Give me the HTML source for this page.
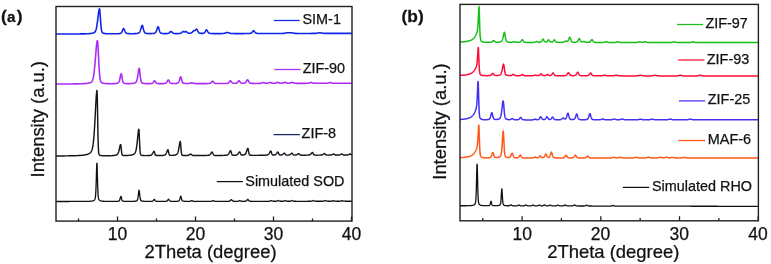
<!DOCTYPE html>
<html><head><meta charset="utf-8"><title>XRD patterns</title>
<style>html,body{margin:0;padding:0;background:#fff;overflow:hidden}svg{display:block}
text{font-family:"Liberation Sans",sans-serif}
.t{will-change:transform}</style></head>
<body>
<svg width="771" height="264" viewBox="0 0 771 264">
<rect width="771" height="264" fill="#ffffff"/>
<g><path d="M56.00 34.07 L56.25 34.07 L56.50 34.07 L56.75 34.07 L57.00 34.07 L57.25 34.07 L57.50 34.07 L57.75 34.07 L58.00 34.07 L58.25 34.07 L58.50 34.06 L58.75 34.06 L59.00 34.06 L59.25 34.06 L59.50 34.06 L59.75 34.06 L60.00 34.06 L60.25 34.06 L60.50 34.06 L60.75 34.06 L61.00 34.06 L61.25 34.05 L61.50 34.05 L61.75 34.05 L62.00 34.05 L62.25 34.05 L62.50 34.05 L62.75 34.05 L63.00 34.05 L63.25 34.05 L63.50 34.04 L63.75 34.04 L64.00 34.04 L64.25 34.04 L64.50 34.04 L64.75 34.04 L65.00 34.04 L65.25 34.04 L65.50 34.04 L65.75 34.03 L66.00 34.03 L66.25 34.03 L66.50 34.03 L66.75 34.03 L67.00 34.03 L67.25 34.03 L67.50 34.03 L67.75 34.02 L68.00 34.02 L68.25 34.02 L68.50 34.02 L68.75 34.02 L69.00 34.02 L69.25 34.02 L69.50 34.01 L69.75 34.01 L70.00 34.01 L70.25 34.01 L70.50 34.01 L70.75 34.01 L71.00 34.01 L71.25 34.00 L71.50 34.00 L71.75 34.00 L72.00 34.00 L72.25 34.00 L72.50 34.00 L72.75 33.99 L73.00 33.99 L73.25 33.99 L73.50 33.99 L73.75 33.99 L74.00 33.99 L74.25 33.98 L74.50 33.98 L74.75 33.98 L75.00 33.98 L75.25 33.98 L75.50 33.97 L75.75 33.97 L76.00 33.97 L76.25 33.97 L76.50 33.96 L76.75 33.96 L77.00 33.96 L77.25 33.96 L77.50 33.95 L77.75 33.95 L78.00 33.95 L78.25 33.95 L78.50 33.94 L78.75 33.94 L79.00 33.94 L79.25 33.94 L79.50 33.93 L79.75 33.93 L80.00 33.93 L80.25 33.92 L80.50 33.92 L80.75 33.92 L81.00 33.91 L81.25 33.91 L81.50 33.90 L81.75 33.90 L82.00 33.90 L82.25 33.89 L82.50 33.89 L82.75 33.88 L83.00 33.88 L83.25 33.87 L83.50 33.87 L83.75 33.86 L84.00 33.85 L84.25 33.85 L84.50 33.84 L84.75 33.84 L85.00 33.83 L85.25 33.82 L85.50 33.81 L85.75 33.81 L86.00 33.80 L86.25 33.79 L86.50 33.78 L86.75 33.77 L87.00 33.76 L87.25 33.75 L87.50 33.74 L87.75 33.72 L88.00 33.71 L88.25 33.70 L88.50 33.68 L88.75 33.67 L89.00 33.65 L89.25 33.63 L89.50 33.62 L89.75 33.60 L90.00 33.57 L90.25 33.55 L90.50 33.53 L90.75 33.50 L91.00 33.47 L91.25 33.44 L91.50 33.40 L91.75 33.37 L92.00 33.33 L92.25 33.28 L92.50 33.23 L92.75 33.17 L93.00 33.11 L93.25 33.04 L93.50 32.95 L93.75 32.85 L94.00 32.73 L94.25 32.58 L94.50 32.40 L94.75 32.17 L95.00 31.87 L95.25 31.50 L95.50 31.02 L95.75 30.43 L96.00 29.69 L96.25 28.79 L96.50 27.70 L96.75 26.41 L97.00 24.93 L97.25 23.24 L97.50 21.38 L97.75 19.37 L98.00 17.29 L98.25 15.19 L98.50 13.20 L98.75 11.42 L99.00 10.01 L99.25 9.09 L99.50 8.77 L99.75 9.80 L100.00 12.51 L100.25 16.13 L100.50 19.92 L100.75 23.39 L101.00 26.27 L101.25 28.49 L101.50 30.09 L101.75 31.19 L102.00 31.90 L102.25 32.37 L102.50 32.68 L102.75 32.89 L103.00 33.04 L103.25 33.15 L103.50 33.24 L103.75 33.32 L104.00 33.38 L104.25 33.44 L104.50 33.48 L104.75 33.52 L105.00 33.56 L105.25 33.59 L105.50 33.62 L105.75 33.64 L106.00 33.66 L106.25 33.68 L106.50 33.70 L106.75 33.71 L107.00 33.72 L107.25 33.74 L107.50 33.75 L107.75 33.76 L108.00 33.77 L108.25 33.77 L108.50 33.78 L108.75 33.79 L109.00 33.79 L109.25 33.80 L109.50 33.80 L109.75 33.81 L110.00 33.81 L110.25 33.81 L110.50 33.81 L110.75 33.82 L111.00 33.82 L111.25 33.82 L111.50 33.82 L111.75 33.82 L112.00 33.82 L112.25 33.82 L112.50 33.82 L112.75 33.82 L113.00 33.82 L113.25 33.82 L113.50 33.82 L113.75 33.82 L114.00 33.82 L114.25 33.82 L114.50 33.81 L114.75 33.81 L115.00 33.81 L115.25 33.80 L115.50 33.80 L115.75 33.80 L116.00 33.79 L116.25 33.79 L116.50 33.78 L116.75 33.77 L117.00 33.76 L117.25 33.76 L117.50 33.75 L117.75 33.73 L118.00 33.72 L118.25 33.71 L118.50 33.69 L118.75 33.67 L119.00 33.65 L119.25 33.62 L119.50 33.59 L119.75 33.55 L120.00 33.49 L120.25 33.42 L120.50 33.32 L120.75 33.18 L121.00 33.00 L121.25 32.75 L121.50 32.43 L121.75 32.03 L122.00 31.55 L122.25 30.99 L122.50 30.38 L122.75 29.76 L123.00 29.19 L123.25 28.77 L123.50 28.57 L123.75 28.65 L124.00 28.99 L124.25 29.51 L124.50 30.12 L124.75 30.74 L125.00 31.32 L125.25 31.83 L125.50 32.26 L125.75 32.61 L126.00 32.88 L126.25 33.09 L126.50 33.24 L126.75 33.35 L127.00 33.43 L127.25 33.49 L127.50 33.53 L127.75 33.57 L128.00 33.59 L128.25 33.62 L128.50 33.63 L128.75 33.65 L129.00 33.66 L129.25 33.67 L129.50 33.68 L129.75 33.69 L130.00 33.69 L130.25 33.70 L130.50 33.70 L130.75 33.70 L131.00 33.71 L131.25 33.71 L131.50 33.71 L131.75 33.71 L132.00 33.71 L132.25 33.70 L132.50 33.70 L132.75 33.70 L133.00 33.69 L133.25 33.69 L133.50 33.68 L133.75 33.68 L134.00 33.67 L134.25 33.66 L134.50 33.65 L134.75 33.64 L135.00 33.63 L135.25 33.62 L135.50 33.60 L135.75 33.59 L136.00 33.57 L136.25 33.55 L136.50 33.53 L136.75 33.50 L137.00 33.47 L137.25 33.43 L137.50 33.39 L137.75 33.34 L138.00 33.27 L138.25 33.19 L138.50 33.08 L138.75 32.94 L139.00 32.76 L139.25 32.52 L139.50 32.21 L139.75 31.81 L140.00 31.32 L140.25 30.73 L140.50 30.04 L140.75 29.25 L141.00 28.40 L141.25 27.53 L141.50 26.69 L141.75 25.98 L142.00 25.49 L142.25 25.32 L142.50 25.58 L142.75 26.28 L143.00 27.25 L143.25 28.32 L143.50 29.37 L143.75 30.30 L144.00 31.09 L144.25 31.72 L144.50 32.21 L144.75 32.57 L145.00 32.83 L145.25 33.02 L145.50 33.16 L145.75 33.25 L146.00 33.32 L146.25 33.38 L146.50 33.42 L146.75 33.46 L147.00 33.48 L147.25 33.51 L147.50 33.53 L147.75 33.54 L148.00 33.56 L148.25 33.57 L148.50 33.58 L148.75 33.59 L149.00 33.59 L149.25 33.60 L149.50 33.60 L149.75 33.60 L150.00 33.60 L150.25 33.60 L150.50 33.60 L150.75 33.60 L151.00 33.59 L151.25 33.59 L151.50 33.58 L151.75 33.57 L152.00 33.56 L152.25 33.55 L152.50 33.53 L152.75 33.51 L153.00 33.49 L153.25 33.46 L153.50 33.43 L153.75 33.40 L154.00 33.35 L154.25 33.29 L154.50 33.21 L154.75 33.10 L155.00 32.96 L155.25 32.77 L155.50 32.52 L155.75 32.20 L156.00 31.79 L156.25 31.28 L156.50 30.68 L156.75 29.99 L157.00 29.24 L157.25 28.48 L157.50 27.76 L157.75 27.18 L158.00 26.84 L158.25 26.82 L158.50 27.25 L158.75 28.03 L159.00 28.97 L159.25 29.92 L159.50 30.77 L159.75 31.49 L160.00 32.06 L160.25 32.49 L160.50 32.80 L160.75 33.02 L161.00 33.17 L161.25 33.27 L161.50 33.35 L161.75 33.40 L162.00 33.45 L162.25 33.48 L162.50 33.51 L162.75 33.53 L163.00 33.55 L163.25 33.56 L163.50 33.58 L163.75 33.59 L164.00 33.59 L164.25 33.60 L164.50 33.61 L164.75 33.61 L165.00 33.61 L165.25 33.61 L165.50 33.61 L165.75 33.61 L166.00 33.61 L166.25 33.60 L166.50 33.59 L166.75 33.58 L167.00 33.57 L167.25 33.54 L167.50 33.51 L167.75 33.47 L168.00 33.42 L168.25 33.35 L168.50 33.25 L168.75 33.13 L169.00 32.98 L169.25 32.79 L169.50 32.58 L169.75 32.35 L170.00 32.11 L170.25 31.88 L170.50 31.68 L170.75 31.56 L171.00 31.53 L171.25 31.60 L171.50 31.75 L171.75 31.97 L172.00 32.20 L172.25 32.44 L172.50 32.67 L172.75 32.86 L173.00 33.03 L173.25 33.17 L173.50 33.29 L173.75 33.37 L174.00 33.44 L174.25 33.48 L174.50 33.52 L174.75 33.54 L175.00 33.56 L175.25 33.58 L175.50 33.59 L175.75 33.59 L176.00 33.60 L176.25 33.60 L176.50 33.60 L176.75 33.61 L177.00 33.60 L177.25 33.60 L177.50 33.60 L177.75 33.60 L178.00 33.59 L178.25 33.58 L178.50 33.57 L178.75 33.56 L179.00 33.55 L179.25 33.53 L179.50 33.51 L179.75 33.47 L180.00 33.43 L180.25 33.37 L180.50 33.29 L180.75 33.19 L181.00 33.06 L181.25 32.89 L181.50 32.70 L181.75 32.48 L182.00 32.24 L182.25 32.01 L182.50 31.80 L182.75 31.64 L183.00 31.57 L183.25 31.58 L183.50 31.66 L183.75 31.76 L184.00 31.86 L184.25 31.92 L184.50 31.93 L184.75 31.89 L185.00 31.81 L185.25 31.70 L185.50 31.60 L185.75 31.53 L186.00 31.55 L186.25 31.65 L186.50 31.82 L186.75 32.04 L187.00 32.27 L187.25 32.49 L187.50 32.69 L187.75 32.86 L188.00 33.00 L188.25 33.11 L188.50 33.19 L188.75 33.24 L189.00 33.28 L189.25 33.30 L189.50 33.30 L189.75 33.29 L190.00 33.27 L190.25 33.23 L190.50 33.18 L190.75 33.11 L191.00 33.01 L191.25 32.89 L191.50 32.74 L191.75 32.55 L192.00 32.34 L192.25 32.10 L192.50 31.84 L192.75 31.57 L193.00 31.31 L193.25 31.08 L193.50 30.89 L193.75 30.77 L194.00 30.71 L194.25 30.67 L194.50 30.63 L194.75 30.56 L195.00 30.44 L195.25 30.25 L195.50 30.00 L195.75 29.72 L196.00 29.43 L196.25 29.21 L196.50 29.10 L196.75 29.16 L197.00 29.44 L197.25 29.89 L197.50 30.44 L197.75 30.99 L198.00 31.51 L198.25 31.95 L198.50 32.32 L198.75 32.62 L199.00 32.84 L199.25 33.00 L199.50 33.12 L199.75 33.20 L200.00 33.26 L200.25 33.30 L200.50 33.33 L200.75 33.35 L201.00 33.37 L201.25 33.38 L201.50 33.38 L201.75 33.38 L202.00 33.38 L202.25 33.37 L202.50 33.36 L202.75 33.34 L203.00 33.31 L203.25 33.26 L203.50 33.20 L203.75 33.11 L204.00 32.98 L204.25 32.81 L204.50 32.59 L204.75 32.30 L205.00 31.96 L205.25 31.56 L205.50 31.13 L205.75 30.69 L206.00 30.28 L206.25 29.98 L206.50 29.85 L206.75 29.92 L207.00 30.20 L207.25 30.62 L207.50 31.10 L207.75 31.57 L208.00 32.00 L208.25 32.37 L208.50 32.67 L208.75 32.90 L209.00 33.08 L209.25 33.20 L209.50 33.29 L209.75 33.36 L210.00 33.41 L210.25 33.44 L210.50 33.47 L210.75 33.49 L211.00 33.51 L211.25 33.52 L211.50 33.53 L211.75 33.55 L212.00 33.56 L212.25 33.56 L212.50 33.57 L212.75 33.58 L213.00 33.58 L213.25 33.59 L213.50 33.59 L213.75 33.60 L214.00 33.60 L214.25 33.60 L214.50 33.60 L214.75 33.61 L215.00 33.61 L215.25 33.61 L215.50 33.61 L215.75 33.61 L216.00 33.61 L216.25 33.61 L216.50 33.61 L216.75 33.62 L217.00 33.62 L217.25 33.62 L217.50 33.62 L217.75 33.61 L218.00 33.61 L218.25 33.61 L218.50 33.61 L218.75 33.61 L219.00 33.61 L219.25 33.61 L219.50 33.61 L219.75 33.60 L220.00 33.60 L220.25 33.60 L220.50 33.60 L220.75 33.59 L221.00 33.59 L221.25 33.58 L221.50 33.58 L221.75 33.57 L222.00 33.56 L222.25 33.56 L222.50 33.54 L222.75 33.53 L223.00 33.51 L223.25 33.49 L223.50 33.46 L223.75 33.43 L224.00 33.38 L224.25 33.33 L224.50 33.28 L224.75 33.21 L225.00 33.13 L225.25 33.04 L225.50 32.95 L225.75 32.85 L226.00 32.75 L226.25 32.66 L226.50 32.57 L226.75 32.50 L227.00 32.46 L227.25 32.44 L227.50 32.46 L227.75 32.50 L228.00 32.57 L228.25 32.65 L228.50 32.75 L228.75 32.85 L229.00 32.95 L229.25 33.04 L229.50 33.12 L229.75 33.20 L230.00 33.27 L230.25 33.33 L230.50 33.37 L230.75 33.42 L231.00 33.45 L231.25 33.48 L231.50 33.50 L231.75 33.52 L232.00 33.53 L232.25 33.54 L232.50 33.55 L232.75 33.56 L233.00 33.56 L233.25 33.57 L233.50 33.57 L233.75 33.58 L234.00 33.58 L234.25 33.58 L234.50 33.58 L234.75 33.59 L235.00 33.59 L235.25 33.59 L235.50 33.59 L235.75 33.59 L236.00 33.59 L236.25 33.59 L236.50 33.59 L236.75 33.59 L237.00 33.59 L237.25 33.59 L237.50 33.59 L237.75 33.59 L238.00 33.59 L238.25 33.59 L238.50 33.59 L238.75 33.59 L239.00 33.59 L239.25 33.59 L239.50 33.59 L239.75 33.59 L240.00 33.59 L240.25 33.59 L240.50 33.59 L240.75 33.59 L241.00 33.59 L241.25 33.59 L241.50 33.59 L241.75 33.59 L242.00 33.59 L242.25 33.59 L242.50 33.58 L242.75 33.58 L243.00 33.58 L243.25 33.58 L243.50 33.58 L243.75 33.58 L244.00 33.57 L244.25 33.57 L244.50 33.57 L244.75 33.57 L245.00 33.57 L245.25 33.56 L245.50 33.56 L245.75 33.56 L246.00 33.55 L246.25 33.55 L246.50 33.55 L246.75 33.54 L247.00 33.54 L247.25 33.53 L247.50 33.53 L247.75 33.52 L248.00 33.51 L248.25 33.51 L248.50 33.50 L248.75 33.49 L249.00 33.48 L249.25 33.46 L249.50 33.44 L249.75 33.42 L250.00 33.40 L250.25 33.36 L250.50 33.31 L250.75 33.24 L251.00 33.16 L251.25 33.03 L251.50 32.88 L251.75 32.68 L252.00 32.43 L252.25 32.14 L252.50 31.82 L252.75 31.47 L253.00 31.15 L253.25 30.88 L253.50 30.72 L253.75 30.70 L254.00 30.86 L254.25 31.14 L254.50 31.49 L254.75 31.86 L255.00 32.20 L255.25 32.50 L255.50 32.75 L255.75 32.94 L256.00 33.09 L256.25 33.20 L256.50 33.28 L256.75 33.33 L257.00 33.37 L257.25 33.40 L257.50 33.43 L257.75 33.44 L258.00 33.46 L258.25 33.47 L258.50 33.48 L258.75 33.49 L259.00 33.49 L259.25 33.50 L259.50 33.50 L259.75 33.51 L260.00 33.51 L260.25 33.52 L260.50 33.52 L260.75 33.52 L261.00 33.53 L261.25 33.53 L261.50 33.53 L261.75 33.53 L262.00 33.53 L262.25 33.53 L262.50 33.53 L262.75 33.54 L263.00 33.54 L263.25 33.54 L263.50 33.54 L263.75 33.54 L264.00 33.54 L264.25 33.54 L264.50 33.54 L264.75 33.54 L265.00 33.54 L265.25 33.54 L265.50 33.54 L265.75 33.54 L266.00 33.54 L266.25 33.54 L266.50 33.54 L266.75 33.54 L267.00 33.54 L267.25 33.54 L267.50 33.54 L267.75 33.54 L268.00 33.54 L268.25 33.54 L268.50 33.54 L268.75 33.54 L269.00 33.54 L269.25 33.54 L269.50 33.54 L269.75 33.54 L270.00 33.53 L270.25 33.53 L270.50 33.53 L270.75 33.53 L271.00 33.53 L271.25 33.53 L271.50 33.53 L271.75 33.53 L272.00 33.53 L272.25 33.53 L272.50 33.53 L272.75 33.53 L273.00 33.53 L273.25 33.53 L273.50 33.53 L273.75 33.52 L274.00 33.52 L274.25 33.52 L274.50 33.52 L274.75 33.52 L275.00 33.52 L275.25 33.52 L275.50 33.52 L275.75 33.52 L276.00 33.52 L276.25 33.51 L276.50 33.51 L276.75 33.51 L277.00 33.51 L277.25 33.51 L277.50 33.51 L277.75 33.51 L278.00 33.50 L278.25 33.50 L278.50 33.50 L278.75 33.50 L279.00 33.50 L279.25 33.49 L279.50 33.49 L279.75 33.49 L280.00 33.49 L280.25 33.48 L280.50 33.48 L280.75 33.48 L281.00 33.47 L281.25 33.47 L281.50 33.46 L281.75 33.46 L282.00 33.45 L282.25 33.44 L282.50 33.43 L282.75 33.42 L283.00 33.41 L283.25 33.39 L283.50 33.37 L283.75 33.34 L284.00 33.31 L284.25 33.28 L284.50 33.24 L284.75 33.19 L285.00 33.14 L285.25 33.08 L285.50 33.02 L285.75 32.96 L286.00 32.90 L286.25 32.84 L286.50 32.79 L286.75 32.75 L287.00 32.72 L287.25 32.71 L287.50 32.72 L287.75 32.74 L288.00 32.76 L288.25 32.78 L288.50 32.80 L288.75 32.82 L289.00 32.82 L289.25 32.82 L289.50 32.81 L289.75 32.79 L290.00 32.77 L290.25 32.75 L290.50 32.72 L290.75 32.71 L291.00 32.71 L291.25 32.72 L291.50 32.74 L291.75 32.78 L292.00 32.84 L292.25 32.89 L292.50 32.95 L292.75 33.02 L293.00 33.07 L293.25 33.13 L293.50 33.18 L293.75 33.22 L294.00 33.26 L294.25 33.30 L294.50 33.32 L294.75 33.35 L295.00 33.37 L295.25 33.38 L295.50 33.39 L295.75 33.40 L296.00 33.41 L296.25 33.42 L296.50 33.42 L296.75 33.43 L297.00 33.43 L297.25 33.43 L297.50 33.44 L297.75 33.44 L298.00 33.44 L298.25 33.44 L298.50 33.44 L298.75 33.45 L299.00 33.45 L299.25 33.45 L299.50 33.45 L299.75 33.45 L300.00 33.45 L300.25 33.45 L300.50 33.45 L300.75 33.45 L301.00 33.45 L301.25 33.45 L301.50 33.45 L301.75 33.45 L302.00 33.45 L302.25 33.45 L302.50 33.45 L302.75 33.45 L303.00 33.45 L303.25 33.45 L303.50 33.45 L303.75 33.45 L304.00 33.45 L304.25 33.45 L304.50 33.45 L304.75 33.45 L305.00 33.45 L305.25 33.45 L305.50 33.45 L305.75 33.45 L306.00 33.45 L306.25 33.45 L306.50 33.44 L306.75 33.44 L307.00 33.44 L307.25 33.44 L307.50 33.44 L307.75 33.44 L308.00 33.44 L308.25 33.44 L308.50 33.44 L308.75 33.44 L309.00 33.44 L309.25 33.44 L309.50 33.43 L309.75 33.43 L310.00 33.43 L310.25 33.43 L310.50 33.43 L310.75 33.43 L311.00 33.43 L311.25 33.43 L311.50 33.42 L311.75 33.42 L312.00 33.42 L312.25 33.42 L312.50 33.42 L312.75 33.41 L313.00 33.41 L313.25 33.41 L313.50 33.41 L313.75 33.40 L314.00 33.40 L314.25 33.40 L314.50 33.39 L314.75 33.38 L315.00 33.38 L315.25 33.37 L315.50 33.36 L315.75 33.34 L316.00 33.33 L316.25 33.31 L316.50 33.28 L316.75 33.25 L317.00 33.22 L317.25 33.18 L317.50 33.13 L317.75 33.08 L318.00 33.03 L318.25 32.97 L318.50 32.91 L318.75 32.85 L319.00 32.80 L319.25 32.76 L319.50 32.74 L319.75 32.73 L320.00 32.73 L320.25 32.76 L320.50 32.80 L320.75 32.85 L321.00 32.90 L321.25 32.96 L321.50 33.02 L321.75 33.07 L322.00 33.12 L322.25 33.17 L322.50 33.20 L322.75 33.24 L323.00 33.27 L323.25 33.29 L323.50 33.31 L323.75 33.32 L324.00 33.34 L324.25 33.35 L324.50 33.36 L324.75 33.36 L325.00 33.37 L325.25 33.37 L325.50 33.37 L325.75 33.38 L326.00 33.38 L326.25 33.38 L326.50 33.38 L326.75 33.38 L327.00 33.38 L327.25 33.39 L327.50 33.39 L327.75 33.39 L328.00 33.39 L328.25 33.39 L328.50 33.39 L328.75 33.39 L329.00 33.39 L329.25 33.39 L329.50 33.39 L329.75 33.39 L330.00 33.39 L330.25 33.39 L330.50 33.39 L330.75 33.39 L331.00 33.39 L331.25 33.39 L331.50 33.39 L331.75 33.39 L332.00 33.39 L332.25 33.39 L332.50 33.39 L332.75 33.39 L333.00 33.39 L333.25 33.39 L333.50 33.39 L333.75 33.39 L334.00 33.39 L334.25 33.38 L334.50 33.38 L334.75 33.38 L335.00 33.38 L335.25 33.38 L335.50 33.38 L335.75 33.38 L336.00 33.38 L336.25 33.38 L336.50 33.38 L336.75 33.38 L337.00 33.38 L337.25 33.38 L337.50 33.38 L337.75 33.38 L338.00 33.38 L338.25 33.38 L338.50 33.38 L338.75 33.38 L339.00 33.38 L339.25 33.38 L339.50 33.38 L339.75 33.37 L340.00 33.37 L340.25 33.37 L340.50 33.37 L340.75 33.37 L341.00 33.37 L341.25 33.37 L341.50 33.37 L341.75 33.37 L342.00 33.37 L342.25 33.37 L342.50 33.37 L342.75 33.37 L343.00 33.37 L343.25 33.37 L343.50 33.37 L343.75 33.37 L344.00 33.37 L344.25 33.36 L344.50 33.36 L344.75 33.36 L345.00 33.36 L345.25 33.36 L345.50 33.36 L345.75 33.36 L346.00 33.36 L346.25 33.36 L346.50 33.36 L346.75 33.36 L347.00 33.36 L347.25 33.36 L347.50 33.36 L347.75 33.36 L348.00 33.36 L348.25 33.36 L348.50 33.35 L348.75 33.35 L349.00 33.35 L349.25 33.35 L349.50 33.35 L349.75 33.35 L350.00 33.35 L350.25 33.35 L350.50 33.35 L350.75 33.35 L351.00 33.35 L351.25 33.35 L351.50 33.35 L351.75 33.35 L352.00 33.35" stroke="#1026ea" stroke-width="1.60" fill="none" stroke-linejoin="round"/>
<path d="M56.00 84.05 L56.25 84.05 L56.50 84.05 L56.75 84.05 L57.00 84.05 L57.25 84.05 L57.50 84.05 L57.75 84.04 L58.00 84.04 L58.25 84.04 L58.50 84.04 L58.75 84.04 L59.00 84.04 L59.25 84.04 L59.50 84.04 L59.75 84.03 L60.00 84.03 L60.25 84.03 L60.50 84.03 L60.75 84.03 L61.00 84.03 L61.25 84.03 L61.50 84.02 L61.75 84.02 L62.00 84.02 L62.25 84.02 L62.50 84.02 L62.75 84.02 L63.00 84.01 L63.25 84.01 L63.50 84.01 L63.75 84.01 L64.00 84.01 L64.25 84.01 L64.50 84.00 L64.75 84.00 L65.00 84.00 L65.25 84.00 L65.50 84.00 L65.75 84.00 L66.00 83.99 L66.25 83.99 L66.50 83.99 L66.75 83.99 L67.00 83.99 L67.25 83.98 L67.50 83.98 L67.75 83.98 L68.00 83.98 L68.25 83.98 L68.50 83.97 L68.75 83.97 L69.00 83.97 L69.25 83.97 L69.50 83.96 L69.75 83.96 L70.00 83.96 L70.25 83.96 L70.50 83.95 L70.75 83.95 L71.00 83.95 L71.25 83.95 L71.50 83.94 L71.75 83.94 L72.00 83.94 L72.25 83.94 L72.50 83.93 L72.75 83.93 L73.00 83.93 L73.25 83.92 L73.50 83.92 L73.75 83.92 L74.00 83.91 L74.25 83.91 L74.50 83.91 L74.75 83.90 L75.00 83.90 L75.25 83.90 L75.50 83.89 L75.75 83.89 L76.00 83.88 L76.25 83.88 L76.50 83.87 L76.75 83.87 L77.00 83.86 L77.25 83.86 L77.50 83.85 L77.75 83.85 L78.00 83.84 L78.25 83.84 L78.50 83.83 L78.75 83.83 L79.00 83.82 L79.25 83.81 L79.50 83.81 L79.75 83.80 L80.00 83.79 L80.25 83.79 L80.50 83.78 L80.75 83.77 L81.00 83.76 L81.25 83.76 L81.50 83.75 L81.75 83.74 L82.00 83.73 L82.25 83.72 L82.50 83.71 L82.75 83.70 L83.00 83.68 L83.25 83.67 L83.50 83.66 L83.75 83.65 L84.00 83.63 L84.25 83.62 L84.50 83.60 L84.75 83.59 L85.00 83.57 L85.25 83.55 L85.50 83.53 L85.75 83.51 L86.00 83.49 L86.25 83.47 L86.50 83.44 L86.75 83.41 L87.00 83.39 L87.25 83.36 L87.50 83.33 L87.75 83.29 L88.00 83.25 L88.25 83.21 L88.50 83.17 L88.75 83.13 L89.00 83.08 L89.25 83.02 L89.50 82.96 L89.75 82.89 L90.00 82.81 L90.25 82.72 L90.50 82.62 L90.75 82.50 L91.00 82.35 L91.25 82.17 L91.50 81.94 L91.75 81.66 L92.00 81.31 L92.25 80.87 L92.50 80.31 L92.75 79.63 L93.00 78.77 L93.25 77.73 L93.50 76.47 L93.75 74.96 L94.00 73.20 L94.25 71.16 L94.50 68.84 L94.75 66.26 L95.00 63.45 L95.25 60.43 L95.50 57.29 L95.75 54.10 L96.00 50.96 L96.25 47.99 L96.50 45.34 L96.75 43.15 L97.00 41.57 L97.25 40.70 L97.50 40.72 L97.75 42.60 L98.00 46.20 L98.25 50.90 L98.50 56.09 L98.75 61.25 L99.00 66.01 L99.25 70.14 L99.50 73.55 L99.75 76.22 L100.00 78.23 L100.25 79.69 L100.50 80.71 L100.75 81.42 L101.00 81.91 L101.25 82.25 L101.50 82.49 L101.75 82.67 L102.00 82.80 L102.25 82.92 L102.50 83.01 L102.75 83.09 L103.00 83.15 L103.25 83.21 L103.50 83.26 L103.75 83.31 L104.00 83.35 L104.25 83.39 L104.50 83.42 L104.75 83.45 L105.00 83.48 L105.25 83.50 L105.50 83.52 L105.75 83.54 L106.00 83.56 L106.25 83.57 L106.50 83.59 L106.75 83.60 L107.00 83.61 L107.25 83.62 L107.50 83.63 L107.75 83.64 L108.00 83.65 L108.25 83.66 L108.50 83.66 L108.75 83.67 L109.00 83.67 L109.25 83.68 L109.50 83.68 L109.75 83.68 L110.00 83.69 L110.25 83.69 L110.50 83.69 L110.75 83.69 L111.00 83.69 L111.25 83.69 L111.50 83.69 L111.75 83.68 L112.00 83.68 L112.25 83.68 L112.50 83.67 L112.75 83.67 L113.00 83.66 L113.25 83.66 L113.50 83.65 L113.75 83.64 L114.00 83.63 L114.25 83.62 L114.50 83.61 L114.75 83.59 L115.00 83.58 L115.25 83.56 L115.50 83.54 L115.75 83.51 L116.00 83.48 L116.25 83.45 L116.50 83.42 L116.75 83.37 L117.00 83.32 L117.25 83.26 L117.50 83.17 L117.75 83.06 L118.00 82.92 L118.25 82.72 L118.50 82.44 L118.75 82.07 L119.00 81.59 L119.25 80.96 L119.50 80.17 L119.75 79.23 L120.00 78.15 L120.25 76.99 L120.50 75.83 L120.75 74.80 L121.00 74.07 L121.25 73.81 L121.50 74.31 L121.75 75.60 L122.00 77.22 L122.25 78.80 L122.50 80.16 L122.75 81.21 L123.00 81.97 L123.25 82.48 L123.50 82.82 L123.75 83.03 L124.00 83.18 L124.25 83.27 L124.50 83.35 L124.75 83.40 L125.00 83.44 L125.25 83.48 L125.50 83.51 L125.75 83.53 L126.00 83.55 L126.25 83.57 L126.50 83.58 L126.75 83.59 L127.00 83.60 L127.25 83.60 L127.50 83.61 L127.75 83.61 L128.00 83.61 L128.25 83.62 L128.50 83.61 L128.75 83.61 L129.00 83.61 L129.25 83.61 L129.50 83.60 L129.75 83.60 L130.00 83.59 L130.25 83.58 L130.50 83.57 L130.75 83.56 L131.00 83.55 L131.25 83.54 L131.50 83.52 L131.75 83.51 L132.00 83.49 L132.25 83.47 L132.50 83.44 L132.75 83.42 L133.00 83.39 L133.25 83.36 L133.50 83.32 L133.75 83.28 L134.00 83.23 L134.25 83.17 L134.50 83.10 L134.75 83.02 L135.00 82.93 L135.25 82.80 L135.50 82.64 L135.75 82.43 L136.00 82.16 L136.25 81.78 L136.50 81.28 L136.75 80.63 L137.00 79.80 L137.25 78.76 L137.50 77.52 L137.75 76.06 L138.00 74.45 L138.25 72.75 L138.50 71.10 L138.75 69.66 L139.00 68.67 L139.25 68.31 L139.50 69.10 L139.75 71.09 L140.00 73.60 L140.25 76.06 L140.50 78.16 L140.75 79.79 L141.00 80.97 L141.25 81.77 L141.50 82.29 L141.75 82.63 L142.00 82.86 L142.25 83.01 L142.50 83.13 L142.75 83.21 L143.00 83.28 L143.25 83.34 L143.50 83.39 L143.75 83.43 L144.00 83.46 L144.25 83.49 L144.50 83.52 L144.75 83.54 L145.00 83.56 L145.25 83.57 L145.50 83.59 L145.75 83.60 L146.00 83.61 L146.25 83.62 L146.50 83.63 L146.75 83.63 L147.00 83.64 L147.25 83.64 L147.50 83.64 L147.75 83.65 L148.00 83.65 L148.25 83.65 L148.50 83.65 L148.75 83.65 L149.00 83.64 L149.25 83.64 L149.50 83.64 L149.75 83.63 L150.00 83.62 L150.25 83.61 L150.50 83.60 L150.75 83.58 L151.00 83.56 L151.25 83.53 L151.50 83.48 L151.75 83.43 L152.00 83.34 L152.25 83.23 L152.50 83.07 L152.75 82.86 L153.00 82.60 L153.25 82.29 L153.50 81.94 L153.75 81.58 L154.00 81.23 L154.25 80.97 L154.50 80.85 L154.75 80.91 L155.00 81.16 L155.25 81.52 L155.50 81.91 L155.75 82.29 L156.00 82.62 L156.25 82.90 L156.50 83.11 L156.75 83.26 L157.00 83.38 L157.25 83.45 L157.50 83.51 L157.75 83.54 L158.00 83.57 L158.25 83.59 L158.50 83.60 L158.75 83.61 L159.00 83.62 L159.25 83.63 L159.50 83.64 L159.75 83.64 L160.00 83.64 L160.25 83.65 L160.50 83.65 L160.75 83.65 L161.00 83.65 L161.25 83.65 L161.50 83.64 L161.75 83.64 L162.00 83.64 L162.25 83.63 L162.50 83.63 L162.75 83.62 L163.00 83.61 L163.25 83.60 L163.50 83.59 L163.75 83.58 L164.00 83.56 L164.25 83.55 L164.50 83.52 L164.75 83.49 L165.00 83.45 L165.25 83.40 L165.50 83.32 L165.75 83.22 L166.00 83.08 L166.25 82.88 L166.50 82.62 L166.75 82.30 L167.00 81.90 L167.25 81.45 L167.50 80.97 L167.75 80.51 L168.00 80.13 L168.25 79.93 L168.50 79.96 L168.75 80.23 L169.00 80.68 L169.25 81.20 L169.50 81.70 L169.75 82.15 L170.00 82.52 L170.25 82.81 L170.50 83.03 L170.75 83.19 L171.00 83.29 L171.25 83.37 L171.50 83.42 L171.75 83.45 L172.00 83.48 L172.25 83.49 L172.50 83.51 L172.75 83.52 L173.00 83.52 L173.25 83.53 L173.50 83.53 L173.75 83.53 L174.00 83.53 L174.25 83.52 L174.50 83.52 L174.75 83.51 L175.00 83.50 L175.25 83.49 L175.50 83.47 L175.75 83.46 L176.00 83.44 L176.25 83.41 L176.50 83.38 L176.75 83.34 L177.00 83.29 L177.25 83.22 L177.50 83.13 L177.75 83.01 L178.00 82.83 L178.25 82.59 L178.50 82.26 L178.75 81.81 L179.00 81.25 L179.25 80.56 L179.50 79.76 L179.75 78.89 L180.00 78.04 L180.25 77.32 L180.50 76.88 L180.75 76.85 L181.00 77.35 L181.25 78.23 L181.50 79.26 L181.75 80.25 L182.00 81.11 L182.25 81.79 L182.50 82.31 L182.75 82.68 L183.00 82.93 L183.25 83.10 L183.50 83.21 L183.75 83.29 L184.00 83.35 L184.25 83.39 L184.50 83.42 L184.75 83.45 L185.00 83.48 L185.25 83.49 L185.50 83.51 L185.75 83.52 L186.00 83.53 L186.25 83.54 L186.50 83.55 L186.75 83.56 L187.00 83.56 L187.25 83.56 L187.50 83.56 L187.75 83.56 L188.00 83.56 L188.25 83.55 L188.50 83.54 L188.75 83.52 L189.00 83.50 L189.25 83.47 L189.50 83.43 L189.75 83.38 L190.00 83.31 L190.25 83.23 L190.50 83.14 L190.75 83.05 L191.00 82.95 L191.25 82.86 L191.50 82.79 L191.75 82.76 L192.00 82.76 L192.25 82.81 L192.50 82.88 L192.75 82.98 L193.00 83.07 L193.25 83.17 L193.50 83.26 L193.75 83.34 L194.00 83.40 L194.25 83.46 L194.50 83.50 L194.75 83.53 L195.00 83.55 L195.25 83.57 L195.50 83.59 L195.75 83.60 L196.00 83.60 L196.25 83.61 L196.50 83.61 L196.75 83.62 L197.00 83.62 L197.25 83.62 L197.50 83.62 L197.75 83.63 L198.00 83.63 L198.25 83.63 L198.50 83.63 L198.75 83.63 L199.00 83.63 L199.25 83.63 L199.50 83.63 L199.75 83.63 L200.00 83.63 L200.25 83.63 L200.50 83.63 L200.75 83.63 L201.00 83.63 L201.25 83.63 L201.50 83.63 L201.75 83.63 L202.00 83.63 L202.25 83.63 L202.50 83.63 L202.75 83.63 L203.00 83.62 L203.25 83.62 L203.50 83.62 L203.75 83.62 L204.00 83.62 L204.25 83.62 L204.50 83.61 L204.75 83.61 L205.00 83.61 L205.25 83.61 L205.50 83.60 L205.75 83.60 L206.00 83.60 L206.25 83.59 L206.50 83.59 L206.75 83.58 L207.00 83.58 L207.25 83.57 L207.50 83.56 L207.75 83.56 L208.00 83.55 L208.25 83.54 L208.50 83.52 L208.75 83.51 L209.00 83.49 L209.25 83.46 L209.50 83.42 L209.75 83.37 L210.00 83.30 L210.25 83.20 L210.50 83.07 L210.75 82.90 L211.00 82.69 L211.25 82.43 L211.50 82.14 L211.75 81.83 L212.00 81.55 L212.25 81.33 L212.50 81.23 L212.75 81.27 L213.00 81.45 L213.25 81.71 L213.50 82.01 L213.75 82.31 L214.00 82.58 L214.25 82.81 L214.50 82.99 L214.75 83.14 L215.00 83.25 L215.25 83.33 L215.50 83.38 L215.75 83.42 L216.00 83.45 L216.25 83.47 L216.50 83.49 L216.75 83.50 L217.00 83.51 L217.25 83.52 L217.50 83.53 L217.75 83.53 L218.00 83.54 L218.25 83.54 L218.50 83.54 L218.75 83.55 L219.00 83.55 L219.25 83.55 L219.50 83.55 L219.75 83.55 L220.00 83.55 L220.25 83.55 L220.50 83.55 L220.75 83.55 L221.00 83.55 L221.25 83.55 L221.50 83.55 L221.75 83.55 L222.00 83.55 L222.25 83.54 L222.50 83.54 L222.75 83.54 L223.00 83.54 L223.25 83.54 L223.50 83.53 L223.75 83.53 L224.00 83.52 L224.25 83.52 L224.50 83.51 L224.75 83.51 L225.00 83.50 L225.25 83.49 L225.50 83.49 L225.75 83.48 L226.00 83.46 L226.25 83.45 L226.50 83.43 L226.75 83.41 L227.00 83.39 L227.25 83.35 L227.50 83.31 L227.75 83.24 L228.00 83.15 L228.25 83.02 L228.50 82.86 L228.75 82.65 L229.00 82.38 L229.25 82.08 L229.50 81.74 L229.75 81.40 L230.00 81.10 L230.25 80.90 L230.50 80.84 L230.75 80.96 L231.00 81.20 L231.25 81.52 L231.50 81.85 L231.75 82.18 L232.00 82.46 L232.25 82.70 L232.50 82.88 L232.75 83.03 L233.00 83.13 L233.25 83.20 L233.50 83.25 L233.75 83.28 L234.00 83.30 L234.25 83.32 L234.50 83.32 L234.75 83.32 L235.00 83.32 L235.25 83.31 L235.50 83.29 L235.75 83.26 L236.00 83.22 L236.25 83.16 L236.50 83.07 L236.75 82.95 L237.00 82.79 L237.25 82.58 L237.50 82.32 L237.75 82.01 L238.00 81.68 L238.25 81.34 L238.50 81.04 L238.75 80.84 L239.00 80.79 L239.25 80.91 L239.50 81.15 L239.75 81.47 L240.00 81.81 L240.25 82.13 L240.50 82.41 L240.75 82.65 L241.00 82.84 L241.25 82.98 L241.50 83.08 L241.75 83.15 L242.00 83.20 L242.25 83.23 L242.50 83.25 L242.75 83.26 L243.00 83.27 L243.25 83.27 L243.50 83.26 L243.75 83.24 L244.00 83.22 L244.25 83.19 L244.50 83.14 L244.75 83.07 L245.00 82.96 L245.25 82.82 L245.50 82.62 L245.75 82.36 L246.00 82.03 L246.25 81.64 L246.50 81.19 L246.75 80.73 L247.00 80.29 L247.25 79.96 L247.50 79.80 L247.75 79.88 L248.00 80.20 L248.25 80.66 L248.50 81.16 L248.75 81.65 L249.00 82.08 L249.25 82.43 L249.50 82.70 L249.75 82.90 L250.00 83.04 L250.25 83.14 L250.50 83.21 L250.75 83.26 L251.00 83.29 L251.25 83.32 L251.50 83.34 L251.75 83.36 L252.00 83.37 L252.25 83.38 L252.50 83.39 L252.75 83.40 L253.00 83.41 L253.25 83.42 L253.50 83.42 L253.75 83.43 L254.00 83.43 L254.25 83.43 L254.50 83.44 L254.75 83.44 L255.00 83.44 L255.25 83.44 L255.50 83.44 L255.75 83.44 L256.00 83.44 L256.25 83.44 L256.50 83.44 L256.75 83.44 L257.00 83.44 L257.25 83.44 L257.50 83.44 L257.75 83.44 L258.00 83.43 L258.25 83.43 L258.50 83.43 L258.75 83.42 L259.00 83.42 L259.25 83.41 L259.50 83.40 L259.75 83.39 L260.00 83.37 L260.25 83.35 L260.50 83.32 L260.75 83.28 L261.00 83.23 L261.25 83.17 L261.50 83.10 L261.75 83.01 L262.00 82.92 L262.25 82.82 L262.50 82.72 L262.75 82.63 L263.00 82.57 L263.25 82.55 L263.50 82.57 L263.75 82.62 L264.00 82.71 L264.25 82.80 L264.50 82.89 L264.75 82.98 L265.00 83.06 L265.25 83.13 L265.50 83.19 L265.75 83.23 L266.00 83.26 L266.25 83.27 L266.50 83.28 L266.75 83.28 L267.00 83.27 L267.25 83.25 L267.50 83.21 L267.75 83.17 L268.00 83.11 L268.25 83.03 L268.50 82.94 L268.75 82.84 L269.00 82.73 L269.25 82.63 L269.50 82.53 L269.75 82.46 L270.00 82.43 L270.25 82.44 L270.50 82.49 L270.75 82.58 L271.00 82.69 L271.25 82.79 L271.50 82.90 L271.75 82.99 L272.00 83.07 L272.25 83.14 L272.50 83.19 L272.75 83.23 L273.00 83.26 L273.25 83.28 L273.50 83.29 L273.75 83.29 L274.00 83.29 L274.25 83.28 L274.50 83.26 L274.75 83.24 L275.00 83.20 L275.25 83.15 L275.50 83.09 L275.75 83.01 L276.00 82.92 L276.25 82.82 L276.50 82.71 L276.75 82.61 L277.00 82.51 L277.25 82.44 L277.50 82.41 L277.75 82.42 L278.00 82.47 L278.25 82.56 L278.50 82.66 L278.75 82.77 L279.00 82.88 L279.25 82.97 L279.50 83.05 L279.75 83.11 L280.00 83.17 L280.25 83.21 L280.50 83.23 L280.75 83.25 L281.00 83.26 L281.25 83.26 L281.50 83.26 L281.75 83.24 L282.00 83.22 L282.25 83.19 L282.50 83.14 L282.75 83.08 L283.00 83.01 L283.25 82.92 L283.50 82.82 L283.75 82.72 L284.00 82.61 L284.25 82.51 L284.50 82.43 L284.75 82.39 L285.00 82.39 L285.25 82.44 L285.50 82.52 L285.75 82.62 L286.00 82.73 L286.25 82.84 L286.50 82.93 L286.75 83.02 L287.00 83.08 L287.25 83.14 L287.50 83.18 L287.75 83.21 L288.00 83.23 L288.25 83.24 L288.50 83.24 L288.75 83.23 L289.00 83.21 L289.25 83.19 L289.50 83.15 L289.75 83.09 L290.00 83.03 L290.25 82.95 L290.50 82.85 L290.75 82.75 L291.00 82.64 L291.25 82.54 L291.50 82.45 L291.75 82.40 L292.00 82.38 L292.25 82.42 L292.50 82.49 L292.75 82.59 L293.00 82.69 L293.25 82.80 L293.50 82.91 L293.75 83.00 L294.00 83.08 L294.25 83.14 L294.50 83.19 L294.75 83.23 L295.00 83.26 L295.25 83.28 L295.50 83.30 L295.75 83.31 L296.00 83.32 L296.25 83.33 L296.50 83.34 L296.75 83.34 L297.00 83.34 L297.25 83.35 L297.50 83.35 L297.75 83.35 L298.00 83.35 L298.25 83.36 L298.50 83.36 L298.75 83.36 L299.00 83.36 L299.25 83.36 L299.50 83.36 L299.75 83.36 L300.00 83.36 L300.25 83.36 L300.50 83.36 L300.75 83.36 L301.00 83.36 L301.25 83.36 L301.50 83.36 L301.75 83.36 L302.00 83.36 L302.25 83.36 L302.50 83.36 L302.75 83.36 L303.00 83.35 L303.25 83.35 L303.50 83.35 L303.75 83.35 L304.00 83.35 L304.25 83.35 L304.50 83.35 L304.75 83.34 L305.00 83.34 L305.25 83.34 L305.50 83.34 L305.75 83.33 L306.00 83.33 L306.25 83.32 L306.50 83.32 L306.75 83.31 L307.00 83.30 L307.25 83.29 L307.50 83.28 L307.75 83.26 L308.00 83.24 L308.25 83.21 L308.50 83.17 L308.75 83.12 L309.00 83.05 L309.25 82.98 L309.50 82.89 L309.75 82.80 L310.00 82.70 L310.25 82.60 L310.50 82.52 L310.75 82.47 L311.00 82.46 L311.25 82.48 L311.50 82.55 L311.75 82.63 L312.00 82.73 L312.25 82.83 L312.50 82.92 L312.75 83.00 L313.00 83.07 L313.25 83.13 L313.50 83.17 L313.75 83.21 L314.00 83.23 L314.25 83.25 L314.50 83.27 L314.75 83.28 L315.00 83.29 L315.25 83.29 L315.50 83.30 L315.75 83.30 L316.00 83.30 L316.25 83.31 L316.50 83.31 L316.75 83.31 L317.00 83.31 L317.25 83.31 L317.50 83.31 L317.75 83.31 L318.00 83.31 L318.25 83.32 L318.50 83.32 L318.75 83.32 L319.00 83.32 L319.25 83.32 L319.50 83.32 L319.75 83.31 L320.00 83.31 L320.25 83.31 L320.50 83.31 L320.75 83.31 L321.00 83.31 L321.25 83.31 L321.50 83.31 L321.75 83.31 L322.00 83.31 L322.25 83.31 L322.50 83.31 L322.75 83.30 L323.00 83.30 L323.25 83.30 L323.50 83.30 L323.75 83.30 L324.00 83.29 L324.25 83.29 L324.50 83.29 L324.75 83.29 L325.00 83.28 L325.25 83.28 L325.50 83.27 L325.75 83.27 L326.00 83.26 L326.25 83.25 L326.50 83.23 L326.75 83.22 L327.00 83.19 L327.25 83.16 L327.50 83.12 L327.75 83.07 L328.00 83.01 L328.25 82.94 L328.50 82.86 L328.75 82.77 L329.00 82.69 L329.25 82.60 L329.50 82.54 L329.75 82.51 L330.00 82.51 L330.25 82.55 L330.50 82.62 L330.75 82.70 L331.00 82.79 L331.25 82.87 L331.50 82.95 L331.75 83.02 L332.00 83.07 L332.25 83.12 L332.50 83.16 L332.75 83.18 L333.00 83.21 L333.25 83.22 L333.50 83.23 L333.75 83.24 L334.00 83.25 L334.25 83.25 L334.50 83.26 L334.75 83.26 L335.00 83.26 L335.25 83.26 L335.50 83.27 L335.75 83.27 L336.00 83.27 L336.25 83.27 L336.50 83.27 L336.75 83.27 L337.00 83.27 L337.25 83.27 L337.50 83.27 L337.75 83.27 L338.00 83.27 L338.25 83.27 L338.50 83.27 L338.75 83.27 L339.00 83.27 L339.25 83.27 L339.50 83.27 L339.75 83.27 L340.00 83.27 L340.25 83.27 L340.50 83.27 L340.75 83.27 L341.00 83.27 L341.25 83.27 L341.50 83.27 L341.75 83.27 L342.00 83.27 L342.25 83.27 L342.50 83.27 L342.75 83.27 L343.00 83.27 L343.25 83.27 L343.50 83.27 L343.75 83.26 L344.00 83.26 L344.25 83.26 L344.50 83.26 L344.75 83.26 L345.00 83.26 L345.25 83.26 L345.50 83.26 L345.75 83.26 L346.00 83.26 L346.25 83.26 L346.50 83.26 L346.75 83.26 L347.00 83.26 L347.25 83.26 L347.50 83.26 L347.75 83.26 L348.00 83.26 L348.25 83.25 L348.50 83.25 L348.75 83.25 L349.00 83.25 L349.25 83.25 L349.50 83.25 L349.75 83.25 L350.00 83.25 L350.25 83.25 L350.50 83.25 L350.75 83.25 L351.00 83.25 L351.25 83.25 L351.50 83.25 L351.75 83.25 L352.00 83.24" stroke="#ac2cf6" stroke-width="1.60" fill="none" stroke-linejoin="round"/>
<path d="M56.00 155.99 L56.25 155.99 L56.50 155.99 L56.75 155.99 L57.00 155.98 L57.25 155.98 L57.50 155.98 L57.75 155.98 L58.00 155.97 L58.25 155.97 L58.50 155.97 L58.75 155.97 L59.00 155.97 L59.25 155.96 L59.50 155.96 L59.75 155.96 L60.00 155.96 L60.25 155.95 L60.50 155.95 L60.75 155.95 L61.00 155.95 L61.25 155.94 L61.50 155.94 L61.75 155.94 L62.00 155.93 L62.25 155.93 L62.50 155.93 L62.75 155.93 L63.00 155.92 L63.25 155.92 L63.50 155.92 L63.75 155.91 L64.00 155.91 L64.25 155.91 L64.50 155.90 L64.75 155.90 L65.00 155.90 L65.25 155.89 L65.50 155.89 L65.75 155.89 L66.00 155.88 L66.25 155.88 L66.50 155.88 L66.75 155.87 L67.00 155.87 L67.25 155.87 L67.50 155.86 L67.75 155.86 L68.00 155.85 L68.25 155.85 L68.50 155.84 L68.75 155.84 L69.00 155.84 L69.25 155.83 L69.50 155.83 L69.75 155.82 L70.00 155.82 L70.25 155.81 L70.50 155.81 L70.75 155.80 L71.00 155.80 L71.25 155.79 L71.50 155.78 L71.75 155.78 L72.00 155.77 L72.25 155.77 L72.50 155.76 L72.75 155.75 L73.00 155.75 L73.25 155.74 L73.50 155.73 L73.75 155.73 L74.00 155.72 L74.25 155.71 L74.50 155.70 L74.75 155.70 L75.00 155.69 L75.25 155.68 L75.50 155.67 L75.75 155.66 L76.00 155.65 L76.25 155.64 L76.50 155.63 L76.75 155.62 L77.00 155.61 L77.25 155.60 L77.50 155.59 L77.75 155.58 L78.00 155.57 L78.25 155.55 L78.50 155.54 L78.75 155.53 L79.00 155.51 L79.25 155.50 L79.50 155.48 L79.75 155.47 L80.00 155.45 L80.25 155.43 L80.50 155.42 L80.75 155.40 L81.00 155.38 L81.25 155.36 L81.50 155.34 L81.75 155.32 L82.00 155.29 L82.25 155.27 L82.50 155.24 L82.75 155.22 L83.00 155.19 L83.25 155.16 L83.50 155.13 L83.75 155.10 L84.00 155.06 L84.25 155.03 L84.50 154.99 L84.75 154.95 L85.00 154.90 L85.25 154.86 L85.50 154.81 L85.75 154.76 L86.00 154.71 L86.25 154.65 L86.50 154.59 L86.75 154.52 L87.00 154.45 L87.25 154.37 L87.50 154.29 L87.75 154.20 L88.00 154.11 L88.25 154.01 L88.50 153.90 L88.75 153.78 L89.00 153.65 L89.25 153.50 L89.50 153.34 L89.75 153.17 L90.00 152.97 L90.25 152.75 L90.50 152.50 L90.75 152.21 L91.00 151.87 L91.25 151.47 L91.50 150.99 L91.75 150.42 L92.00 149.72 L92.25 148.86 L92.50 147.82 L92.75 146.55 L93.00 145.02 L93.25 143.19 L93.50 141.00 L93.75 138.44 L94.00 135.47 L94.25 132.09 L94.50 128.28 L94.75 124.09 L95.00 119.57 L95.25 114.79 L95.50 109.89 L95.75 105.04 L96.00 100.47 L96.25 96.44 L96.50 93.26 L96.75 91.21 L97.00 90.50 L97.25 95.60 L97.50 108.25 L97.75 123.19 L98.00 136.15 L98.25 145.19 L98.50 150.45 L98.75 153.09 L99.00 154.27 L99.25 154.79 L99.50 155.04 L99.75 155.19 L100.00 155.30 L100.25 155.38 L100.50 155.44 L100.75 155.49 L101.00 155.53 L101.25 155.57 L101.50 155.60 L101.75 155.62 L102.00 155.64 L102.25 155.66 L102.50 155.67 L102.75 155.68 L103.00 155.69 L103.25 155.70 L103.50 155.71 L103.75 155.72 L104.00 155.72 L104.25 155.73 L104.50 155.73 L104.75 155.73 L105.00 155.73 L105.25 155.74 L105.50 155.74 L105.75 155.74 L106.00 155.74 L106.25 155.74 L106.50 155.73 L106.75 155.73 L107.00 155.73 L107.25 155.73 L107.50 155.73 L107.75 155.72 L108.00 155.72 L108.25 155.72 L108.50 155.71 L108.75 155.71 L109.00 155.70 L109.25 155.70 L109.50 155.69 L109.75 155.69 L110.00 155.68 L110.25 155.67 L110.50 155.66 L110.75 155.65 L111.00 155.65 L111.25 155.64 L111.50 155.62 L111.75 155.61 L112.00 155.60 L112.25 155.59 L112.50 155.57 L112.75 155.56 L113.00 155.54 L113.25 155.52 L113.50 155.50 L113.75 155.47 L114.00 155.45 L114.25 155.42 L114.50 155.39 L114.75 155.35 L115.00 155.31 L115.25 155.27 L115.50 155.22 L115.75 155.16 L116.00 155.09 L116.25 155.01 L116.50 154.91 L116.75 154.79 L117.00 154.63 L117.25 154.43 L117.50 154.18 L117.75 153.85 L118.00 153.42 L118.25 152.89 L118.50 152.23 L118.75 151.44 L119.00 150.51 L119.25 149.46 L119.50 148.31 L119.75 147.14 L120.00 146.03 L120.25 145.14 L120.50 144.61 L120.75 144.68 L121.00 146.32 L121.25 148.87 L121.50 151.34 L121.75 153.19 L122.00 154.34 L122.25 154.94 L122.50 155.23 L122.75 155.36 L123.00 155.42 L123.25 155.46 L123.50 155.49 L123.75 155.51 L124.00 155.52 L124.25 155.53 L124.50 155.53 L124.75 155.53 L125.00 155.53 L125.25 155.53 L125.50 155.53 L125.75 155.52 L126.00 155.52 L126.25 155.51 L126.50 155.50 L126.75 155.49 L127.00 155.48 L127.25 155.47 L127.50 155.46 L127.75 155.44 L128.00 155.43 L128.25 155.41 L128.50 155.39 L128.75 155.37 L129.00 155.35 L129.25 155.33 L129.50 155.30 L129.75 155.28 L130.00 155.25 L130.25 155.21 L130.50 155.18 L130.75 155.14 L131.00 155.10 L131.25 155.05 L131.50 155.01 L131.75 154.95 L132.00 154.89 L132.25 154.82 L132.50 154.75 L132.75 154.67 L133.00 154.57 L133.25 154.47 L133.50 154.35 L133.75 154.21 L134.00 154.04 L134.25 153.85 L134.50 153.61 L134.75 153.31 L135.00 152.94 L135.25 152.48 L135.50 151.89 L135.75 151.14 L136.00 150.20 L136.25 149.03 L136.50 147.61 L136.75 145.91 L137.00 143.93 L137.25 141.68 L137.50 139.21 L137.75 136.63 L138.00 134.07 L138.25 131.79 L138.50 130.05 L138.75 129.15 L139.00 129.94 L139.25 134.49 L139.50 140.70 L139.75 146.37 L140.00 150.46 L140.25 152.90 L140.50 154.16 L140.75 154.75 L141.00 155.03 L141.25 155.19 L141.50 155.28 L141.75 155.35 L142.00 155.41 L142.25 155.45 L142.50 155.48 L142.75 155.51 L143.00 155.53 L143.25 155.55 L143.50 155.56 L143.75 155.58 L144.00 155.59 L144.25 155.59 L144.50 155.60 L144.75 155.60 L145.00 155.61 L145.25 155.61 L145.50 155.61 L145.75 155.61 L146.00 155.61 L146.25 155.60 L146.50 155.60 L146.75 155.60 L147.00 155.59 L147.25 155.59 L147.50 155.58 L147.75 155.57 L148.00 155.56 L148.25 155.55 L148.50 155.54 L148.75 155.52 L149.00 155.51 L149.25 155.49 L149.50 155.46 L149.75 155.43 L150.00 155.40 L150.25 155.36 L150.50 155.30 L150.75 155.23 L151.00 155.14 L151.25 155.02 L151.50 154.86 L151.75 154.65 L152.00 154.39 L152.25 154.07 L152.50 153.68 L152.75 153.24 L153.00 152.75 L153.25 152.25 L153.50 151.79 L153.75 151.45 L154.00 151.29 L154.25 151.48 L154.50 152.19 L154.75 153.11 L155.00 153.97 L155.25 154.64 L155.50 155.07 L155.75 155.32 L156.00 155.45 L156.25 155.51 L156.50 155.54 L156.75 155.56 L157.00 155.57 L157.25 155.58 L157.50 155.58 L157.75 155.58 L158.00 155.59 L158.25 155.59 L158.50 155.58 L158.75 155.58 L159.00 155.58 L159.25 155.57 L159.50 155.57 L159.75 155.56 L160.00 155.56 L160.25 155.55 L160.50 155.54 L160.75 155.53 L161.00 155.52 L161.25 155.51 L161.50 155.50 L161.75 155.48 L162.00 155.47 L162.25 155.45 L162.50 155.43 L162.75 155.41 L163.00 155.38 L163.25 155.35 L163.50 155.32 L163.75 155.27 L164.00 155.22 L164.25 155.16 L164.50 155.08 L164.75 154.97 L165.00 154.84 L165.25 154.66 L165.50 154.42 L165.75 154.12 L166.00 153.74 L166.25 153.28 L166.50 152.74 L166.75 152.12 L167.00 151.46 L167.25 150.82 L167.50 150.26 L167.75 149.89 L168.00 149.80 L168.25 150.36 L168.50 151.45 L168.75 152.67 L169.00 153.71 L169.25 154.46 L169.50 154.92 L169.75 155.17 L170.00 155.29 L170.25 155.35 L170.50 155.38 L170.75 155.39 L171.00 155.40 L171.25 155.40 L171.50 155.39 L171.75 155.39 L172.00 155.38 L172.25 155.37 L172.50 155.36 L172.75 155.34 L173.00 155.32 L173.25 155.30 L173.50 155.28 L173.75 155.25 L174.00 155.22 L174.25 155.19 L174.50 155.15 L174.75 155.11 L175.00 155.06 L175.25 155.00 L175.50 154.94 L175.75 154.86 L176.00 154.76 L176.25 154.65 L176.50 154.51 L176.75 154.33 L177.00 154.09 L177.25 153.78 L177.50 153.36 L177.75 152.83 L178.00 152.13 L178.25 151.25 L178.50 150.17 L178.75 148.88 L179.00 147.42 L179.25 145.83 L179.50 144.23 L179.75 142.81 L180.00 141.81 L180.25 141.44 L180.50 142.67 L180.75 145.62 L181.00 148.91 L181.25 151.62 L181.50 153.43 L181.75 154.44 L182.00 154.93 L182.25 155.17 L182.50 155.28 L182.75 155.34 L183.00 155.39 L183.25 155.42 L183.50 155.44 L183.75 155.46 L184.00 155.48 L184.25 155.49 L184.50 155.49 L184.75 155.50 L185.00 155.50 L185.25 155.50 L185.50 155.50 L185.75 155.50 L186.00 155.50 L186.25 155.49 L186.50 155.49 L186.75 155.47 L187.00 155.46 L187.25 155.44 L187.50 155.41 L187.75 155.38 L188.00 155.33 L188.25 155.28 L188.50 155.20 L188.75 155.11 L189.00 155.00 L189.25 154.88 L189.50 154.73 L189.75 154.58 L190.00 154.42 L190.25 154.28 L190.50 154.17 L190.75 154.11 L191.00 154.13 L191.25 154.26 L191.50 154.47 L191.75 154.72 L192.00 154.95 L192.25 155.15 L192.50 155.30 L192.75 155.40 L193.00 155.47 L193.25 155.51 L193.50 155.53 L193.75 155.55 L194.00 155.56 L194.25 155.56 L194.50 155.56 L194.75 155.57 L195.00 155.57 L195.25 155.57 L195.50 155.57 L195.75 155.57 L196.00 155.57 L196.25 155.57 L196.50 155.57 L196.75 155.57 L197.00 155.57 L197.25 155.57 L197.50 155.57 L197.75 155.57 L198.00 155.57 L198.25 155.57 L198.50 155.56 L198.75 155.56 L199.00 155.56 L199.25 155.56 L199.50 155.56 L199.75 155.56 L200.00 155.56 L200.25 155.55 L200.50 155.55 L200.75 155.55 L201.00 155.55 L201.25 155.54 L201.50 155.54 L201.75 155.54 L202.00 155.54 L202.25 155.53 L202.50 155.53 L202.75 155.53 L203.00 155.52 L203.25 155.52 L203.50 155.52 L203.75 155.51 L204.00 155.51 L204.25 155.50 L204.50 155.50 L204.75 155.49 L205.00 155.48 L205.25 155.48 L205.50 155.47 L205.75 155.46 L206.00 155.45 L206.25 155.44 L206.50 155.43 L206.75 155.42 L207.00 155.40 L207.25 155.38 L207.50 155.36 L207.75 155.34 L208.00 155.31 L208.25 155.28 L208.50 155.24 L208.75 155.18 L209.00 155.11 L209.25 155.01 L209.50 154.88 L209.75 154.72 L210.00 154.51 L210.25 154.25 L210.50 153.94 L210.75 153.59 L211.00 153.20 L211.25 152.80 L211.50 152.44 L211.75 152.16 L212.00 152.04 L212.25 152.15 L212.50 152.56 L212.75 153.14 L213.00 153.75 L213.25 154.30 L213.50 154.72 L213.75 155.01 L214.00 155.20 L214.25 155.31 L214.50 155.37 L214.75 155.41 L215.00 155.43 L215.25 155.44 L215.50 155.45 L215.75 155.45 L216.00 155.46 L216.25 155.46 L216.50 155.46 L216.75 155.46 L217.00 155.47 L217.25 155.47 L217.50 155.47 L217.75 155.47 L218.00 155.47 L218.25 155.46 L218.50 155.46 L218.75 155.46 L219.00 155.46 L219.25 155.46 L219.50 155.45 L219.75 155.45 L220.00 155.45 L220.25 155.45 L220.50 155.44 L220.75 155.44 L221.00 155.44 L221.25 155.43 L221.50 155.43 L221.75 155.42 L222.00 155.42 L222.25 155.41 L222.50 155.40 L222.75 155.40 L223.00 155.39 L223.25 155.38 L223.50 155.37 L223.75 155.36 L224.00 155.35 L224.25 155.34 L224.50 155.33 L224.75 155.31 L225.00 155.30 L225.25 155.28 L225.50 155.26 L225.75 155.23 L226.00 155.21 L226.25 155.17 L226.50 155.14 L226.75 155.09 L227.00 155.03 L227.25 154.95 L227.50 154.85 L227.75 154.71 L228.00 154.54 L228.25 154.31 L228.50 154.02 L228.75 153.67 L229.00 153.25 L229.25 152.76 L229.50 152.23 L229.75 151.68 L230.00 151.18 L230.25 150.80 L230.50 150.62 L230.75 150.80 L231.00 151.45 L231.25 152.35 L231.50 153.24 L231.75 153.98 L232.00 154.51 L232.25 154.85 L232.50 155.05 L232.75 155.15 L233.00 155.20 L233.25 155.23 L233.50 155.24 L233.75 155.24 L234.00 155.24 L234.25 155.23 L234.50 155.23 L234.75 155.21 L235.00 155.20 L235.25 155.18 L235.50 155.16 L235.75 155.13 L236.00 155.09 L236.25 155.04 L236.50 154.97 L236.75 154.88 L237.00 154.77 L237.25 154.62 L237.50 154.42 L237.75 154.18 L238.00 153.89 L238.25 153.55 L238.50 153.17 L238.75 152.77 L239.00 152.38 L239.25 152.06 L239.50 151.86 L239.75 151.86 L240.00 152.21 L240.25 152.81 L240.50 153.47 L240.75 154.05 L241.00 154.50 L241.25 154.79 L241.50 154.96 L241.75 155.04 L242.00 155.08 L242.25 155.09 L242.50 155.08 L242.75 155.07 L243.00 155.04 L243.25 155.01 L243.50 154.97 L243.75 154.93 L244.00 154.86 L244.25 154.79 L244.50 154.68 L244.75 154.54 L245.00 154.36 L245.25 154.12 L245.50 153.81 L245.75 153.40 L246.00 152.91 L246.25 152.30 L246.50 151.61 L246.75 150.83 L247.00 150.03 L247.25 149.27 L247.50 148.67 L247.75 148.35 L248.00 148.50 L248.25 149.52 L248.50 150.98 L248.75 152.42 L249.00 153.56 L249.25 154.34 L249.50 154.80 L249.75 155.04 L250.00 155.16 L250.25 155.22 L250.50 155.26 L250.75 155.28 L251.00 155.30 L251.25 155.31 L251.50 155.32 L251.75 155.33 L252.00 155.34 L252.25 155.34 L252.50 155.35 L252.75 155.35 L253.00 155.36 L253.25 155.36 L253.50 155.36 L253.75 155.36 L254.00 155.36 L254.25 155.36 L254.50 155.36 L254.75 155.36 L255.00 155.36 L255.25 155.36 L255.50 155.36 L255.75 155.36 L256.00 155.36 L256.25 155.36 L256.50 155.36 L256.75 155.36 L257.00 155.36 L257.25 155.36 L257.50 155.35 L257.75 155.35 L258.00 155.35 L258.25 155.35 L258.50 155.35 L258.75 155.34 L259.00 155.34 L259.25 155.34 L259.50 155.34 L259.75 155.33 L260.00 155.33 L260.25 155.33 L260.50 155.33 L260.75 155.32 L261.00 155.32 L261.25 155.31 L261.50 155.31 L261.75 155.31 L262.00 155.30 L262.25 155.30 L262.50 155.29 L262.75 155.28 L263.00 155.28 L263.25 155.27 L263.50 155.26 L263.75 155.25 L264.00 155.25 L264.25 155.24 L264.50 155.22 L264.75 155.21 L265.00 155.20 L265.25 155.18 L265.50 155.17 L265.75 155.15 L266.00 155.13 L266.25 155.10 L266.50 155.07 L266.75 155.04 L267.00 154.99 L267.25 154.93 L267.50 154.86 L267.75 154.77 L268.00 154.64 L268.25 154.48 L268.50 154.27 L268.75 154.01 L269.00 153.68 L269.25 153.30 L269.50 152.86 L269.75 152.39 L270.00 151.91 L270.25 151.49 L270.50 151.18 L270.75 151.07 L271.00 151.31 L271.25 151.94 L271.50 152.73 L271.75 153.49 L272.00 154.10 L272.25 154.53 L272.50 154.79 L272.75 154.93 L273.00 155.00 L273.25 155.03 L273.50 155.03 L273.75 155.02 L274.00 155.00 L274.25 154.97 L274.50 154.93 L274.75 154.87 L275.00 154.79 L275.25 154.69 L275.50 154.54 L275.75 154.36 L276.00 154.14 L276.25 153.87 L276.50 153.55 L276.75 153.20 L277.00 152.83 L277.25 152.49 L277.50 152.22 L277.75 152.07 L278.00 152.12 L278.25 152.50 L278.50 153.08 L278.75 153.68 L279.00 154.19 L279.25 154.57 L279.50 154.82 L279.75 154.96 L280.00 155.03 L280.25 155.06 L280.50 155.06 L280.75 155.05 L281.00 155.04 L281.25 155.00 L281.50 154.96 L281.75 154.90 L282.00 154.82 L282.25 154.71 L282.50 154.58 L282.75 154.41 L283.00 154.21 L283.25 153.99 L283.50 153.76 L283.75 153.52 L284.00 153.32 L284.25 153.18 L284.50 153.15 L284.75 153.32 L285.00 153.66 L285.25 154.06 L285.50 154.43 L285.75 154.71 L286.00 154.91 L286.25 155.02 L286.50 155.09 L286.75 155.12 L287.00 155.13 L287.25 155.13 L287.50 155.12 L287.75 155.11 L288.00 155.10 L288.25 155.08 L288.50 155.05 L288.75 155.01 L289.00 154.97 L289.25 154.90 L289.50 154.82 L289.75 154.71 L290.00 154.57 L290.25 154.41 L290.50 154.21 L290.75 153.99 L291.00 153.75 L291.25 153.51 L291.50 153.31 L291.75 153.17 L292.00 153.14 L292.25 153.31 L292.50 153.65 L292.75 154.05 L293.00 154.41 L293.25 154.70 L293.50 154.90 L293.75 155.01 L294.00 155.07 L294.25 155.10 L294.50 155.11 L294.75 155.11 L295.00 155.10 L295.25 155.08 L295.50 155.06 L295.75 155.03 L296.00 154.98 L296.25 154.92 L296.50 154.85 L296.75 154.75 L297.00 154.63 L297.25 154.48 L297.50 154.32 L297.75 154.14 L298.00 153.96 L298.25 153.80 L298.50 153.68 L298.75 153.64 L299.00 153.74 L299.25 153.98 L299.50 154.28 L299.75 154.57 L300.00 154.81 L300.25 154.97 L300.50 155.08 L300.75 155.13 L301.00 155.16 L301.25 155.18 L301.50 155.19 L301.75 155.19 L302.00 155.20 L302.25 155.20 L302.50 155.20 L302.75 155.20 L303.00 155.20 L303.25 155.20 L303.50 155.19 L303.75 155.19 L304.00 155.19 L304.25 155.19 L304.50 155.19 L304.75 155.18 L305.00 155.18 L305.25 155.17 L305.50 155.17 L305.75 155.16 L306.00 155.16 L306.25 155.15 L306.50 155.14 L306.75 155.14 L307.00 155.13 L307.25 155.12 L307.50 155.10 L307.75 155.09 L308.00 155.07 L308.25 155.05 L308.50 155.03 L308.75 155.00 L309.00 154.96 L309.25 154.92 L309.50 154.85 L309.75 154.77 L310.00 154.66 L310.25 154.52 L310.50 154.34 L310.75 154.13 L311.00 153.88 L311.25 153.59 L311.50 153.29 L311.75 152.99 L312.00 152.73 L312.25 152.56 L312.50 152.52 L312.75 152.73 L313.00 153.18 L313.25 153.69 L313.50 154.17 L313.75 154.54 L314.00 154.80 L314.25 154.96 L314.50 155.04 L314.75 155.09 L315.00 155.11 L315.25 155.13 L315.50 155.14 L315.75 155.14 L316.00 155.14 L316.25 155.15 L316.50 155.15 L316.75 155.15 L317.00 155.15 L317.25 155.15 L317.50 155.15 L317.75 155.14 L318.00 155.14 L318.25 155.14 L318.50 155.13 L318.75 155.13 L319.00 155.13 L319.25 155.12 L319.50 155.11 L319.75 155.11 L320.00 155.10 L320.25 155.09 L320.50 155.07 L320.75 155.06 L321.00 155.04 L321.25 155.01 L321.50 154.98 L321.75 154.93 L322.00 154.87 L322.25 154.80 L322.50 154.70 L322.75 154.58 L323.00 154.44 L323.25 154.28 L323.50 154.10 L323.75 153.92 L324.00 153.75 L324.25 153.62 L324.50 153.57 L324.75 153.62 L325.00 153.84 L325.25 154.14 L325.50 154.44 L325.75 154.68 L326.00 154.86 L326.25 154.98 L326.50 155.04 L326.75 155.07 L327.00 155.09 L327.25 155.10 L327.50 155.10 L327.75 155.10 L328.00 155.10 L328.25 155.10 L328.50 155.10 L328.75 155.09 L329.00 155.09 L329.25 155.08 L329.50 155.08 L329.75 155.07 L330.00 155.05 L330.25 155.04 L330.50 155.02 L330.75 154.99 L331.00 154.95 L331.25 154.91 L331.50 154.85 L331.75 154.77 L332.00 154.68 L332.25 154.57 L332.50 154.45 L332.75 154.33 L333.00 154.21 L333.25 154.10 L333.50 154.04 L333.75 154.04 L334.00 154.15 L334.25 154.34 L334.50 154.55 L334.75 154.73 L335.00 154.88 L335.25 154.97 L335.50 155.02 L335.75 155.05 L336.00 155.07 L336.25 155.07 L336.50 155.07 L336.75 155.07 L337.00 155.07 L337.25 155.07 L337.50 155.06 L337.75 155.05 L338.00 155.04 L338.25 155.03 L338.50 155.02 L338.75 155.00 L339.00 154.97 L339.25 154.94 L339.50 154.89 L339.75 154.83 L340.00 154.76 L340.25 154.67 L340.50 154.57 L340.75 154.45 L341.00 154.33 L341.25 154.21 L341.50 154.10 L341.75 154.03 L342.00 154.01 L342.25 154.10 L342.50 154.28 L342.75 154.49 L343.00 154.68 L343.25 154.83 L343.50 154.93 L343.75 154.99 L344.00 155.03 L344.25 155.04 L344.50 155.05 L344.75 155.05 L345.00 155.05 L345.25 155.05 L345.50 155.05 L345.75 155.04 L346.00 155.04 L346.25 155.03 L346.50 155.02 L346.75 155.00 L347.00 154.98 L347.25 154.96 L347.50 154.93 L347.75 154.89 L348.00 154.83 L348.25 154.76 L348.50 154.68 L348.75 154.58 L349.00 154.47 L349.25 154.34 L349.50 154.22 L349.75 154.11 L350.00 154.03 L350.25 154.00 L350.50 154.06 L350.75 154.23 L351.00 154.44 L351.25 154.64 L351.50 154.80 L351.75 154.92 L352.00 154.99" stroke="#15151f" stroke-width="1.45" fill="none" stroke-linejoin="round"/>
<path d="M56.00 201.49 L56.25 201.49 L56.50 201.49 L56.75 201.49 L57.00 201.49 L57.25 201.49 L57.50 201.49 L57.75 201.49 L58.00 201.49 L58.25 201.49 L58.50 201.49 L58.75 201.49 L59.00 201.49 L59.25 201.49 L59.50 201.49 L59.75 201.49 L60.00 201.49 L60.25 201.49 L60.50 201.49 L60.75 201.49 L61.00 201.49 L61.25 201.49 L61.50 201.49 L61.75 201.49 L62.00 201.49 L62.25 201.49 L62.50 201.48 L62.75 201.48 L63.00 201.48 L63.25 201.48 L63.50 201.48 L63.75 201.48 L64.00 201.48 L64.25 201.48 L64.50 201.48 L64.75 201.48 L65.00 201.48 L65.25 201.48 L65.50 201.48 L65.75 201.48 L66.00 201.48 L66.25 201.48 L66.50 201.48 L66.75 201.48 L67.00 201.48 L67.25 201.48 L67.50 201.48 L67.75 201.48 L68.00 201.48 L68.25 201.48 L68.50 201.48 L68.75 201.48 L69.00 201.47 L69.25 201.47 L69.50 201.47 L69.75 201.47 L70.00 201.47 L70.25 201.47 L70.50 201.47 L70.75 201.47 L71.00 201.47 L71.25 201.47 L71.50 201.47 L71.75 201.47 L72.00 201.47 L72.25 201.47 L72.50 201.47 L72.75 201.47 L73.00 201.47 L73.25 201.47 L73.50 201.47 L73.75 201.47 L74.00 201.46 L74.25 201.46 L74.50 201.46 L74.75 201.46 L75.00 201.46 L75.25 201.46 L75.50 201.46 L75.75 201.46 L76.00 201.46 L76.25 201.46 L76.50 201.46 L76.75 201.46 L77.00 201.46 L77.25 201.46 L77.50 201.45 L77.75 201.45 L78.00 201.45 L78.25 201.45 L78.50 201.45 L78.75 201.45 L79.00 201.45 L79.25 201.45 L79.50 201.45 L79.75 201.44 L80.00 201.44 L80.25 201.44 L80.50 201.44 L80.75 201.44 L81.00 201.44 L81.25 201.44 L81.50 201.44 L81.75 201.43 L82.00 201.43 L82.25 201.43 L82.50 201.43 L82.75 201.43 L83.00 201.42 L83.25 201.42 L83.50 201.42 L83.75 201.42 L84.00 201.42 L84.25 201.41 L84.50 201.41 L84.75 201.41 L85.00 201.41 L85.25 201.40 L85.50 201.40 L85.75 201.39 L86.00 201.39 L86.25 201.39 L86.50 201.38 L86.75 201.38 L87.00 201.37 L87.25 201.37 L87.50 201.36 L87.75 201.36 L88.00 201.35 L88.25 201.34 L88.50 201.33 L88.75 201.33 L89.00 201.32 L89.25 201.31 L89.50 201.29 L89.75 201.28 L90.00 201.27 L90.25 201.25 L90.50 201.24 L90.75 201.22 L91.00 201.20 L91.25 201.17 L91.50 201.14 L91.75 201.11 L92.00 201.07 L92.25 201.03 L92.50 200.98 L92.75 200.92 L93.00 200.85 L93.25 200.77 L93.50 200.67 L93.75 200.54 L94.00 200.39 L94.25 200.19 L94.50 199.92 L94.75 199.56 L95.00 199.01 L95.25 198.06 L95.50 196.33 L95.75 193.17 L96.00 187.88 L96.25 180.21 L96.50 171.13 L96.75 163.83 L97.00 163.13 L97.25 170.31 L97.50 180.07 L97.75 188.27 L98.00 193.71 L98.25 196.80 L98.50 198.40 L98.75 199.24 L99.00 199.73 L99.25 200.07 L99.50 200.31 L99.75 200.49 L100.00 200.63 L100.25 200.75 L100.50 200.84 L100.75 200.91 L101.00 200.98 L101.25 201.03 L101.50 201.07 L101.75 201.11 L102.00 201.14 L102.25 201.17 L102.50 201.19 L102.75 201.21 L103.00 201.23 L103.25 201.25 L103.50 201.26 L103.75 201.28 L104.00 201.29 L104.25 201.30 L104.50 201.31 L104.75 201.32 L105.00 201.32 L105.25 201.33 L105.50 201.34 L105.75 201.34 L106.00 201.35 L106.25 201.35 L106.50 201.36 L106.75 201.36 L107.00 201.36 L107.25 201.37 L107.50 201.37 L107.75 201.37 L108.00 201.37 L108.25 201.38 L108.50 201.38 L108.75 201.38 L109.00 201.38 L109.25 201.38 L109.50 201.39 L109.75 201.39 L110.00 201.39 L110.25 201.39 L110.50 201.39 L110.75 201.39 L111.00 201.39 L111.25 201.39 L111.50 201.39 L111.75 201.39 L112.00 201.39 L112.25 201.39 L112.50 201.39 L112.75 201.39 L113.00 201.39 L113.25 201.39 L113.50 201.38 L113.75 201.38 L114.00 201.38 L114.25 201.38 L114.50 201.38 L114.75 201.37 L115.00 201.37 L115.25 201.37 L115.50 201.36 L115.75 201.36 L116.00 201.35 L116.25 201.34 L116.50 201.34 L116.75 201.33 L117.00 201.31 L117.25 201.30 L117.50 201.28 L117.75 201.26 L118.00 201.23 L118.25 201.20 L118.50 201.15 L118.75 201.07 L119.00 200.96 L119.25 200.75 L119.50 200.40 L119.75 199.85 L120.00 199.06 L120.25 198.06 L120.50 197.05 L120.75 196.39 L121.00 196.47 L121.25 197.23 L121.50 198.27 L121.75 199.23 L122.00 199.98 L122.25 200.48 L122.50 200.80 L122.75 200.98 L123.00 201.09 L123.25 201.16 L123.50 201.20 L123.75 201.23 L124.00 201.26 L124.25 201.28 L124.50 201.30 L124.75 201.31 L125.00 201.32 L125.25 201.33 L125.50 201.34 L125.75 201.34 L126.00 201.35 L126.25 201.35 L126.50 201.36 L126.75 201.36 L127.00 201.36 L127.25 201.36 L127.50 201.37 L127.75 201.37 L128.00 201.37 L128.25 201.37 L128.50 201.37 L128.75 201.37 L129.00 201.37 L129.25 201.37 L129.50 201.37 L129.75 201.37 L130.00 201.36 L130.25 201.36 L130.50 201.36 L130.75 201.36 L131.00 201.36 L131.25 201.35 L131.50 201.35 L131.75 201.35 L132.00 201.34 L132.25 201.34 L132.50 201.33 L132.75 201.33 L133.00 201.32 L133.25 201.31 L133.50 201.30 L133.75 201.29 L134.00 201.28 L134.25 201.26 L134.50 201.25 L134.75 201.23 L135.00 201.21 L135.25 201.18 L135.50 201.15 L135.75 201.11 L136.00 201.06 L136.25 200.99 L136.50 200.91 L136.75 200.79 L137.00 200.62 L137.25 200.32 L137.50 199.82 L137.75 198.98 L138.00 197.66 L138.25 195.82 L138.50 193.58 L138.75 191.43 L139.00 190.25 L139.25 190.78 L139.50 192.66 L139.75 194.95 L140.00 196.98 L140.25 198.51 L140.50 199.53 L140.75 200.15 L141.00 200.52 L141.25 200.73 L141.50 200.87 L141.75 200.96 L142.00 201.03 L142.25 201.08 L142.50 201.13 L142.75 201.16 L143.00 201.19 L143.25 201.22 L143.50 201.24 L143.75 201.25 L144.00 201.27 L144.25 201.28 L144.50 201.29 L144.75 201.30 L145.00 201.31 L145.25 201.32 L145.50 201.32 L145.75 201.33 L146.00 201.33 L146.25 201.34 L146.50 201.34 L146.75 201.34 L147.00 201.35 L147.25 201.35 L147.50 201.35 L147.75 201.35 L148.00 201.35 L148.25 201.35 L148.50 201.35 L148.75 201.35 L149.00 201.35 L149.25 201.35 L149.50 201.35 L149.75 201.35 L150.00 201.35 L150.25 201.34 L150.50 201.34 L150.75 201.34 L151.00 201.33 L151.25 201.32 L151.50 201.31 L151.75 201.29 L152.00 201.27 L152.25 201.24 L152.50 201.18 L152.75 201.08 L153.00 200.92 L153.25 200.66 L153.50 200.31 L153.75 199.91 L154.00 199.55 L154.25 199.39 L154.50 199.55 L154.75 199.91 L155.00 200.32 L155.25 200.66 L155.50 200.92 L155.75 201.08 L156.00 201.18 L156.25 201.24 L156.50 201.28 L156.75 201.30 L157.00 201.31 L157.25 201.32 L157.50 201.33 L157.75 201.34 L158.00 201.35 L158.25 201.35 L158.50 201.36 L158.75 201.36 L159.00 201.36 L159.25 201.36 L159.50 201.37 L159.75 201.37 L160.00 201.37 L160.25 201.37 L160.50 201.37 L160.75 201.37 L161.00 201.37 L161.25 201.37 L161.50 201.37 L161.75 201.37 L162.00 201.37 L162.25 201.37 L162.50 201.37 L162.75 201.36 L163.00 201.36 L163.25 201.36 L163.50 201.36 L163.75 201.36 L164.00 201.35 L164.25 201.35 L164.50 201.34 L164.75 201.34 L165.00 201.33 L165.25 201.32 L165.50 201.31 L165.75 201.30 L166.00 201.28 L166.25 201.25 L166.50 201.21 L166.75 201.14 L167.00 201.02 L167.25 200.82 L167.50 200.51 L167.75 200.11 L168.00 199.67 L168.25 199.30 L168.50 199.19 L168.75 199.42 L169.00 199.84 L169.25 200.28 L169.50 200.64 L169.75 200.90 L170.00 201.07 L170.25 201.16 L170.50 201.22 L170.75 201.26 L171.00 201.28 L171.25 201.29 L171.50 201.30 L171.75 201.31 L172.00 201.32 L172.25 201.32 L172.50 201.33 L172.75 201.33 L173.00 201.33 L173.25 201.33 L173.50 201.33 L173.75 201.33 L174.00 201.33 L174.25 201.33 L174.50 201.33 L174.75 201.33 L175.00 201.33 L175.25 201.32 L175.50 201.32 L175.75 201.31 L176.00 201.31 L176.25 201.30 L176.50 201.29 L176.75 201.28 L177.00 201.27 L177.25 201.25 L177.50 201.23 L177.75 201.21 L178.00 201.18 L178.25 201.14 L178.50 201.08 L178.75 200.99 L179.00 200.84 L179.25 200.58 L179.50 200.15 L179.75 199.49 L180.00 198.58 L180.25 197.53 L180.50 196.58 L180.75 196.18 L181.00 196.58 L181.25 197.53 L181.50 198.58 L181.75 199.49 L182.00 200.15 L182.25 200.58 L182.50 200.84 L182.75 200.99 L183.00 201.08 L183.25 201.14 L183.50 201.18 L183.75 201.21 L184.00 201.23 L184.25 201.25 L184.50 201.27 L184.75 201.28 L185.00 201.29 L185.25 201.30 L185.50 201.31 L185.75 201.31 L186.00 201.32 L186.25 201.32 L186.50 201.32 L186.75 201.33 L187.00 201.33 L187.25 201.33 L187.50 201.33 L187.75 201.33 L188.00 201.33 L188.25 201.33 L188.50 201.33 L188.75 201.33 L189.00 201.33 L189.25 201.32 L189.50 201.31 L189.75 201.30 L190.00 201.28 L190.25 201.24 L190.50 201.17 L190.75 201.07 L191.00 200.93 L191.25 200.77 L191.50 200.63 L191.75 200.57 L192.00 200.63 L192.25 200.77 L192.50 200.94 L192.75 201.08 L193.00 201.18 L193.25 201.24 L193.50 201.28 L193.75 201.31 L194.00 201.32 L194.25 201.33 L194.50 201.34 L194.75 201.34 L195.00 201.35 L195.25 201.35 L195.50 201.35 L195.75 201.35 L196.00 201.36 L196.25 201.36 L196.50 201.36 L196.75 201.36 L197.00 201.36 L197.25 201.36 L197.50 201.36 L197.75 201.36 L198.00 201.36 L198.25 201.36 L198.50 201.36 L198.75 201.36 L199.00 201.36 L199.25 201.36 L199.50 201.36 L199.75 201.36 L200.00 201.36 L200.25 201.36 L200.50 201.36 L200.75 201.36 L201.00 201.36 L201.25 201.36 L201.50 201.36 L201.75 201.36 L202.00 201.36 L202.25 201.36 L202.50 201.36 L202.75 201.36 L203.00 201.36 L203.25 201.36 L203.50 201.36 L203.75 201.36 L204.00 201.36 L204.25 201.36 L204.50 201.36 L204.75 201.36 L205.00 201.36 L205.25 201.36 L205.50 201.36 L205.75 201.36 L206.00 201.36 L206.25 201.36 L206.50 201.36 L206.75 201.36 L207.00 201.36 L207.25 201.36 L207.50 201.36 L207.75 201.36 L208.00 201.35 L208.25 201.35 L208.50 201.35 L208.75 201.35 L209.00 201.35 L209.25 201.35 L209.50 201.34 L209.75 201.34 L210.00 201.34 L210.25 201.33 L210.50 201.33 L210.75 201.32 L211.00 201.31 L211.25 201.29 L211.50 201.26 L211.75 201.22 L212.00 201.14 L212.25 201.02 L212.50 200.87 L212.75 200.70 L213.00 200.58 L213.25 200.57 L213.50 200.67 L213.75 200.83 L214.00 200.99 L214.25 201.11 L214.50 201.20 L214.75 201.25 L215.00 201.29 L215.25 201.30 L215.50 201.32 L215.75 201.32 L216.00 201.33 L216.25 201.33 L216.50 201.34 L216.75 201.34 L217.00 201.34 L217.25 201.34 L217.50 201.34 L217.75 201.34 L218.00 201.34 L218.25 201.35 L218.50 201.35 L218.75 201.35 L219.00 201.35 L219.25 201.35 L219.50 201.35 L219.75 201.35 L220.00 201.35 L220.25 201.35 L220.50 201.35 L220.75 201.35 L221.00 201.35 L221.25 201.35 L221.50 201.35 L221.75 201.35 L222.00 201.35 L222.25 201.34 L222.50 201.34 L222.75 201.34 L223.00 201.34 L223.25 201.34 L223.50 201.34 L223.75 201.34 L224.00 201.34 L224.25 201.34 L224.50 201.34 L224.75 201.34 L225.00 201.34 L225.25 201.33 L225.50 201.33 L225.75 201.33 L226.00 201.33 L226.25 201.33 L226.50 201.32 L226.75 201.32 L227.00 201.32 L227.25 201.32 L227.50 201.31 L227.75 201.31 L228.00 201.30 L228.25 201.29 L228.50 201.28 L228.75 201.27 L229.00 201.25 L229.25 201.22 L229.50 201.18 L229.75 201.11 L230.00 200.99 L230.25 200.79 L230.50 200.51 L230.75 200.16 L231.00 199.80 L231.25 199.57 L231.50 199.59 L231.75 199.86 L232.00 200.23 L232.25 200.57 L232.50 200.83 L232.75 201.01 L233.00 201.12 L233.25 201.18 L233.50 201.22 L233.75 201.24 L234.00 201.26 L234.25 201.27 L234.50 201.28 L234.75 201.28 L235.00 201.29 L235.25 201.29 L235.50 201.30 L235.75 201.30 L236.00 201.30 L236.25 201.30 L236.50 201.30 L236.75 201.29 L237.00 201.29 L237.25 201.28 L237.50 201.28 L237.75 201.26 L238.00 201.24 L238.25 201.20 L238.50 201.13 L238.75 201.03 L239.00 200.89 L239.25 200.73 L239.50 200.59 L239.75 200.52 L240.00 200.59 L240.25 200.73 L240.50 200.89 L240.75 201.03 L241.00 201.13 L241.25 201.20 L241.50 201.24 L241.75 201.26 L242.00 201.27 L242.25 201.28 L242.50 201.28 L242.75 201.28 L243.00 201.28 L243.25 201.28 L243.50 201.28 L243.75 201.28 L244.00 201.28 L244.25 201.27 L244.50 201.27 L244.75 201.26 L245.00 201.25 L245.25 201.23 L245.50 201.21 L245.75 201.18 L246.00 201.12 L246.25 201.02 L246.50 200.85 L246.75 200.60 L247.00 200.25 L247.25 199.85 L247.50 199.48 L247.75 199.33 L248.00 199.48 L248.25 199.85 L248.50 200.25 L248.75 200.60 L249.00 200.85 L249.25 201.02 L249.50 201.12 L249.75 201.18 L250.00 201.21 L250.25 201.24 L250.50 201.25 L250.75 201.26 L251.00 201.27 L251.25 201.28 L251.50 201.29 L251.75 201.29 L252.00 201.29 L252.25 201.30 L252.50 201.30 L252.75 201.30 L253.00 201.31 L253.25 201.31 L253.50 201.31 L253.75 201.31 L254.00 201.31 L254.25 201.31 L254.50 201.31 L254.75 201.31 L255.00 201.31 L255.25 201.31 L255.50 201.32 L255.75 201.32 L256.00 201.32 L256.25 201.32 L256.50 201.32 L256.75 201.32 L257.00 201.32 L257.25 201.32 L257.50 201.32 L257.75 201.32 L258.00 201.32 L258.25 201.32 L258.50 201.32 L258.75 201.32 L259.00 201.32 L259.25 201.32 L259.50 201.32 L259.75 201.32 L260.00 201.32 L260.25 201.32 L260.50 201.32 L260.75 201.32 L261.00 201.32 L261.25 201.32 L261.50 201.32 L261.75 201.32 L262.00 201.32 L262.25 201.32 L262.50 201.32 L262.75 201.31 L263.00 201.31 L263.25 201.31 L263.50 201.31 L263.75 201.31 L264.00 201.31 L264.25 201.31 L264.50 201.31 L264.75 201.31 L265.00 201.31 L265.25 201.31 L265.50 201.31 L265.75 201.31 L266.00 201.31 L266.25 201.31 L266.50 201.30 L266.75 201.30 L267.00 201.30 L267.25 201.30 L267.50 201.30 L267.75 201.29 L268.00 201.29 L268.25 201.29 L268.50 201.28 L268.75 201.27 L269.00 201.27 L269.25 201.25 L269.50 201.23 L269.75 201.19 L270.00 201.12 L270.25 201.02 L270.50 200.88 L270.75 200.72 L271.00 200.57 L271.25 200.51 L271.50 200.57 L271.75 200.71 L272.00 200.88 L272.25 201.01 L272.50 201.11 L272.75 201.18 L273.00 201.22 L273.25 201.24 L273.50 201.25 L273.75 201.26 L274.00 201.27 L274.25 201.27 L274.50 201.27 L274.75 201.27 L275.00 201.27 L275.25 201.27 L275.50 201.26 L275.75 201.26 L276.00 201.25 L276.25 201.24 L276.50 201.21 L276.75 201.17 L277.00 201.11 L277.25 201.01 L277.50 200.87 L277.75 200.71 L278.00 200.56 L278.25 200.50 L278.50 200.56 L278.75 200.70 L279.00 200.87 L279.25 201.01 L279.50 201.11 L279.75 201.17 L280.00 201.21 L280.25 201.23 L280.50 201.25 L280.75 201.25 L281.00 201.26 L281.25 201.26 L281.50 201.26 L281.75 201.26 L282.00 201.26 L282.25 201.26 L282.50 201.26 L282.75 201.25 L283.00 201.24 L283.25 201.23 L283.50 201.21 L283.75 201.17 L284.00 201.10 L284.25 201.00 L284.50 200.86 L284.75 200.70 L285.00 200.55 L285.25 200.49 L285.50 200.55 L285.75 200.70 L286.00 200.86 L286.25 201.00 L286.50 201.10 L286.75 201.17 L287.00 201.21 L287.25 201.23 L287.50 201.24 L287.75 201.25 L288.00 201.25 L288.25 201.26 L288.50 201.26 L288.75 201.26 L289.00 201.26 L289.25 201.26 L289.50 201.25 L289.75 201.25 L290.00 201.24 L290.25 201.23 L290.50 201.20 L290.75 201.17 L291.00 201.10 L291.25 201.00 L291.50 200.86 L291.75 200.70 L292.00 200.55 L292.25 200.49 L292.50 200.55 L292.75 200.70 L293.00 200.86 L293.25 201.00 L293.50 201.10 L293.75 201.17 L294.00 201.21 L294.25 201.23 L294.50 201.25 L294.75 201.25 L295.00 201.26 L295.25 201.27 L295.50 201.27 L295.75 201.27 L296.00 201.27 L296.25 201.28 L296.50 201.28 L296.75 201.28 L297.00 201.28 L297.25 201.28 L297.50 201.28 L297.75 201.28 L298.00 201.28 L298.25 201.28 L298.50 201.28 L298.75 201.28 L299.00 201.28 L299.25 201.28 L299.50 201.28 L299.75 201.28 L300.00 201.28 L300.25 201.28 L300.50 201.28 L300.75 201.28 L301.00 201.28 L301.25 201.28 L301.50 201.28 L301.75 201.28 L302.00 201.28 L302.25 201.28 L302.50 201.28 L302.75 201.28 L303.00 201.28 L303.25 201.28 L303.50 201.28 L303.75 201.28 L304.00 201.28 L304.25 201.28 L304.50 201.28 L304.75 201.28 L305.00 201.28 L305.25 201.28 L305.50 201.28 L305.75 201.28 L306.00 201.28 L306.25 201.28 L306.50 201.28 L306.75 201.28 L307.00 201.28 L307.25 201.28 L307.50 201.28 L307.75 201.27 L308.00 201.27 L308.25 201.27 L308.50 201.27 L308.75 201.27 L309.00 201.27 L309.25 201.27 L309.50 201.26 L309.75 201.26 L310.00 201.26 L310.25 201.25 L310.50 201.25 L310.75 201.24 L311.00 201.23 L311.25 201.22 L311.50 201.20 L311.75 201.16 L312.00 201.09 L312.25 200.99 L312.50 200.85 L312.75 200.69 L313.00 200.54 L313.25 200.48 L313.50 200.54 L313.75 200.68 L314.00 200.85 L314.25 200.99 L314.50 201.09 L314.75 201.15 L315.00 201.19 L315.25 201.22 L315.50 201.23 L315.75 201.24 L316.00 201.24 L316.25 201.25 L316.50 201.25 L316.75 201.25 L317.00 201.26 L317.25 201.26 L317.50 201.26 L317.75 201.26 L318.00 201.26 L318.25 201.26 L318.50 201.26 L318.75 201.26 L319.00 201.26 L319.25 201.26 L319.50 201.26 L319.75 201.26 L320.00 201.26 L320.25 201.26 L320.50 201.26 L320.75 201.26 L321.00 201.26 L321.25 201.25 L321.50 201.25 L321.75 201.25 L322.00 201.25 L322.25 201.24 L322.50 201.24 L322.75 201.23 L323.00 201.22 L323.25 201.21 L323.50 201.18 L323.75 201.14 L324.00 201.08 L324.25 200.98 L324.50 200.84 L324.75 200.67 L325.00 200.53 L325.25 200.47 L325.50 200.53 L325.75 200.67 L326.00 200.83 L326.25 200.97 L326.50 201.07 L326.75 201.14 L327.00 201.18 L327.25 201.20 L327.50 201.22 L327.75 201.22 L328.00 201.23 L328.25 201.23 L328.50 201.24 L328.75 201.24 L329.00 201.24 L329.25 201.24 L329.50 201.24 L329.75 201.24 L330.00 201.24 L330.25 201.24 L330.50 201.23 L330.75 201.23 L331.00 201.22 L331.25 201.21 L331.50 201.19 L331.75 201.16 L332.00 201.12 L332.25 201.04 L332.50 200.94 L332.75 200.81 L333.00 200.70 L333.25 200.66 L333.50 200.70 L333.75 200.81 L334.00 200.93 L334.25 201.04 L334.50 201.11 L334.75 201.16 L335.00 201.19 L335.25 201.21 L335.50 201.22 L335.75 201.23 L336.00 201.23 L336.25 201.23 L336.50 201.24 L336.75 201.24 L337.00 201.24 L337.25 201.24 L337.50 201.24 L337.75 201.24 L338.00 201.24 L338.25 201.24 L338.50 201.24 L338.75 201.24 L339.00 201.24 L339.25 201.23 L339.50 201.23 L339.75 201.23 L340.00 201.22 L340.25 201.21 L340.50 201.19 L340.75 201.16 L341.00 201.11 L341.25 201.04 L341.50 200.93 L341.75 200.81 L342.00 200.70 L342.25 200.65 L342.50 200.70 L342.75 200.81 L343.00 200.93 L343.25 201.03 L343.50 201.11 L343.75 201.16 L344.00 201.19 L344.25 201.21 L344.50 201.22 L344.75 201.22 L345.00 201.23 L345.25 201.23 L345.50 201.24 L345.75 201.24 L346.00 201.24 L346.25 201.24 L346.50 201.24 L346.75 201.24 L347.00 201.24 L347.25 201.24 L347.50 201.24 L347.75 201.25 L348.00 201.25 L348.25 201.25 L348.50 201.25 L348.75 201.25 L349.00 201.25 L349.25 201.25 L349.50 201.25 L349.75 201.25 L350.00 201.25 L350.25 201.25 L350.50 201.25 L350.75 201.25 L351.00 201.25 L351.25 201.25 L351.50 201.25 L351.75 201.25 L352.00 201.25" stroke="#111111" stroke-width="1.30" fill="none" stroke-linejoin="round"/>
<path d="M460.00 42.01 L460.25 41.99 L460.50 41.98 L460.75 41.97 L461.00 41.95 L461.25 41.94 L461.50 41.92 L461.75 41.91 L462.00 41.89 L462.25 41.87 L462.50 41.85 L462.75 41.84 L463.00 41.82 L463.25 41.80 L463.50 41.78 L463.75 41.75 L464.00 41.73 L464.25 41.71 L464.50 41.68 L464.75 41.65 L465.00 41.63 L465.25 41.60 L465.50 41.56 L465.75 41.53 L466.00 41.50 L466.25 41.46 L466.50 41.42 L466.75 41.38 L467.00 41.34 L467.25 41.30 L467.50 41.25 L467.75 41.20 L468.00 41.15 L468.25 41.09 L468.50 41.03 L468.75 40.97 L469.00 40.90 L469.25 40.83 L469.50 40.76 L469.75 40.68 L470.00 40.59 L470.25 40.50 L470.50 40.40 L470.75 40.29 L471.00 40.18 L471.25 40.06 L471.50 39.93 L471.75 39.79 L472.00 39.64 L472.25 39.48 L472.50 39.30 L472.75 39.11 L473.00 38.91 L473.25 38.69 L473.50 38.45 L473.75 38.20 L474.00 37.92 L474.25 37.62 L474.50 37.29 L474.75 36.94 L475.00 36.56 L475.25 36.15 L475.50 35.71 L475.75 35.23 L476.00 34.71 L476.25 34.15 L476.50 33.54 L476.75 32.85 L477.00 32.05 L477.25 31.02 L477.50 29.56 L477.75 27.33 L478.00 23.98 L478.25 19.36 L478.50 13.81 L478.75 8.70 L479.00 6.48 L479.25 10.40 L479.50 18.83 L479.75 27.11 L480.00 33.20 L480.25 36.94 L480.50 38.98 L480.75 40.05 L481.00 40.65 L481.25 41.02 L481.50 41.28 L481.75 41.48 L482.00 41.63 L482.25 41.75 L482.50 41.84 L482.75 41.92 L483.00 41.99 L483.25 42.04 L483.50 42.08 L483.75 42.12 L484.00 42.15 L484.25 42.18 L484.50 42.20 L484.75 42.22 L485.00 42.24 L485.25 42.26 L485.50 42.27 L485.75 42.28 L486.00 42.29 L486.25 42.30 L486.50 42.31 L486.75 42.31 L487.00 42.32 L487.25 42.32 L487.50 42.33 L487.75 42.33 L488.00 42.33 L488.25 42.33 L488.50 42.33 L488.75 42.33 L489.00 42.32 L489.25 42.32 L489.50 42.31 L489.75 42.31 L490.00 42.30 L490.25 42.28 L490.50 42.26 L490.75 42.23 L491.00 42.19 L491.25 42.13 L491.50 42.05 L491.75 41.93 L492.00 41.77 L492.25 41.58 L492.50 41.35 L492.75 41.11 L493.00 40.87 L493.25 40.68 L493.50 40.59 L493.75 40.62 L494.00 40.77 L494.25 40.99 L494.50 41.24 L494.75 41.47 L495.00 41.67 L495.25 41.84 L495.50 41.96 L495.75 42.05 L496.00 42.12 L496.25 42.16 L496.50 42.18 L496.75 42.20 L497.00 42.21 L497.25 42.21 L497.50 42.21 L497.75 42.20 L498.00 42.19 L498.25 42.18 L498.50 42.17 L498.75 42.15 L499.00 42.13 L499.25 42.10 L499.50 42.07 L499.75 42.04 L500.00 41.99 L500.25 41.94 L500.50 41.87 L500.75 41.79 L501.00 41.67 L501.25 41.52 L501.50 41.30 L501.75 41.01 L502.00 40.62 L502.25 40.10 L502.50 39.44 L502.75 38.61 L503.00 37.63 L503.25 36.53 L503.50 35.34 L503.75 34.19 L504.00 33.19 L504.25 32.55 L504.50 32.39 L504.75 33.10 L505.00 34.50 L505.25 36.15 L505.50 37.72 L505.75 39.03 L506.00 40.03 L506.25 40.75 L506.50 41.23 L506.75 41.54 L507.00 41.74 L507.25 41.88 L507.50 41.97 L507.75 42.04 L508.00 42.10 L508.25 42.14 L508.50 42.18 L508.75 42.20 L509.00 42.23 L509.25 42.25 L509.50 42.27 L509.75 42.28 L510.00 42.29 L510.25 42.30 L510.50 42.30 L510.75 42.31 L511.00 42.30 L511.25 42.30 L511.50 42.28 L511.75 42.26 L512.00 42.22 L512.25 42.16 L512.50 42.09 L512.75 42.00 L513.00 41.90 L513.25 41.80 L513.50 41.70 L513.75 41.63 L514.00 41.62 L514.25 41.66 L514.50 41.74 L514.75 41.85 L515.00 41.96 L515.25 42.06 L515.50 42.14 L515.75 42.21 L516.00 42.26 L516.25 42.29 L516.50 42.32 L516.75 42.33 L517.00 42.34 L517.25 42.34 L517.50 42.35 L517.75 42.34 L518.00 42.34 L518.25 42.33 L518.50 42.32 L518.75 42.30 L519.00 42.28 L519.25 42.25 L519.50 42.20 L519.75 42.13 L520.00 42.03 L520.25 41.89 L520.50 41.70 L520.75 41.45 L521.00 41.14 L521.25 40.78 L521.50 40.40 L521.75 40.04 L522.00 39.77 L522.25 39.68 L522.50 39.79 L522.75 40.10 L523.00 40.51 L523.25 40.92 L523.50 41.30 L523.75 41.60 L524.00 41.84 L524.25 42.01 L524.50 42.13 L524.75 42.21 L525.00 42.27 L525.25 42.31 L525.50 42.33 L525.75 42.35 L526.00 42.37 L526.25 42.38 L526.50 42.39 L526.75 42.40 L527.00 42.41 L527.25 42.41 L527.50 42.42 L527.75 42.42 L528.00 42.43 L528.25 42.43 L528.50 42.43 L528.75 42.44 L529.00 42.44 L529.25 42.44 L529.50 42.44 L529.75 42.44 L530.00 42.44 L530.25 42.44 L530.50 42.44 L530.75 42.44 L531.00 42.44 L531.25 42.44 L531.50 42.44 L531.75 42.44 L532.00 42.43 L532.25 42.43 L532.50 42.42 L532.75 42.42 L533.00 42.41 L533.25 42.40 L533.50 42.39 L533.75 42.37 L534.00 42.35 L534.25 42.31 L534.50 42.26 L534.75 42.19 L535.00 42.11 L535.25 42.00 L535.50 41.88 L535.75 41.76 L536.00 41.64 L536.25 41.56 L536.50 41.54 L536.75 41.58 L537.00 41.67 L537.25 41.78 L537.50 41.90 L537.75 42.01 L538.00 42.10 L538.25 42.16 L538.50 42.21 L538.75 42.24 L539.00 42.26 L539.25 42.26 L539.50 42.26 L539.75 42.24 L540.00 42.22 L540.25 42.17 L540.50 42.11 L540.75 42.01 L541.00 41.86 L541.25 41.64 L541.50 41.34 L541.75 40.96 L542.00 40.51 L542.25 40.02 L542.50 39.55 L542.75 39.22 L543.00 39.14 L543.25 39.32 L543.50 39.71 L543.75 40.19 L544.00 40.67 L544.25 41.09 L544.50 41.42 L544.75 41.67 L545.00 41.85 L545.25 41.96 L545.50 42.02 L545.75 42.05 L546.00 42.04 L546.25 42.00 L546.50 41.92 L546.75 41.79 L547.00 41.59 L547.25 41.33 L547.50 41.01 L547.75 40.63 L548.00 40.26 L548.25 39.95 L548.50 39.80 L548.75 39.87 L549.00 40.12 L549.25 40.49 L549.50 40.87 L549.75 41.23 L550.00 41.52 L550.25 41.74 L550.50 41.91 L550.75 42.01 L551.00 42.08 L551.25 42.12 L551.50 42.12 L551.75 42.11 L552.00 42.06 L552.25 41.99 L552.50 41.86 L552.75 41.68 L553.00 41.43 L553.25 41.11 L553.50 40.74 L553.75 40.36 L554.00 40.04 L554.25 39.85 L554.50 39.88 L554.75 40.10 L555.00 40.46 L555.25 40.85 L555.50 41.21 L555.75 41.53 L556.00 41.78 L556.25 41.96 L556.50 42.09 L556.75 42.18 L557.00 42.24 L557.25 42.28 L557.50 42.30 L557.75 42.32 L558.00 42.34 L558.25 42.35 L558.50 42.36 L558.75 42.37 L559.00 42.37 L559.25 42.38 L559.50 42.38 L559.75 42.38 L560.00 42.39 L560.25 42.39 L560.50 42.38 L560.75 42.38 L561.00 42.38 L561.25 42.37 L561.50 42.37 L561.75 42.36 L562.00 42.35 L562.25 42.34 L562.50 42.33 L562.75 42.31 L563.00 42.28 L563.25 42.24 L563.50 42.18 L563.75 42.11 L564.00 42.01 L564.25 41.88 L564.50 41.73 L564.75 41.55 L565.00 41.38 L565.25 41.22 L565.50 41.11 L565.75 41.08 L566.00 41.13 L566.25 41.22 L566.50 41.34 L566.75 41.43 L567.00 41.49 L567.25 41.48 L567.50 41.39 L567.75 41.20 L568.00 40.89 L568.25 40.46 L568.50 39.91 L568.75 39.26 L569.00 38.56 L569.25 37.90 L569.50 37.41 L569.75 37.23 L570.00 37.46 L570.25 38.03 L570.50 38.78 L570.75 39.55 L571.00 40.25 L571.25 40.82 L571.50 41.26 L571.75 41.57 L572.00 41.79 L572.25 41.94 L572.50 42.04 L572.75 42.11 L573.00 42.15 L573.25 42.19 L573.50 42.21 L573.75 42.23 L574.00 42.24 L574.25 42.25 L574.50 42.25 L574.75 42.25 L575.00 42.25 L575.25 42.24 L575.50 42.22 L575.75 42.20 L576.00 42.17 L576.25 42.13 L576.50 42.07 L576.75 41.97 L577.00 41.84 L577.25 41.64 L577.50 41.37 L577.75 41.02 L578.00 40.59 L578.25 40.09 L578.50 39.56 L578.75 39.06 L579.00 38.69 L579.25 38.55 L579.50 38.71 L579.75 39.13 L580.00 39.69 L580.25 40.26 L580.50 40.78 L580.75 41.19 L581.00 41.51 L581.25 41.73 L581.50 41.86 L581.75 41.93 L582.00 41.95 L582.25 41.92 L582.50 41.85 L582.75 41.76 L583.00 41.64 L583.25 41.53 L583.50 41.43 L583.75 41.38 L584.00 41.40 L584.25 41.48 L584.50 41.60 L584.75 41.74 L585.00 41.88 L585.25 42.00 L585.50 42.10 L585.75 42.18 L586.00 42.24 L586.25 42.28 L586.50 42.31 L586.75 42.32 L587.00 42.33 L587.25 42.34 L587.50 42.34 L587.75 42.34 L588.00 42.33 L588.25 42.32 L588.50 42.30 L588.75 42.28 L589.00 42.25 L589.25 42.19 L589.50 42.12 L589.75 42.01 L590.00 41.85 L590.25 41.65 L590.50 41.37 L590.75 41.04 L591.00 40.66 L591.25 40.27 L591.50 39.91 L591.75 39.67 L592.00 39.61 L592.25 39.78 L592.50 40.12 L592.75 40.55 L593.00 40.98 L593.25 41.35 L593.50 41.66 L593.75 41.89 L594.00 42.05 L594.25 42.17 L594.50 42.25 L594.75 42.30 L595.00 42.34 L595.25 42.36 L595.50 42.38 L595.75 42.40 L596.00 42.41 L596.25 42.42 L596.50 42.43 L596.75 42.44 L597.00 42.45 L597.25 42.45 L597.50 42.46 L597.75 42.46 L598.00 42.47 L598.25 42.47 L598.50 42.47 L598.75 42.47 L599.00 42.48 L599.25 42.48 L599.50 42.48 L599.75 42.48 L600.00 42.48 L600.25 42.48 L600.50 42.48 L600.75 42.48 L601.00 42.48 L601.25 42.47 L601.50 42.47 L601.75 42.47 L602.00 42.46 L602.25 42.45 L602.50 42.44 L602.75 42.43 L603.00 42.41 L603.25 42.39 L603.50 42.35 L603.75 42.31 L604.00 42.26 L604.25 42.20 L604.50 42.13 L604.75 42.05 L605.00 41.98 L605.25 41.91 L605.50 41.85 L605.75 41.82 L606.00 41.83 L606.25 41.86 L606.50 41.92 L606.75 41.99 L607.00 42.07 L607.25 42.14 L607.50 42.21 L607.75 42.27 L608.00 42.32 L608.25 42.37 L608.50 42.40 L608.75 42.42 L609.00 42.44 L609.25 42.46 L609.50 42.47 L609.75 42.47 L610.00 42.48 L610.25 42.48 L610.50 42.49 L610.75 42.49 L611.00 42.49 L611.25 42.49 L611.50 42.49 L611.75 42.49 L612.00 42.49 L612.25 42.49 L612.50 42.49 L612.75 42.49 L613.00 42.49 L613.25 42.48 L613.50 42.48 L613.75 42.47 L614.00 42.47 L614.25 42.46 L614.50 42.44 L614.75 42.42 L615.00 42.39 L615.25 42.36 L615.50 42.31 L615.75 42.26 L616.00 42.20 L616.25 42.12 L616.50 42.05 L616.75 41.97 L617.00 41.91 L617.25 41.86 L617.50 41.84 L617.75 41.85 L618.00 41.89 L618.25 41.95 L618.50 42.02 L618.75 42.10 L619.00 42.17 L619.25 42.24 L619.50 42.30 L619.75 42.35 L620.00 42.39 L620.25 42.42 L620.50 42.44 L620.75 42.46 L621.00 42.47 L621.25 42.48 L621.50 42.49 L621.75 42.50 L622.00 42.50 L622.25 42.51 L622.50 42.51 L622.75 42.51 L623.00 42.52 L623.25 42.52 L623.50 42.52 L623.75 42.52 L624.00 42.52 L624.25 42.52 L624.50 42.52 L624.75 42.53 L625.00 42.53 L625.25 42.53 L625.50 42.53 L625.75 42.53 L626.00 42.53 L626.25 42.53 L626.50 42.53 L626.75 42.53 L627.00 42.53 L627.25 42.53 L627.50 42.53 L627.75 42.53 L628.00 42.53 L628.25 42.53 L628.50 42.53 L628.75 42.53 L629.00 42.53 L629.25 42.53 L629.50 42.53 L629.75 42.53 L630.00 42.53 L630.25 42.53 L630.50 42.53 L630.75 42.53 L631.00 42.53 L631.25 42.53 L631.50 42.53 L631.75 42.53 L632.00 42.53 L632.25 42.53 L632.50 42.53 L632.75 42.52 L633.00 42.52 L633.25 42.52 L633.50 42.52 L633.75 42.52 L634.00 42.52 L634.25 42.51 L634.50 42.51 L634.75 42.51 L635.00 42.50 L635.25 42.50 L635.50 42.49 L635.75 42.48 L636.00 42.46 L636.25 42.45 L636.50 42.42 L636.75 42.39 L637.00 42.36 L637.25 42.31 L637.50 42.25 L637.75 42.19 L638.00 42.11 L638.25 42.03 L638.50 41.96 L638.75 41.89 L639.00 41.84 L639.25 41.83 L639.50 41.84 L639.75 41.88 L640.00 41.95 L640.25 42.02 L640.50 42.09 L640.75 42.16 L641.00 42.22 L641.25 42.26 L641.50 42.30 L641.75 42.32 L642.00 42.33 L642.25 42.33 L642.50 42.31 L642.75 42.28 L643.00 42.23 L643.25 42.17 L643.50 42.10 L643.75 42.02 L644.00 41.93 L644.25 41.85 L644.50 41.79 L644.75 41.74 L645.00 41.73 L645.25 41.76 L645.50 41.82 L645.75 41.90 L646.00 41.99 L646.25 42.07 L646.50 42.16 L646.75 42.23 L647.00 42.29 L647.25 42.35 L647.50 42.39 L647.75 42.42 L648.00 42.45 L648.25 42.47 L648.50 42.48 L648.75 42.49 L649.00 42.50 L649.25 42.51 L649.50 42.51 L649.75 42.51 L650.00 42.52 L650.25 42.52 L650.50 42.52 L650.75 42.53 L651.00 42.53 L651.25 42.53 L651.50 42.53 L651.75 42.53 L652.00 42.54 L652.25 42.54 L652.50 42.54 L652.75 42.54 L653.00 42.54 L653.25 42.54 L653.50 42.54 L653.75 42.54 L654.00 42.54 L654.25 42.55 L654.50 42.55 L654.75 42.55 L655.00 42.55 L655.25 42.55 L655.50 42.55 L655.75 42.55 L656.00 42.55 L656.25 42.55 L656.50 42.55 L656.75 42.55 L657.00 42.55 L657.25 42.55 L657.50 42.55 L657.75 42.55 L658.00 42.55 L658.25 42.55 L658.50 42.55 L658.75 42.55 L659.00 42.55 L659.25 42.55 L659.50 42.55 L659.75 42.55 L660.00 42.55 L660.25 42.55 L660.50 42.55 L660.75 42.55 L661.00 42.55 L661.25 42.55 L661.50 42.55 L661.75 42.55 L662.00 42.55 L662.25 42.55 L662.50 42.55 L662.75 42.55 L663.00 42.55 L663.25 42.55 L663.50 42.55 L663.75 42.55 L664.00 42.55 L664.25 42.55 L664.50 42.55 L664.75 42.55 L665.00 42.55 L665.25 42.55 L665.50 42.55 L665.75 42.55 L666.00 42.55 L666.25 42.55 L666.50 42.55 L666.75 42.55 L667.00 42.55 L667.25 42.55 L667.50 42.55 L667.75 42.55 L668.00 42.54 L668.25 42.54 L668.50 42.54 L668.75 42.54 L669.00 42.54 L669.25 42.53 L669.50 42.53 L669.75 42.53 L670.00 42.52 L670.25 42.52 L670.50 42.51 L670.75 42.50 L671.00 42.49 L671.25 42.47 L671.50 42.45 L671.75 42.42 L672.00 42.38 L672.25 42.34 L672.50 42.28 L672.75 42.22 L673.00 42.14 L673.25 42.07 L673.50 41.99 L673.75 41.93 L674.00 41.88 L674.25 41.87 L674.50 41.88 L674.75 41.93 L675.00 41.99 L675.25 42.07 L675.50 42.14 L675.75 42.22 L676.00 42.28 L676.25 42.34 L676.50 42.38 L676.75 42.42 L677.00 42.45 L677.25 42.47 L677.50 42.49 L677.75 42.50 L678.00 42.51 L678.25 42.52 L678.50 42.53 L678.75 42.53 L679.00 42.53 L679.25 42.54 L679.50 42.54 L679.75 42.54 L680.00 42.54 L680.25 42.55 L680.50 42.55 L680.75 42.55 L681.00 42.55 L681.25 42.55 L681.50 42.55 L681.75 42.55 L682.00 42.55 L682.25 42.55 L682.50 42.55 L682.75 42.55 L683.00 42.55 L683.25 42.55 L683.50 42.55 L683.75 42.56 L684.00 42.56 L684.25 42.56 L684.50 42.56 L684.75 42.55 L685.00 42.55 L685.25 42.55 L685.50 42.55 L685.75 42.55 L686.00 42.55 L686.25 42.55 L686.50 42.55 L686.75 42.55 L687.00 42.55 L687.25 42.55 L687.50 42.55 L687.75 42.55 L688.00 42.54 L688.25 42.54 L688.50 42.54 L688.75 42.53 L689.00 42.53 L689.25 42.53 L689.50 42.52 L689.75 42.51 L690.00 42.50 L690.25 42.48 L690.50 42.46 L690.75 42.43 L691.00 42.39 L691.25 42.34 L691.50 42.29 L691.75 42.22 L692.00 42.15 L692.25 42.07 L692.50 42.00 L692.75 41.93 L693.00 41.89 L693.25 41.87 L693.50 41.89 L693.75 41.93 L694.00 42.00 L694.25 42.07 L694.50 42.15 L694.75 42.22 L695.00 42.29 L695.25 42.35 L695.50 42.39 L695.75 42.43 L696.00 42.46 L696.25 42.48 L696.50 42.50 L696.75 42.51 L697.00 42.52 L697.25 42.53 L697.50 42.54 L697.75 42.54 L698.00 42.54 L698.25 42.55 L698.50 42.55 L698.75 42.55 L699.00 42.55 L699.25 42.56 L699.50 42.56 L699.75 42.56 L700.00 42.56 L700.25 42.56 L700.50 42.56 L700.75 42.56 L701.00 42.57 L701.25 42.57 L701.50 42.57 L701.75 42.57 L702.00 42.57 L702.25 42.57 L702.50 42.57 L702.75 42.57 L703.00 42.57 L703.25 42.57 L703.50 42.57 L703.75 42.57 L704.00 42.57 L704.25 42.57 L704.50 42.57 L704.75 42.57 L705.00 42.57 L705.25 42.57 L705.50 42.57 L705.75 42.57 L706.00 42.58 L706.25 42.58 L706.50 42.58 L706.75 42.58 L707.00 42.58 L707.25 42.58 L707.50 42.58 L707.75 42.58 L708.00 42.58 L708.25 42.58 L708.50 42.58 L708.75 42.58 L709.00 42.58 L709.25 42.58 L709.50 42.58 L709.75 42.58 L710.00 42.58 L710.25 42.58 L710.50 42.58 L710.75 42.58 L711.00 42.58 L711.25 42.58 L711.50 42.58 L711.75 42.58 L712.00 42.58 L712.25 42.58 L712.50 42.58 L712.75 42.58 L713.00 42.58 L713.25 42.58 L713.50 42.58 L713.75 42.58 L714.00 42.58 L714.25 42.58 L714.50 42.58 L714.75 42.58 L715.00 42.58 L715.25 42.58 L715.50 42.58 L715.75 42.58 L716.00 42.58 L716.25 42.58 L716.50 42.58 L716.75 42.58 L717.00 42.58 L717.25 42.58 L717.50 42.58 L717.75 42.58 L718.00 42.58 L718.25 42.58 L718.50 42.58 L718.75 42.58 L719.00 42.58 L719.25 42.58 L719.50 42.58 L719.75 42.58 L720.00 42.58 L720.25 42.58 L720.50 42.58 L720.75 42.58 L721.00 42.58 L721.25 42.58 L721.50 42.58 L721.75 42.59 L722.00 42.59 L722.25 42.59 L722.50 42.59 L722.75 42.59 L723.00 42.59 L723.25 42.59 L723.50 42.59 L723.75 42.59 L724.00 42.59 L724.25 42.59 L724.50 42.59 L724.75 42.59 L725.00 42.59 L725.25 42.59 L725.50 42.59 L725.75 42.59 L726.00 42.59 L726.25 42.59 L726.50 42.59 L726.75 42.59 L727.00 42.59 L727.25 42.59 L727.50 42.59 L727.75 42.59 L728.00 42.59 L728.25 42.59 L728.50 42.59 L728.75 42.59 L729.00 42.59 L729.25 42.59 L729.50 42.59 L729.75 42.59 L730.00 42.59 L730.25 42.59 L730.50 42.59 L730.75 42.59 L731.00 42.59 L731.25 42.59 L731.50 42.59 L731.75 42.59 L732.00 42.59 L732.25 42.59 L732.50 42.59 L732.75 42.59 L733.00 42.59 L733.25 42.59 L733.50 42.59 L733.75 42.59 L734.00 42.59 L734.25 42.59 L734.50 42.59 L734.75 42.59 L735.00 42.59 L735.25 42.59 L735.50 42.59 L735.75 42.59 L736.00 42.59 L736.25 42.59 L736.50 42.59 L736.75 42.59 L737.00 42.59 L737.25 42.59 L737.50 42.59 L737.75 42.59 L738.00 42.59 L738.25 42.59 L738.50 42.59 L738.75 42.59 L739.00 42.59 L739.25 42.59 L739.50 42.59 L739.75 42.59 L740.00 42.59 L740.25 42.59 L740.50 42.59 L740.75 42.59 L741.00 42.59 L741.25 42.59 L741.50 42.59 L741.75 42.59 L742.00 42.59 L742.25 42.59 L742.50 42.59 L742.75 42.59 L743.00 42.59 L743.25 42.59 L743.50 42.59 L743.75 42.59 L744.00 42.59 L744.25 42.59 L744.50 42.59 L744.75 42.59 L745.00 42.59 L745.25 42.59 L745.50 42.59 L745.75 42.59 L746.00 42.59 L746.25 42.59 L746.50 42.59 L746.75 42.59 L747.00 42.59 L747.25 42.59 L747.50 42.59 L747.75 42.60 L748.00 42.60 L748.25 42.60 L748.50 42.60 L748.75 42.60 L749.00 42.60 L749.25 42.60 L749.50 42.60 L749.75 42.60 L750.00 42.60 L750.25 42.60 L750.50 42.60 L750.75 42.60 L751.00 42.60 L751.25 42.60 L751.50 42.60 L751.75 42.60 L752.00 42.60 L752.25 42.60 L752.50 42.60 L752.75 42.60 L753.00 42.60 L753.25 42.60 L753.50 42.60 L753.75 42.60 L754.00 42.60 L754.25 42.60 L754.50 42.60 L754.75 42.60 L755.00 42.60 L755.25 42.60 L755.50 42.60 L755.75 42.60 L756.00 42.60 L756.25 42.60 L756.50 42.60 L756.75 42.60 L757.00 42.60 L757.25 42.60 L757.50 42.60 L757.75 42.60 L758.00 42.60 L758.25 42.60" stroke="#18be18" stroke-width="1.50" fill="none" stroke-linejoin="round"/>
<path d="M460.00 75.32 L460.25 75.31 L460.50 75.29 L460.75 75.28 L461.00 75.27 L461.25 75.25 L461.50 75.24 L461.75 75.22 L462.00 75.20 L462.25 75.19 L462.50 75.17 L462.75 75.15 L463.00 75.13 L463.25 75.11 L463.50 75.09 L463.75 75.06 L464.00 75.04 L464.25 75.02 L464.50 74.99 L464.75 74.96 L465.00 74.93 L465.25 74.90 L465.50 74.87 L465.75 74.84 L466.00 74.80 L466.25 74.76 L466.50 74.72 L466.75 74.68 L467.00 74.64 L467.25 74.59 L467.50 74.54 L467.75 74.49 L468.00 74.43 L468.25 74.37 L468.50 74.31 L468.75 74.24 L469.00 74.17 L469.25 74.09 L469.50 74.01 L469.75 73.93 L470.00 73.83 L470.25 73.73 L470.50 73.62 L470.75 73.51 L471.00 73.39 L471.25 73.25 L471.50 73.11 L471.75 72.95 L472.00 72.79 L472.25 72.61 L472.50 72.42 L472.75 72.21 L473.00 71.98 L473.25 71.74 L473.50 71.47 L473.75 71.19 L474.00 70.88 L474.25 70.55 L474.50 70.19 L474.75 69.80 L475.00 69.39 L475.25 68.94 L475.50 68.46 L475.75 67.94 L476.00 67.37 L476.25 66.73 L476.50 65.94 L476.75 64.87 L477.00 63.30 L477.25 60.96 L477.50 57.68 L477.75 53.65 L478.00 49.67 L478.25 47.45 L478.50 49.42 L478.75 55.67 L479.00 62.40 L479.25 67.60 L479.50 70.91 L479.75 72.75 L480.00 73.72 L480.25 74.25 L480.50 74.57 L480.75 74.79 L481.00 74.96 L481.25 75.08 L481.50 75.18 L481.75 75.26 L482.00 75.32 L482.25 75.38 L482.50 75.42 L482.75 75.46 L483.00 75.49 L483.25 75.51 L483.50 75.53 L483.75 75.55 L484.00 75.57 L484.25 75.58 L484.50 75.59 L484.75 75.61 L485.00 75.61 L485.25 75.62 L485.50 75.63 L485.75 75.63 L486.00 75.64 L486.25 75.64 L486.50 75.64 L486.75 75.64 L487.00 75.64 L487.25 75.64 L487.50 75.64 L487.75 75.64 L488.00 75.63 L488.25 75.63 L488.50 75.62 L488.75 75.61 L489.00 75.60 L489.25 75.59 L489.50 75.57 L489.75 75.54 L490.00 75.50 L490.25 75.45 L490.50 75.37 L490.75 75.25 L491.00 75.10 L491.25 74.90 L491.50 74.65 L491.75 74.37 L492.00 74.07 L492.25 73.78 L492.50 73.57 L492.75 73.49 L493.00 73.56 L493.25 73.77 L493.50 74.05 L493.75 74.34 L494.00 74.62 L494.25 74.86 L494.50 75.05 L494.75 75.20 L495.00 75.30 L495.25 75.37 L495.50 75.42 L495.75 75.45 L496.00 75.46 L496.25 75.47 L496.50 75.47 L496.75 75.47 L497.00 75.46 L497.25 75.45 L497.50 75.44 L497.75 75.42 L498.00 75.39 L498.25 75.37 L498.50 75.34 L498.75 75.30 L499.00 75.25 L499.25 75.20 L499.50 75.13 L499.75 75.04 L500.00 74.92 L500.25 74.76 L500.50 74.54 L500.75 74.24 L501.00 73.84 L501.25 73.30 L501.50 72.60 L501.75 71.72 L502.00 70.65 L502.25 69.43 L502.50 68.08 L502.75 66.71 L503.00 65.46 L503.25 64.53 L503.50 64.10 L503.75 64.47 L504.00 65.84 L504.25 67.70 L504.50 69.58 L504.75 71.24 L505.00 72.54 L505.25 73.50 L505.50 74.15 L505.75 74.58 L506.00 74.86 L506.25 75.04 L506.50 75.17 L506.75 75.26 L507.00 75.33 L507.25 75.38 L507.50 75.43 L507.75 75.46 L508.00 75.49 L508.25 75.52 L508.50 75.54 L508.75 75.55 L509.00 75.57 L509.25 75.58 L509.50 75.58 L509.75 75.59 L510.00 75.58 L510.25 75.58 L510.50 75.56 L510.75 75.53 L511.00 75.49 L511.25 75.43 L511.50 75.34 L511.75 75.21 L512.00 75.06 L512.25 74.89 L512.50 74.70 L512.75 74.52 L513.00 74.39 L513.25 74.35 L513.50 74.40 L513.75 74.54 L514.00 74.72 L514.25 74.91 L514.50 75.09 L514.75 75.25 L515.00 75.38 L515.25 75.47 L515.50 75.55 L515.75 75.60 L516.00 75.63 L516.25 75.66 L516.50 75.67 L516.75 75.69 L517.00 75.69 L517.25 75.70 L517.50 75.70 L517.75 75.71 L518.00 75.71 L518.25 75.71 L518.50 75.71 L518.75 75.70 L519.00 75.69 L519.25 75.68 L519.50 75.66 L519.75 75.64 L520.00 75.59 L520.25 75.54 L520.50 75.46 L520.75 75.35 L521.00 75.22 L521.25 75.06 L521.50 74.90 L521.75 74.75 L522.00 74.64 L522.25 74.59 L522.50 74.64 L522.75 74.75 L523.00 74.91 L523.25 75.07 L523.50 75.23 L523.75 75.36 L524.00 75.47 L524.25 75.55 L524.50 75.62 L524.75 75.66 L525.00 75.69 L525.25 75.71 L525.50 75.73 L525.75 75.74 L526.00 75.75 L526.25 75.75 L526.50 75.76 L526.75 75.76 L527.00 75.77 L527.25 75.77 L527.50 75.77 L527.75 75.77 L528.00 75.78 L528.25 75.78 L528.50 75.78 L528.75 75.78 L529.00 75.78 L529.25 75.78 L529.50 75.78 L529.75 75.78 L530.00 75.78 L530.25 75.78 L530.50 75.77 L530.75 75.77 L531.00 75.77 L531.25 75.77 L531.50 75.76 L531.75 75.76 L532.00 75.75 L532.25 75.74 L532.50 75.72 L532.75 75.70 L533.00 75.67 L533.25 75.63 L533.50 75.58 L533.75 75.51 L534.00 75.42 L534.25 75.33 L534.50 75.23 L534.75 75.14 L535.00 75.09 L535.25 75.08 L535.50 75.12 L535.75 75.20 L536.00 75.29 L536.25 75.38 L536.50 75.45 L536.75 75.52 L537.00 75.57 L537.25 75.60 L537.50 75.62 L537.75 75.62 L538.00 75.62 L538.25 75.60 L538.50 75.56 L538.75 75.50 L539.00 75.41 L539.25 75.29 L539.50 75.13 L539.75 74.93 L540.00 74.69 L540.25 74.43 L540.50 74.18 L540.75 73.98 L541.00 73.89 L541.25 73.94 L541.50 74.13 L541.75 74.39 L542.00 74.67 L542.25 74.93 L542.50 75.15 L542.75 75.31 L543.00 75.43 L543.25 75.51 L543.50 75.57 L543.75 75.60 L544.00 75.62 L544.25 75.63 L544.50 75.62 L544.75 75.61 L545.00 75.58 L545.25 75.54 L545.50 75.48 L545.75 75.40 L546.00 75.29 L546.25 75.15 L546.50 74.99 L546.75 74.83 L547.00 74.68 L547.25 74.58 L547.50 74.55 L547.75 74.61 L548.00 74.75 L548.25 74.92 L548.50 75.09 L548.75 75.24 L549.00 75.35 L549.25 75.43 L549.50 75.48 L549.75 75.51 L550.00 75.50 L550.25 75.48 L550.50 75.43 L550.75 75.34 L551.00 75.21 L551.25 75.03 L551.50 74.79 L551.75 74.48 L552.00 74.12 L552.25 73.73 L552.50 73.35 L552.75 73.05 L553.00 72.91 L553.25 72.99 L553.50 73.28 L553.75 73.68 L554.00 74.12 L554.25 74.52 L554.50 74.85 L554.75 75.11 L555.00 75.30 L555.25 75.44 L555.50 75.53 L555.75 75.59 L556.00 75.63 L556.25 75.66 L556.50 75.68 L556.75 75.70 L557.00 75.71 L557.25 75.72 L557.50 75.73 L557.75 75.74 L558.00 75.75 L558.25 75.75 L558.50 75.76 L558.75 75.76 L559.00 75.76 L559.25 75.76 L559.50 75.77 L559.75 75.77 L560.00 75.77 L560.25 75.77 L560.50 75.77 L560.75 75.77 L561.00 75.77 L561.25 75.77 L561.50 75.76 L561.75 75.76 L562.00 75.76 L562.25 75.75 L562.50 75.75 L562.75 75.74 L563.00 75.74 L563.25 75.73 L563.50 75.72 L563.75 75.71 L564.00 75.70 L564.25 75.68 L564.50 75.67 L564.75 75.64 L565.00 75.62 L565.25 75.58 L565.50 75.52 L565.75 75.44 L566.00 75.34 L566.25 75.19 L566.50 75.00 L566.75 74.75 L567.00 74.44 L567.25 74.07 L567.50 73.67 L567.75 73.27 L568.00 72.92 L568.25 72.68 L568.50 72.62 L568.75 72.81 L569.00 73.19 L569.25 73.66 L569.50 74.12 L569.75 74.53 L570.00 74.87 L570.25 75.12 L570.50 75.30 L570.75 75.42 L571.00 75.50 L571.25 75.55 L571.50 75.59 L571.75 75.61 L572.00 75.63 L572.25 75.64 L572.50 75.64 L572.75 75.64 L573.00 75.64 L573.25 75.64 L573.50 75.63 L573.75 75.62 L574.00 75.60 L574.25 75.57 L574.50 75.53 L574.75 75.48 L575.00 75.40 L575.25 75.29 L575.50 75.14 L575.75 74.94 L576.00 74.67 L576.25 74.34 L576.50 73.94 L576.75 73.50 L577.00 73.05 L577.25 72.64 L577.50 72.34 L577.75 72.23 L578.00 72.39 L578.25 72.78 L578.50 73.30 L578.75 73.83 L579.00 74.31 L579.25 74.71 L579.50 75.01 L579.75 75.24 L580.00 75.39 L580.25 75.49 L580.50 75.56 L580.75 75.61 L581.00 75.65 L581.25 75.67 L581.50 75.69 L581.75 75.71 L582.00 75.72 L582.25 75.73 L582.50 75.74 L582.75 75.74 L583.00 75.75 L583.25 75.75 L583.50 75.76 L583.75 75.76 L584.00 75.76 L584.25 75.76 L584.50 75.76 L584.75 75.76 L585.00 75.75 L585.25 75.75 L585.50 75.75 L585.75 75.74 L586.00 75.73 L586.25 75.72 L586.50 75.71 L586.75 75.70 L587.00 75.68 L587.25 75.65 L587.50 75.61 L587.75 75.56 L588.00 75.49 L588.25 75.39 L588.50 75.25 L588.75 75.06 L589.00 74.83 L589.25 74.54 L589.50 74.20 L589.75 73.84 L590.00 73.48 L590.25 73.18 L590.50 72.99 L590.75 72.98 L591.00 73.19 L591.25 73.56 L591.50 74.00 L591.75 74.41 L592.00 74.77 L592.25 75.06 L592.50 75.28 L592.75 75.44 L593.00 75.54 L593.25 75.61 L593.50 75.66 L593.75 75.70 L594.00 75.72 L594.25 75.74 L594.50 75.76 L594.75 75.77 L595.00 75.78 L595.25 75.79 L595.50 75.79 L595.75 75.80 L596.00 75.81 L596.25 75.81 L596.50 75.82 L596.75 75.82 L597.00 75.82 L597.25 75.82 L597.50 75.83 L597.75 75.83 L598.00 75.83 L598.25 75.83 L598.50 75.83 L598.75 75.83 L599.00 75.83 L599.25 75.83 L599.50 75.83 L599.75 75.83 L600.00 75.83 L600.25 75.82 L600.50 75.82 L600.75 75.81 L601.00 75.81 L601.25 75.79 L601.50 75.78 L601.75 75.76 L602.00 75.73 L602.25 75.70 L602.50 75.65 L602.75 75.60 L603.00 75.53 L603.25 75.46 L603.50 75.39 L603.75 75.31 L604.00 75.25 L604.25 75.20 L604.50 75.17 L604.75 75.18 L605.00 75.22 L605.25 75.29 L605.50 75.36 L605.75 75.44 L606.00 75.51 L606.25 75.58 L606.50 75.64 L606.75 75.69 L607.00 75.72 L607.25 75.76 L607.50 75.78 L607.75 75.80 L608.00 75.81 L608.25 75.82 L608.50 75.83 L608.75 75.83 L609.00 75.84 L609.25 75.84 L609.50 75.84 L609.75 75.84 L610.00 75.85 L610.25 75.85 L610.50 75.85 L610.75 75.85 L611.00 75.85 L611.25 75.84 L611.50 75.84 L611.75 75.84 L612.00 75.84 L612.25 75.83 L612.50 75.83 L612.75 75.82 L613.00 75.81 L613.25 75.79 L613.50 75.77 L613.75 75.74 L614.00 75.70 L614.25 75.66 L614.50 75.60 L614.75 75.54 L615.00 75.46 L615.25 75.39 L615.50 75.31 L615.75 75.25 L616.00 75.21 L616.25 75.19 L616.50 75.21 L616.75 75.25 L617.00 75.32 L617.25 75.39 L617.50 75.47 L617.75 75.54 L618.00 75.61 L618.25 75.67 L618.50 75.71 L618.75 75.75 L619.00 75.78 L619.25 75.80 L619.50 75.82 L619.75 75.83 L620.00 75.84 L620.25 75.85 L620.50 75.86 L620.75 75.86 L621.00 75.86 L621.25 75.87 L621.50 75.87 L621.75 75.87 L622.00 75.87 L622.25 75.88 L622.50 75.88 L622.75 75.88 L623.00 75.88 L623.25 75.88 L623.50 75.88 L623.75 75.89 L624.00 75.89 L624.25 75.89 L624.50 75.89 L624.75 75.89 L625.00 75.89 L625.25 75.89 L625.50 75.89 L625.75 75.89 L626.00 75.89 L626.25 75.89 L626.50 75.89 L626.75 75.89 L627.00 75.89 L627.25 75.89 L627.50 75.89 L627.75 75.89 L628.00 75.89 L628.25 75.89 L628.50 75.90 L628.75 75.90 L629.00 75.90 L629.25 75.90 L629.50 75.90 L629.75 75.90 L630.00 75.90 L630.25 75.90 L630.50 75.90 L630.75 75.90 L631.00 75.90 L631.25 75.90 L631.50 75.89 L631.75 75.89 L632.00 75.89 L632.25 75.89 L632.50 75.89 L632.75 75.89 L633.00 75.89 L633.25 75.89 L633.50 75.89 L633.75 75.89 L634.00 75.89 L634.25 75.89 L634.50 75.89 L634.75 75.88 L635.00 75.88 L635.25 75.88 L635.50 75.88 L635.75 75.87 L636.00 75.87 L636.25 75.86 L636.50 75.86 L636.75 75.85 L637.00 75.83 L637.25 75.82 L637.50 75.80 L637.75 75.77 L638.00 75.73 L638.25 75.68 L638.50 75.63 L638.75 75.56 L639.00 75.49 L639.25 75.41 L639.50 75.34 L639.75 75.27 L640.00 75.23 L640.25 75.21 L640.50 75.23 L640.75 75.27 L641.00 75.34 L641.25 75.41 L641.50 75.49 L641.75 75.56 L642.00 75.63 L642.25 75.68 L642.50 75.73 L642.75 75.77 L643.00 75.80 L643.25 75.82 L643.50 75.84 L643.75 75.85 L644.00 75.86 L644.25 75.87 L644.50 75.87 L644.75 75.88 L645.00 75.88 L645.25 75.88 L645.50 75.88 L645.75 75.89 L646.00 75.89 L646.25 75.89 L646.50 75.89 L646.75 75.89 L647.00 75.89 L647.25 75.89 L647.50 75.89 L647.75 75.89 L648.00 75.89 L648.25 75.89 L648.50 75.89 L648.75 75.89 L649.00 75.89 L649.25 75.89 L649.50 75.89 L649.75 75.89 L650.00 75.89 L650.25 75.89 L650.50 75.88 L650.75 75.88 L651.00 75.88 L651.25 75.87 L651.50 75.86 L651.75 75.86 L652.00 75.84 L652.25 75.83 L652.50 75.81 L652.75 75.78 L653.00 75.74 L653.25 75.69 L653.50 75.64 L653.75 75.57 L654.00 75.50 L654.25 75.42 L654.50 75.35 L654.75 75.28 L655.00 75.24 L655.25 75.22 L655.50 75.24 L655.75 75.28 L656.00 75.35 L656.25 75.42 L656.50 75.50 L656.75 75.57 L657.00 75.64 L657.25 75.70 L657.50 75.74 L657.75 75.78 L658.00 75.81 L658.25 75.83 L658.50 75.85 L658.75 75.86 L659.00 75.87 L659.25 75.88 L659.50 75.89 L659.75 75.89 L660.00 75.90 L660.25 75.90 L660.50 75.90 L660.75 75.90 L661.00 75.91 L661.25 75.91 L661.50 75.91 L661.75 75.91 L662.00 75.91 L662.25 75.91 L662.50 75.91 L662.75 75.92 L663.00 75.92 L663.25 75.92 L663.50 75.92 L663.75 75.92 L664.00 75.92 L664.25 75.92 L664.50 75.92 L664.75 75.92 L665.00 75.92 L665.25 75.92 L665.50 75.92 L665.75 75.92 L666.00 75.92 L666.25 75.92 L666.50 75.92 L666.75 75.92 L667.00 75.92 L667.25 75.93 L667.50 75.93 L667.75 75.93 L668.00 75.93 L668.25 75.93 L668.50 75.93 L668.75 75.93 L669.00 75.93 L669.25 75.93 L669.50 75.93 L669.75 75.93 L670.00 75.93 L670.25 75.93 L670.50 75.93 L670.75 75.93 L671.00 75.93 L671.25 75.93 L671.50 75.93 L671.75 75.92 L672.00 75.92 L672.25 75.92 L672.50 75.92 L672.75 75.92 L673.00 75.92 L673.25 75.92 L673.50 75.92 L673.75 75.92 L674.00 75.92 L674.25 75.92 L674.50 75.92 L674.75 75.91 L675.00 75.91 L675.25 75.91 L675.50 75.91 L675.75 75.90 L676.00 75.90 L676.25 75.89 L676.50 75.89 L676.75 75.88 L677.00 75.87 L677.25 75.85 L677.50 75.83 L677.75 75.80 L678.00 75.76 L678.25 75.71 L678.50 75.66 L678.75 75.59 L679.00 75.52 L679.25 75.44 L679.50 75.37 L679.75 75.30 L680.00 75.26 L680.25 75.24 L680.50 75.26 L680.75 75.30 L681.00 75.37 L681.25 75.44 L681.50 75.52 L681.75 75.59 L682.00 75.66 L682.25 75.72 L682.50 75.76 L682.75 75.80 L683.00 75.83 L683.25 75.85 L683.50 75.87 L683.75 75.88 L684.00 75.89 L684.25 75.90 L684.50 75.90 L684.75 75.91 L685.00 75.91 L685.25 75.92 L685.50 75.92 L685.75 75.92 L686.00 75.92 L686.25 75.92 L686.50 75.93 L686.75 75.93 L687.00 75.93 L687.25 75.93 L687.50 75.93 L687.75 75.93 L688.00 75.93 L688.25 75.93 L688.50 75.93 L688.75 75.93 L689.00 75.93 L689.25 75.94 L689.50 75.94 L689.75 75.94 L690.00 75.94 L690.25 75.94 L690.50 75.94 L690.75 75.94 L691.00 75.94 L691.25 75.94 L691.50 75.94 L691.75 75.94 L692.00 75.94 L692.25 75.94 L692.50 75.94 L692.75 75.94 L693.00 75.93 L693.25 75.93 L693.50 75.93 L693.75 75.93 L694.00 75.93 L694.25 75.93 L694.50 75.93 L694.75 75.93 L695.00 75.93 L695.25 75.92 L695.50 75.92 L695.75 75.92 L696.00 75.91 L696.25 75.91 L696.50 75.90 L696.75 75.89 L697.00 75.88 L697.25 75.86 L697.50 75.84 L697.75 75.81 L698.00 75.77 L698.25 75.73 L698.50 75.67 L698.75 75.61 L699.00 75.53 L699.25 75.46 L699.50 75.38 L699.75 75.32 L700.00 75.27 L700.25 75.26 L700.50 75.27 L700.75 75.32 L701.00 75.38 L701.25 75.46 L701.50 75.54 L701.75 75.61 L702.00 75.67 L702.25 75.73 L702.50 75.78 L702.75 75.82 L703.00 75.85 L703.25 75.87 L703.50 75.89 L703.75 75.90 L704.00 75.91 L704.25 75.92 L704.50 75.92 L704.75 75.93 L705.00 75.93 L705.25 75.93 L705.50 75.94 L705.75 75.94 L706.00 75.94 L706.25 75.94 L706.50 75.94 L706.75 75.95 L707.00 75.95 L707.25 75.95 L707.50 75.95 L707.75 75.95 L708.00 75.95 L708.25 75.95 L708.50 75.95 L708.75 75.95 L709.00 75.95 L709.25 75.96 L709.50 75.96 L709.75 75.96 L710.00 75.96 L710.25 75.96 L710.50 75.96 L710.75 75.96 L711.00 75.96 L711.25 75.96 L711.50 75.96 L711.75 75.96 L712.00 75.96 L712.25 75.96 L712.50 75.96 L712.75 75.96 L713.00 75.96 L713.25 75.96 L713.50 75.96 L713.75 75.96 L714.00 75.96 L714.25 75.96 L714.50 75.96 L714.75 75.97 L715.00 75.97 L715.25 75.97 L715.50 75.97 L715.75 75.97 L716.00 75.97 L716.25 75.97 L716.50 75.97 L716.75 75.97 L717.00 75.97 L717.25 75.97 L717.50 75.97 L717.75 75.97 L718.00 75.97 L718.25 75.97 L718.50 75.97 L718.75 75.97 L719.00 75.97 L719.25 75.97 L719.50 75.97 L719.75 75.97 L720.00 75.97 L720.25 75.97 L720.50 75.97 L720.75 75.97 L721.00 75.97 L721.25 75.97 L721.50 75.97 L721.75 75.97 L722.00 75.97 L722.25 75.97 L722.50 75.97 L722.75 75.97 L723.00 75.97 L723.25 75.97 L723.50 75.97 L723.75 75.97 L724.00 75.97 L724.25 75.97 L724.50 75.97 L724.75 75.97 L725.00 75.97 L725.25 75.98 L725.50 75.98 L725.75 75.98 L726.00 75.98 L726.25 75.98 L726.50 75.98 L726.75 75.98 L727.00 75.98 L727.25 75.98 L727.50 75.98 L727.75 75.98 L728.00 75.98 L728.25 75.98 L728.50 75.98 L728.75 75.98 L729.00 75.98 L729.25 75.98 L729.50 75.98 L729.75 75.98 L730.00 75.98 L730.25 75.98 L730.50 75.98 L730.75 75.98 L731.00 75.98 L731.25 75.98 L731.50 75.98 L731.75 75.98 L732.00 75.98 L732.25 75.98 L732.50 75.98 L732.75 75.98 L733.00 75.98 L733.25 75.98 L733.50 75.98 L733.75 75.98 L734.00 75.98 L734.25 75.98 L734.50 75.98 L734.75 75.98 L735.00 75.98 L735.25 75.98 L735.50 75.98 L735.75 75.98 L736.00 75.98 L736.25 75.98 L736.50 75.98 L736.75 75.98 L737.00 75.98 L737.25 75.98 L737.50 75.98 L737.75 75.98 L738.00 75.98 L738.25 75.98 L738.50 75.98 L738.75 75.99 L739.00 75.99 L739.25 75.99 L739.50 75.99 L739.75 75.99 L740.00 75.99 L740.25 75.99 L740.50 75.99 L740.75 75.99 L741.00 75.99 L741.25 75.99 L741.50 75.99 L741.75 75.99 L742.00 75.99 L742.25 75.99 L742.50 75.99 L742.75 75.99 L743.00 75.99 L743.25 75.99 L743.50 75.99 L743.75 75.99 L744.00 75.99 L744.25 75.99 L744.50 75.99 L744.75 75.99 L745.00 75.99 L745.25 75.99 L745.50 75.99 L745.75 75.99 L746.00 75.99 L746.25 75.99 L746.50 75.99 L746.75 75.99 L747.00 75.99 L747.25 75.99 L747.50 75.99 L747.75 75.99 L748.00 75.99 L748.25 75.99 L748.50 75.99 L748.75 75.99 L749.00 75.99 L749.25 75.99 L749.50 75.99 L749.75 75.99 L750.00 75.99 L750.25 75.99 L750.50 75.99 L750.75 75.99 L751.00 75.99 L751.25 75.99 L751.50 75.99 L751.75 75.99 L752.00 75.99 L752.25 75.99 L752.50 75.99 L752.75 76.00 L753.00 76.00 L753.25 76.00 L753.50 76.00 L753.75 76.00 L754.00 76.00 L754.25 76.00 L754.50 76.00 L754.75 76.00 L755.00 76.00 L755.25 76.00 L755.50 76.00 L755.75 76.00 L756.00 76.00 L756.25 76.00 L756.50 76.00 L756.75 76.00 L757.00 76.00 L757.25 76.00 L757.50 76.00 L757.75 76.00 L758.00 76.00 L758.25 76.00" stroke="#ff0c36" stroke-width="1.50" fill="none" stroke-linejoin="round"/>
<path d="M460.00 119.50 L460.25 119.48 L460.50 119.47 L460.75 119.45 L461.00 119.43 L461.25 119.41 L461.50 119.39 L461.75 119.37 L462.00 119.35 L462.25 119.33 L462.50 119.30 L462.75 119.28 L463.00 119.25 L463.25 119.23 L463.50 119.20 L463.75 119.17 L464.00 119.14 L464.25 119.11 L464.50 119.07 L464.75 119.04 L465.00 119.00 L465.25 118.96 L465.50 118.92 L465.75 118.88 L466.00 118.83 L466.25 118.79 L466.50 118.73 L466.75 118.68 L467.00 118.62 L467.25 118.56 L467.50 118.50 L467.75 118.43 L468.00 118.36 L468.25 118.28 L468.50 118.20 L468.75 118.12 L469.00 118.02 L469.25 117.93 L469.50 117.82 L469.75 117.71 L470.00 117.59 L470.25 117.46 L470.50 117.32 L470.75 117.17 L471.00 117.01 L471.25 116.84 L471.50 116.65 L471.75 116.45 L472.00 116.24 L472.25 116.00 L472.50 115.75 L472.75 115.48 L473.00 115.19 L473.25 114.87 L473.50 114.52 L473.75 114.15 L474.00 113.75 L474.25 113.31 L474.50 112.84 L474.75 112.34 L475.00 111.79 L475.25 111.20 L475.50 110.55 L475.75 109.85 L476.00 109.03 L476.25 108.04 L476.50 106.67 L476.75 104.64 L477.00 101.54 L477.25 97.09 L477.50 91.39 L477.75 85.41 L478.00 81.42 L478.25 82.64 L478.50 90.53 L478.75 99.99 L479.00 107.63 L479.25 112.65 L479.50 115.49 L479.75 116.99 L480.00 117.79 L480.25 118.27 L480.50 118.59 L480.75 118.83 L481.00 119.01 L481.25 119.15 L481.50 119.26 L481.75 119.35 L482.00 119.42 L482.25 119.48 L482.50 119.52 L482.75 119.56 L483.00 119.60 L483.25 119.63 L483.50 119.65 L483.75 119.67 L484.00 119.68 L484.25 119.69 L484.50 119.70 L484.75 119.71 L485.00 119.71 L485.25 119.72 L485.50 119.72 L485.75 119.71 L486.00 119.71 L486.25 119.70 L486.50 119.69 L486.75 119.68 L487.00 119.67 L487.25 119.65 L487.50 119.62 L487.75 119.60 L488.00 119.56 L488.25 119.52 L488.50 119.46 L488.75 119.38 L489.00 119.27 L489.25 119.11 L489.50 118.88 L489.75 118.55 L490.00 118.10 L490.25 117.50 L490.50 116.75 L490.75 115.85 L491.00 114.86 L491.25 113.88 L491.50 113.06 L491.75 112.60 L492.00 112.69 L492.25 113.44 L492.50 114.55 L492.75 115.74 L493.00 116.80 L493.25 117.65 L493.50 118.28 L493.75 118.71 L494.00 118.99 L494.25 119.17 L494.50 119.28 L494.75 119.35 L495.00 119.40 L495.25 119.43 L495.50 119.45 L495.75 119.46 L496.00 119.46 L496.25 119.45 L496.50 119.44 L496.75 119.43 L497.00 119.41 L497.25 119.38 L497.50 119.35 L497.75 119.31 L498.00 119.26 L498.25 119.20 L498.50 119.13 L498.75 119.05 L499.00 118.94 L499.25 118.81 L499.50 118.63 L499.75 118.40 L500.00 118.09 L500.25 117.66 L500.50 117.07 L500.75 116.28 L501.00 115.24 L501.25 113.91 L501.50 112.29 L501.75 110.37 L502.00 108.23 L502.25 105.97 L502.50 103.81 L502.75 102.03 L503.00 100.96 L503.25 100.94 L503.50 102.61 L503.75 105.44 L504.00 108.59 L504.25 111.48 L504.50 113.86 L504.75 115.65 L505.00 116.91 L505.25 117.75 L505.50 118.29 L505.75 118.65 L506.00 118.89 L506.25 119.05 L506.50 119.18 L506.75 119.28 L507.00 119.36 L507.25 119.42 L507.50 119.48 L507.75 119.52 L508.00 119.56 L508.25 119.59 L508.50 119.61 L508.75 119.63 L509.00 119.64 L509.25 119.65 L509.50 119.65 L509.75 119.63 L510.00 119.60 L510.25 119.55 L510.50 119.48 L510.75 119.39 L511.00 119.26 L511.25 119.12 L511.50 118.96 L511.75 118.81 L512.00 118.70 L512.25 118.66 L512.50 118.71 L512.75 118.83 L513.00 118.99 L513.25 119.15 L513.50 119.31 L513.75 119.44 L514.00 119.55 L514.25 119.64 L514.50 119.70 L514.75 119.74 L515.00 119.77 L515.25 119.79 L515.50 119.80 L515.75 119.80 L516.00 119.81 L516.25 119.81 L516.50 119.80 L516.75 119.80 L517.00 119.79 L517.25 119.77 L517.50 119.75 L517.75 119.72 L518.00 119.67 L518.25 119.60 L518.50 119.50 L518.75 119.36 L519.00 119.17 L519.25 118.93 L519.50 118.63 L519.75 118.30 L520.00 117.96 L520.25 117.66 L520.50 117.48 L520.75 117.47 L521.00 117.65 L521.25 117.97 L521.50 118.34 L521.75 118.70 L522.00 119.01 L522.25 119.26 L522.50 119.45 L522.75 119.59 L523.00 119.68 L523.25 119.74 L523.50 119.78 L523.75 119.81 L524.00 119.83 L524.25 119.85 L524.50 119.86 L524.75 119.87 L525.00 119.88 L525.25 119.89 L525.50 119.89 L525.75 119.90 L526.00 119.90 L526.25 119.91 L526.50 119.91 L526.75 119.91 L527.00 119.91 L527.25 119.92 L527.50 119.92 L527.75 119.92 L528.00 119.92 L528.25 119.92 L528.50 119.92 L528.75 119.92 L529.00 119.92 L529.25 119.92 L529.50 119.92 L529.75 119.92 L530.00 119.91 L530.25 119.91 L530.50 119.91 L530.75 119.91 L531.00 119.90 L531.25 119.90 L531.50 119.89 L531.75 119.89 L532.00 119.88 L532.25 119.86 L532.50 119.84 L532.75 119.82 L533.00 119.78 L533.25 119.74 L533.50 119.67 L533.75 119.60 L534.00 119.50 L534.25 119.41 L534.50 119.31 L534.75 119.23 L535.00 119.19 L535.25 119.20 L535.50 119.25 L535.75 119.33 L536.00 119.42 L536.25 119.50 L536.50 119.57 L536.75 119.62 L537.00 119.66 L537.25 119.67 L537.50 119.68 L537.75 119.66 L538.00 119.62 L538.25 119.56 L538.50 119.46 L538.75 119.31 L539.00 119.09 L539.25 118.80 L539.50 118.43 L539.75 117.99 L540.00 117.53 L540.25 117.11 L540.50 116.84 L540.75 116.81 L541.00 117.03 L541.25 117.42 L541.50 117.88 L541.75 118.32 L542.00 118.70 L542.25 119.00 L542.50 119.22 L542.75 119.38 L543.00 119.48 L543.25 119.54 L543.50 119.57 L543.75 119.58 L544.00 119.57 L544.25 119.55 L544.50 119.50 L544.75 119.41 L545.00 119.28 L545.25 119.08 L545.50 118.81 L545.75 118.46 L546.00 118.03 L546.25 117.57 L546.50 117.14 L546.75 116.83 L547.00 116.75 L547.25 116.93 L547.50 117.30 L547.75 117.75 L548.00 118.20 L548.25 118.59 L548.50 118.90 L548.75 119.14 L549.00 119.30 L549.25 119.41 L549.50 119.47 L549.75 119.49 L550.00 119.48 L550.25 119.43 L550.50 119.34 L550.75 119.19 L551.00 118.98 L551.25 118.70 L551.50 118.35 L551.75 117.95 L552.00 117.54 L552.25 117.21 L552.50 117.06 L552.75 117.13 L553.00 117.41 L553.25 117.81 L553.50 118.23 L553.75 118.61 L554.00 118.93 L554.25 119.18 L554.50 119.37 L554.75 119.50 L555.00 119.58 L555.25 119.64 L555.50 119.68 L555.75 119.71 L556.00 119.73 L556.25 119.74 L556.50 119.75 L556.75 119.76 L557.00 119.77 L557.25 119.77 L557.50 119.77 L557.75 119.77 L558.00 119.77 L558.25 119.77 L558.50 119.77 L558.75 119.76 L559.00 119.75 L559.25 119.74 L559.50 119.73 L559.75 119.72 L560.00 119.70 L560.25 119.67 L560.50 119.63 L560.75 119.57 L561.00 119.49 L561.25 119.38 L561.50 119.23 L561.75 119.05 L562.00 118.82 L562.25 118.57 L562.50 118.31 L562.75 118.09 L563.00 117.94 L563.25 117.91 L563.50 118.01 L563.75 118.22 L564.00 118.45 L564.25 118.67 L564.50 118.85 L564.75 118.96 L565.00 119.01 L565.25 118.97 L565.50 118.86 L565.75 118.64 L566.00 118.31 L566.25 117.84 L566.50 117.22 L566.75 116.46 L567.00 115.58 L567.25 114.67 L567.50 113.85 L567.75 113.28 L568.00 113.14 L568.25 113.61 L568.50 114.54 L568.75 115.63 L569.00 116.67 L569.25 117.54 L569.50 118.20 L569.75 118.67 L570.00 118.98 L570.25 119.19 L570.50 119.31 L570.75 119.40 L571.00 119.45 L571.25 119.49 L571.50 119.51 L571.75 119.53 L572.00 119.54 L572.25 119.54 L572.50 119.53 L572.75 119.52 L573.00 119.50 L573.25 119.47 L573.50 119.43 L573.75 119.36 L574.00 119.27 L574.25 119.12 L574.50 118.92 L574.75 118.62 L575.00 118.22 L575.25 117.69 L575.50 117.04 L575.75 116.28 L576.00 115.48 L576.25 114.72 L576.50 114.16 L576.75 113.96 L577.00 114.26 L577.25 115.02 L577.50 115.97 L577.75 116.91 L578.00 117.71 L578.25 118.33 L578.50 118.78 L578.75 119.08 L579.00 119.28 L579.25 119.41 L579.50 119.50 L579.75 119.56 L580.00 119.60 L580.25 119.63 L580.50 119.66 L580.75 119.68 L581.00 119.69 L581.25 119.71 L581.50 119.72 L581.75 119.72 L582.00 119.73 L582.25 119.74 L582.50 119.74 L582.75 119.74 L583.00 119.74 L583.25 119.74 L583.50 119.74 L583.75 119.73 L584.00 119.73 L584.25 119.72 L584.50 119.71 L584.75 119.70 L585.00 119.69 L585.25 119.67 L585.50 119.65 L585.75 119.63 L586.00 119.60 L586.25 119.57 L586.50 119.53 L586.75 119.47 L587.00 119.38 L587.25 119.27 L587.50 119.10 L587.75 118.85 L588.00 118.51 L588.25 118.05 L588.50 117.46 L588.75 116.73 L589.00 115.91 L589.25 115.05 L589.50 114.27 L589.75 113.73 L590.00 113.60 L590.25 114.04 L590.50 114.91 L590.75 115.94 L591.00 116.92 L591.25 117.74 L591.50 118.37 L591.75 118.81 L592.00 119.11 L592.25 119.30 L592.50 119.43 L592.75 119.52 L593.00 119.57 L593.25 119.62 L593.50 119.65 L593.75 119.68 L594.00 119.70 L594.25 119.72 L594.50 119.74 L594.75 119.75 L595.00 119.76 L595.25 119.77 L595.50 119.78 L595.75 119.79 L596.00 119.79 L596.25 119.80 L596.50 119.80 L596.75 119.80 L597.00 119.81 L597.25 119.81 L597.50 119.81 L597.75 119.81 L598.00 119.81 L598.25 119.81 L598.50 119.80 L598.75 119.80 L599.00 119.79 L599.25 119.78 L599.50 119.76 L599.75 119.74 L600.00 119.72 L600.25 119.68 L600.50 119.64 L600.75 119.58 L601.00 119.51 L601.25 119.43 L601.50 119.35 L601.75 119.26 L602.00 119.18 L602.25 119.11 L602.50 119.07 L602.75 119.07 L603.00 119.10 L603.25 119.16 L603.50 119.24 L603.75 119.33 L604.00 119.42 L604.25 119.50 L604.50 119.57 L604.75 119.63 L605.00 119.68 L605.25 119.72 L605.50 119.75 L605.75 119.77 L606.00 119.79 L606.25 119.80 L606.50 119.81 L606.75 119.81 L607.00 119.82 L607.25 119.82 L607.50 119.82 L607.75 119.82 L608.00 119.83 L608.25 119.83 L608.50 119.83 L608.75 119.83 L609.00 119.82 L609.25 119.82 L609.50 119.82 L609.75 119.82 L610.00 119.81 L610.25 119.81 L610.50 119.80 L610.75 119.79 L611.00 119.78 L611.25 119.76 L611.50 119.73 L611.75 119.70 L612.00 119.65 L612.25 119.60 L612.50 119.54 L612.75 119.46 L613.00 119.38 L613.25 119.29 L613.50 119.20 L613.75 119.13 L614.00 119.08 L614.25 119.06 L614.50 119.08 L614.75 119.13 L615.00 119.20 L615.25 119.28 L615.50 119.37 L615.75 119.45 L616.00 119.52 L616.25 119.59 L616.50 119.64 L616.75 119.68 L617.00 119.71 L617.25 119.73 L617.50 119.75 L617.75 119.76 L618.00 119.76 L618.25 119.76 L618.50 119.76 L618.75 119.75 L619.00 119.74 L619.25 119.72 L619.50 119.70 L619.75 119.66 L620.00 119.62 L620.25 119.56 L620.50 119.49 L620.75 119.42 L621.00 119.33 L621.25 119.25 L621.50 119.16 L621.75 119.10 L622.00 119.06 L622.25 119.06 L622.50 119.09 L622.75 119.15 L623.00 119.23 L623.25 119.32 L623.50 119.41 L623.75 119.49 L624.00 119.56 L624.25 119.62 L624.50 119.67 L624.75 119.71 L625.00 119.74 L625.25 119.76 L625.50 119.78 L625.75 119.79 L626.00 119.80 L626.25 119.81 L626.50 119.81 L626.75 119.82 L627.00 119.82 L627.25 119.82 L627.50 119.83 L627.75 119.83 L628.00 119.83 L628.25 119.83 L628.50 119.83 L628.75 119.83 L629.00 119.84 L629.25 119.84 L629.50 119.84 L629.75 119.84 L630.00 119.84 L630.25 119.84 L630.50 119.84 L630.75 119.84 L631.00 119.84 L631.25 119.84 L631.50 119.84 L631.75 119.84 L632.00 119.84 L632.25 119.84 L632.50 119.84 L632.75 119.83 L633.00 119.83 L633.25 119.83 L633.50 119.83 L633.75 119.83 L634.00 119.83 L634.25 119.83 L634.50 119.83 L634.75 119.82 L635.00 119.82 L635.25 119.82 L635.50 119.82 L635.75 119.81 L636.00 119.81 L636.25 119.80 L636.50 119.79 L636.75 119.78 L637.00 119.77 L637.25 119.75 L637.50 119.73 L637.75 119.70 L638.00 119.66 L638.25 119.62 L638.50 119.56 L638.75 119.49 L639.00 119.42 L639.25 119.34 L639.50 119.27 L639.75 119.20 L640.00 119.16 L640.25 119.14 L640.50 119.16 L640.75 119.20 L641.00 119.27 L641.25 119.34 L641.50 119.42 L641.75 119.49 L642.00 119.55 L642.25 119.61 L642.50 119.66 L642.75 119.69 L643.00 119.72 L643.25 119.74 L643.50 119.76 L643.75 119.77 L644.00 119.78 L644.25 119.79 L644.50 119.79 L644.75 119.79 L645.00 119.80 L645.25 119.80 L645.50 119.80 L645.75 119.80 L646.00 119.80 L646.25 119.80 L646.50 119.80 L646.75 119.80 L647.00 119.80 L647.25 119.80 L647.50 119.79 L647.75 119.79 L648.00 119.79 L648.25 119.78 L648.50 119.77 L648.75 119.77 L649.00 119.75 L649.25 119.74 L649.50 119.71 L649.75 119.69 L650.00 119.65 L650.25 119.60 L650.50 119.54 L650.75 119.48 L651.00 119.41 L651.25 119.33 L651.50 119.25 L651.75 119.19 L652.00 119.14 L652.25 119.13 L652.50 119.14 L652.75 119.19 L653.00 119.25 L653.25 119.33 L653.50 119.40 L653.75 119.48 L654.00 119.54 L654.25 119.60 L654.50 119.65 L654.75 119.68 L655.00 119.71 L655.25 119.73 L655.50 119.75 L655.75 119.76 L656.00 119.77 L656.25 119.78 L656.50 119.78 L656.75 119.79 L657.00 119.79 L657.25 119.79 L657.50 119.80 L657.75 119.80 L658.00 119.80 L658.25 119.80 L658.50 119.80 L658.75 119.80 L659.00 119.80 L659.25 119.80 L659.50 119.80 L659.75 119.80 L660.00 119.80 L660.25 119.80 L660.50 119.80 L660.75 119.80 L661.00 119.80 L661.25 119.80 L661.50 119.80 L661.75 119.80 L662.00 119.80 L662.25 119.80 L662.50 119.80 L662.75 119.80 L663.00 119.80 L663.25 119.80 L663.50 119.80 L663.75 119.80 L664.00 119.80 L664.25 119.79 L664.50 119.79 L664.75 119.79 L665.00 119.79 L665.25 119.78 L665.50 119.78 L665.75 119.78 L666.00 119.77 L666.25 119.77 L666.50 119.76 L666.75 119.75 L667.00 119.74 L667.25 119.72 L667.50 119.70 L667.75 119.67 L668.00 119.63 L668.25 119.58 L668.50 119.53 L668.75 119.46 L669.00 119.39 L669.25 119.31 L669.50 119.24 L669.75 119.17 L670.00 119.13 L670.25 119.11 L670.50 119.13 L670.75 119.17 L671.00 119.23 L671.25 119.31 L671.50 119.39 L671.75 119.46 L672.00 119.52 L672.25 119.58 L672.50 119.63 L672.75 119.66 L673.00 119.69 L673.25 119.71 L673.50 119.73 L673.75 119.74 L674.00 119.75 L674.25 119.76 L674.50 119.76 L674.75 119.77 L675.00 119.77 L675.25 119.77 L675.50 119.78 L675.75 119.78 L676.00 119.78 L676.25 119.78 L676.50 119.78 L676.75 119.78 L677.00 119.78 L677.25 119.78 L677.50 119.78 L677.75 119.79 L678.00 119.79 L678.25 119.79 L678.50 119.79 L678.75 119.79 L679.00 119.79 L679.25 119.79 L679.50 119.79 L679.75 119.79 L680.00 119.79 L680.25 119.79 L680.50 119.78 L680.75 119.78 L681.00 119.78 L681.25 119.78 L681.50 119.78 L681.75 119.78 L682.00 119.78 L682.25 119.78 L682.50 119.78 L682.75 119.78 L683.00 119.78 L683.25 119.78 L683.50 119.78 L683.75 119.77 L684.00 119.77 L684.25 119.77 L684.50 119.77 L684.75 119.77 L685.00 119.76 L685.25 119.76 L685.50 119.76 L685.75 119.75 L686.00 119.75 L686.25 119.74 L686.50 119.74 L686.75 119.73 L687.00 119.71 L687.25 119.70 L687.50 119.67 L687.75 119.65 L688.00 119.61 L688.25 119.56 L688.50 119.50 L688.75 119.44 L689.00 119.36 L689.25 119.29 L689.50 119.21 L689.75 119.15 L690.00 119.10 L690.25 119.09 L690.50 119.10 L690.75 119.15 L691.00 119.21 L691.25 119.29 L691.50 119.36 L691.75 119.43 L692.00 119.50 L692.25 119.56 L692.50 119.60 L692.75 119.64 L693.00 119.67 L693.25 119.69 L693.50 119.71 L693.75 119.72 L694.00 119.73 L694.25 119.74 L694.50 119.74 L694.75 119.75 L695.00 119.75 L695.25 119.75 L695.50 119.75 L695.75 119.76 L696.00 119.76 L696.25 119.76 L696.50 119.76 L696.75 119.76 L697.00 119.76 L697.25 119.76 L697.50 119.76 L697.75 119.76 L698.00 119.76 L698.25 119.77 L698.50 119.77 L698.75 119.77 L699.00 119.77 L699.25 119.77 L699.50 119.77 L699.75 119.77 L700.00 119.77 L700.25 119.77 L700.50 119.77 L700.75 119.77 L701.00 119.77 L701.25 119.77 L701.50 119.77 L701.75 119.77 L702.00 119.77 L702.25 119.77 L702.50 119.77 L702.75 119.77 L703.00 119.77 L703.25 119.77 L703.50 119.77 L703.75 119.77 L704.00 119.77 L704.25 119.77 L704.50 119.77 L704.75 119.77 L705.00 119.77 L705.25 119.76 L705.50 119.76 L705.75 119.76 L706.00 119.76 L706.25 119.76 L706.50 119.76 L706.75 119.76 L707.00 119.76 L707.25 119.76 L707.50 119.76 L707.75 119.76 L708.00 119.76 L708.25 119.76 L708.50 119.76 L708.75 119.76 L709.00 119.76 L709.25 119.76 L709.50 119.76 L709.75 119.76 L710.00 119.76 L710.25 119.76 L710.50 119.76 L710.75 119.76 L711.00 119.76 L711.25 119.76 L711.50 119.76 L711.75 119.76 L712.00 119.76 L712.25 119.76 L712.50 119.76 L712.75 119.76 L713.00 119.76 L713.25 119.76 L713.50 119.76 L713.75 119.76 L714.00 119.76 L714.25 119.76 L714.50 119.76 L714.75 119.75 L715.00 119.75 L715.25 119.75 L715.50 119.75 L715.75 119.75 L716.00 119.75 L716.25 119.75 L716.50 119.75 L716.75 119.75 L717.00 119.75 L717.25 119.75 L717.50 119.75 L717.75 119.75 L718.00 119.75 L718.25 119.75 L718.50 119.75 L718.75 119.75 L719.00 119.75 L719.25 119.75 L719.50 119.75 L719.75 119.75 L720.00 119.75 L720.25 119.75 L720.50 119.75 L720.75 119.75 L721.00 119.75 L721.25 119.75 L721.50 119.75 L721.75 119.75 L722.00 119.75 L722.25 119.75 L722.50 119.75 L722.75 119.75 L723.00 119.74 L723.25 119.74 L723.50 119.74 L723.75 119.74 L724.00 119.74 L724.25 119.74 L724.50 119.74 L724.75 119.74 L725.00 119.74 L725.25 119.74 L725.50 119.74 L725.75 119.74 L726.00 119.74 L726.25 119.74 L726.50 119.74 L726.75 119.74 L727.00 119.74 L727.25 119.74 L727.50 119.74 L727.75 119.74 L728.00 119.74 L728.25 119.74 L728.50 119.74 L728.75 119.74 L729.00 119.74 L729.25 119.74 L729.50 119.74 L729.75 119.74 L730.00 119.74 L730.25 119.74 L730.50 119.74 L730.75 119.73 L731.00 119.73 L731.25 119.73 L731.50 119.73 L731.75 119.73 L732.00 119.73 L732.25 119.73 L732.50 119.73 L732.75 119.73 L733.00 119.73 L733.25 119.73 L733.50 119.73 L733.75 119.73 L734.00 119.73 L734.25 119.73 L734.50 119.73 L734.75 119.73 L735.00 119.73 L735.25 119.73 L735.50 119.73 L735.75 119.73 L736.00 119.73 L736.25 119.73 L736.50 119.73 L736.75 119.73 L737.00 119.73 L737.25 119.73 L737.50 119.73 L737.75 119.73 L738.00 119.73 L738.25 119.73 L738.50 119.72 L738.75 119.72 L739.00 119.72 L739.25 119.72 L739.50 119.72 L739.75 119.72 L740.00 119.72 L740.25 119.72 L740.50 119.72 L740.75 119.72 L741.00 119.72 L741.25 119.72 L741.50 119.72 L741.75 119.72 L742.00 119.72 L742.25 119.72 L742.50 119.72 L742.75 119.72 L743.00 119.72 L743.25 119.72 L743.50 119.72 L743.75 119.72 L744.00 119.72 L744.25 119.72 L744.50 119.72 L744.75 119.72 L745.00 119.72 L745.25 119.72 L745.50 119.72 L745.75 119.72 L746.00 119.72 L746.25 119.71 L746.50 119.71 L746.75 119.71 L747.00 119.71 L747.25 119.71 L747.50 119.71 L747.75 119.71 L748.00 119.71 L748.25 119.71 L748.50 119.71 L748.75 119.71 L749.00 119.71 L749.25 119.71 L749.50 119.71 L749.75 119.71 L750.00 119.71 L750.25 119.71 L750.50 119.71 L750.75 119.71 L751.00 119.71 L751.25 119.71 L751.50 119.71 L751.75 119.71 L752.00 119.71 L752.25 119.71 L752.50 119.71 L752.75 119.71 L753.00 119.71 L753.25 119.71 L753.50 119.71 L753.75 119.70 L754.00 119.70 L754.25 119.70 L754.50 119.70 L754.75 119.70 L755.00 119.70 L755.25 119.70 L755.50 119.70 L755.75 119.70 L756.00 119.70 L756.25 119.70 L756.50 119.70 L756.75 119.70 L757.00 119.70 L757.25 119.70 L757.50 119.70 L757.75 119.70 L758.00 119.70 L758.25 119.70" stroke="#4430f2" stroke-width="1.50" fill="none" stroke-linejoin="round"/>
<path d="M460.00 157.69 L460.25 157.68 L460.50 157.66 L460.75 157.65 L461.00 157.63 L461.25 157.62 L461.50 157.60 L461.75 157.59 L462.00 157.57 L462.25 157.55 L462.50 157.53 L462.75 157.51 L463.00 157.49 L463.25 157.47 L463.50 157.45 L463.75 157.42 L464.00 157.40 L464.25 157.37 L464.50 157.35 L464.75 157.32 L465.00 157.29 L465.25 157.26 L465.50 157.23 L465.75 157.19 L466.00 157.16 L466.25 157.12 L466.50 157.08 L466.75 157.04 L467.00 156.99 L467.25 156.94 L467.50 156.90 L467.75 156.84 L468.00 156.79 L468.25 156.73 L468.50 156.67 L468.75 156.60 L469.00 156.53 L469.25 156.45 L469.50 156.37 L469.75 156.29 L470.00 156.20 L470.25 156.10 L470.50 156.00 L470.75 155.89 L471.00 155.77 L471.25 155.64 L471.50 155.50 L471.75 155.35 L472.00 155.20 L472.25 155.02 L472.50 154.84 L472.75 154.64 L473.00 154.43 L473.25 154.19 L473.50 153.94 L473.75 153.67 L474.00 153.38 L474.25 153.06 L474.50 152.72 L474.75 152.35 L475.00 151.95 L475.25 151.52 L475.50 151.05 L475.75 150.55 L476.00 150.02 L476.25 149.43 L476.50 148.79 L476.75 148.05 L477.00 147.14 L477.25 145.89 L477.50 144.03 L477.75 141.24 L478.00 137.32 L478.25 132.47 L478.50 127.69 L478.75 125.01 L479.00 127.31 L479.25 134.64 L479.50 142.51 L479.75 148.59 L480.00 152.44 L480.25 154.59 L480.50 155.71 L480.75 156.33 L481.00 156.70 L481.25 156.96 L481.50 157.15 L481.75 157.30 L482.00 157.41 L482.25 157.50 L482.50 157.57 L482.75 157.63 L483.00 157.68 L483.25 157.72 L483.50 157.75 L483.75 157.78 L484.00 157.80 L484.25 157.82 L484.50 157.84 L484.75 157.85 L485.00 157.86 L485.25 157.87 L485.50 157.88 L485.75 157.88 L486.00 157.88 L486.25 157.89 L486.50 157.88 L486.75 157.88 L487.00 157.88 L487.25 157.87 L487.50 157.86 L487.75 157.85 L488.00 157.84 L488.25 157.83 L488.50 157.81 L488.75 157.79 L489.00 157.76 L489.25 157.72 L489.50 157.68 L489.75 157.61 L490.00 157.53 L490.25 157.40 L490.50 157.23 L490.75 156.98 L491.00 156.63 L491.25 156.17 L491.50 155.59 L491.75 154.90 L492.00 154.14 L492.25 153.38 L492.50 152.75 L492.75 152.40 L493.00 152.47 L493.25 153.03 L493.50 153.89 L493.75 154.79 L494.00 155.60 L494.25 156.25 L494.50 156.73 L494.75 157.06 L495.00 157.27 L495.25 157.40 L495.50 157.48 L495.75 157.53 L496.00 157.55 L496.25 157.57 L496.50 157.57 L496.75 157.57 L497.00 157.56 L497.25 157.54 L497.50 157.52 L497.75 157.48 L498.00 157.45 L498.25 157.40 L498.50 157.34 L498.75 157.27 L499.00 157.19 L499.25 157.09 L499.50 156.98 L499.75 156.83 L500.00 156.64 L500.25 156.38 L500.50 156.02 L500.75 155.50 L501.00 154.72 L501.25 153.56 L501.50 151.91 L501.75 149.62 L502.00 146.66 L502.25 143.06 L502.50 139.07 L502.75 135.18 L503.00 132.20 L503.25 131.06 L503.50 133.14 L503.75 138.05 L504.00 143.53 L504.25 148.21 L504.50 151.64 L504.75 153.88 L505.00 155.22 L505.25 156.00 L505.50 156.46 L505.75 156.76 L506.00 156.96 L506.25 157.12 L506.50 157.23 L506.75 157.33 L507.00 157.40 L507.25 157.45 L507.50 157.50 L507.75 157.53 L508.00 157.55 L508.25 157.56 L508.50 157.56 L508.75 157.55 L509.00 157.52 L509.25 157.47 L509.50 157.39 L509.75 157.26 L510.00 157.07 L510.25 156.80 L510.50 156.43 L510.75 155.96 L511.00 155.38 L511.25 154.74 L511.50 154.08 L511.75 153.50 L512.00 153.15 L512.25 153.13 L512.50 153.56 L512.75 154.28 L513.00 155.09 L513.25 155.83 L513.50 156.44 L513.75 156.89 L514.00 157.21 L514.25 157.43 L514.50 157.57 L514.75 157.65 L515.00 157.71 L515.25 157.75 L515.50 157.78 L515.75 157.80 L516.00 157.81 L516.25 157.81 L516.50 157.81 L516.75 157.81 L517.00 157.80 L517.25 157.78 L517.50 157.74 L517.75 157.68 L518.00 157.59 L518.25 157.47 L518.50 157.29 L518.75 157.05 L519.00 156.75 L519.25 156.38 L519.50 155.98 L519.75 155.58 L520.00 155.25 L520.25 155.07 L520.50 155.11 L520.75 155.42 L521.00 155.88 L521.25 156.37 L521.50 156.81 L521.75 157.17 L522.00 157.43 L522.25 157.62 L522.50 157.74 L522.75 157.82 L523.00 157.87 L523.25 157.90 L523.50 157.93 L523.75 157.95 L524.00 157.96 L524.25 157.98 L524.50 157.99 L524.75 158.00 L525.00 158.00 L525.25 158.01 L525.50 158.02 L525.75 158.02 L526.00 158.02 L526.25 158.03 L526.50 158.03 L526.75 158.03 L527.00 158.03 L527.25 158.04 L527.50 158.04 L527.75 158.04 L528.00 158.04 L528.25 158.04 L528.50 158.04 L528.75 158.04 L529.00 158.04 L529.25 158.04 L529.50 158.04 L529.75 158.03 L530.00 158.03 L530.25 158.03 L530.50 158.03 L530.75 158.02 L531.00 158.02 L531.25 158.01 L531.50 158.00 L531.75 158.00 L532.00 157.98 L532.25 157.97 L532.50 157.95 L532.75 157.92 L533.00 157.87 L533.25 157.81 L533.50 157.73 L533.75 157.63 L534.00 157.51 L534.25 157.37 L534.50 157.23 L534.75 157.11 L535.00 157.03 L535.25 157.02 L535.50 157.08 L535.75 157.18 L536.00 157.31 L536.25 157.43 L536.50 157.54 L536.75 157.63 L537.00 157.69 L537.25 157.73 L537.50 157.74 L537.75 157.73 L538.00 157.68 L538.25 157.59 L538.50 157.46 L538.75 157.27 L539.00 157.03 L539.25 156.75 L539.50 156.45 L539.75 156.18 L540.00 156.01 L540.25 155.98 L540.50 156.12 L540.75 156.37 L541.00 156.66 L541.25 156.94 L541.50 157.18 L541.75 157.36 L542.00 157.49 L542.25 157.58 L542.50 157.62 L542.75 157.64 L543.00 157.62 L543.25 157.58 L543.50 157.50 L543.75 157.36 L544.00 157.16 L544.25 156.88 L544.50 156.49 L544.75 156.00 L545.00 155.44 L545.25 154.86 L545.50 154.36 L545.75 154.07 L546.00 154.11 L546.25 154.50 L546.50 155.09 L546.75 155.72 L547.00 156.27 L547.25 156.71 L547.50 157.03 L547.75 157.24 L548.00 157.37 L548.25 157.42 L548.50 157.43 L548.75 157.39 L549.00 157.30 L549.25 157.14 L549.50 156.89 L549.75 156.52 L550.00 156.00 L550.25 155.34 L550.50 154.54 L550.75 153.67 L551.00 152.85 L551.25 152.27 L551.50 152.13 L551.75 152.54 L552.00 153.36 L552.25 154.33 L552.50 155.25 L552.75 156.02 L553.00 156.61 L553.25 157.03 L553.50 157.31 L553.75 157.49 L554.00 157.61 L554.25 157.69 L554.50 157.75 L554.75 157.79 L555.00 157.83 L555.25 157.85 L555.50 157.87 L555.75 157.89 L556.00 157.91 L556.25 157.92 L556.50 157.93 L556.75 157.94 L557.00 157.95 L557.25 157.95 L557.50 157.96 L557.75 157.97 L558.00 157.97 L558.25 157.97 L558.50 157.97 L558.75 157.98 L559.00 157.98 L559.25 157.98 L559.50 157.98 L559.75 157.98 L560.00 157.97 L560.25 157.97 L560.50 157.97 L560.75 157.97 L561.00 157.96 L561.25 157.95 L561.50 157.95 L561.75 157.94 L562.00 157.93 L562.25 157.91 L562.50 157.90 L562.75 157.88 L563.00 157.85 L563.25 157.81 L563.50 157.75 L563.75 157.66 L564.00 157.54 L564.25 157.37 L564.50 157.15 L564.75 156.86 L565.00 156.52 L565.25 156.13 L565.50 155.74 L565.75 155.39 L566.00 155.18 L566.25 155.16 L566.50 155.41 L566.75 155.84 L567.00 156.31 L567.25 156.75 L567.50 157.11 L567.75 157.38 L568.00 157.56 L568.25 157.69 L568.50 157.77 L568.75 157.82 L569.00 157.85 L569.25 157.87 L569.50 157.89 L569.75 157.90 L570.00 157.91 L570.25 157.91 L570.50 157.91 L570.75 157.91 L571.00 157.91 L571.25 157.90 L571.50 157.89 L571.75 157.88 L572.00 157.86 L572.25 157.84 L572.50 157.80 L572.75 157.75 L573.00 157.67 L573.25 157.56 L573.50 157.41 L573.75 157.19 L574.00 156.92 L574.25 156.59 L574.50 156.21 L574.75 155.81 L575.00 155.46 L575.25 155.21 L575.50 155.15 L575.75 155.35 L576.00 155.76 L576.25 156.23 L576.50 156.68 L576.75 157.06 L577.00 157.34 L577.25 157.55 L577.50 157.69 L577.75 157.78 L578.00 157.83 L578.25 157.87 L578.50 157.90 L578.75 157.92 L579.00 157.93 L579.25 157.95 L579.50 157.96 L579.75 157.96 L580.00 157.97 L580.25 157.97 L580.50 157.98 L580.75 157.98 L581.00 157.98 L581.25 157.99 L581.50 157.99 L581.75 157.99 L582.00 157.99 L582.25 157.98 L582.50 157.98 L582.75 157.98 L583.00 157.98 L583.25 157.97 L583.50 157.96 L583.75 157.96 L584.00 157.95 L584.25 157.93 L584.50 157.92 L584.75 157.89 L585.00 157.86 L585.25 157.81 L585.50 157.74 L585.75 157.64 L586.00 157.50 L586.25 157.32 L586.50 157.10 L586.75 156.84 L587.00 156.57 L587.25 156.31 L587.50 156.12 L587.75 156.05 L588.00 156.15 L588.25 156.41 L588.50 156.73 L588.75 157.05 L589.00 157.32 L589.25 157.53 L589.50 157.68 L589.75 157.79 L590.00 157.86 L590.25 157.90 L590.50 157.93 L590.75 157.95 L591.00 157.96 L591.25 157.97 L591.50 157.98 L591.75 157.99 L592.00 158.00 L592.25 158.00 L592.50 158.01 L592.75 158.01 L593.00 158.01 L593.25 158.02 L593.50 158.02 L593.75 158.02 L594.00 158.02 L594.25 158.03 L594.50 158.03 L594.75 158.03 L595.00 158.03 L595.25 158.03 L595.50 158.03 L595.75 158.03 L596.00 158.03 L596.25 158.03 L596.50 158.03 L596.75 158.03 L597.00 158.04 L597.25 158.04 L597.50 158.04 L597.75 158.04 L598.00 158.04 L598.25 158.04 L598.50 158.04 L598.75 158.04 L599.00 158.04 L599.25 158.04 L599.50 158.04 L599.75 158.04 L600.00 158.04 L600.25 158.04 L600.50 158.04 L600.75 158.04 L601.00 158.04 L601.25 158.04 L601.50 158.04 L601.75 158.04 L602.00 158.03 L602.25 158.03 L602.50 158.03 L602.75 158.03 L603.00 158.03 L603.25 158.03 L603.50 158.03 L603.75 158.03 L604.00 158.03 L604.25 158.03 L604.50 158.03 L604.75 158.03 L605.00 158.03 L605.25 158.03 L605.50 158.03 L605.75 158.03 L606.00 158.03 L606.25 158.02 L606.50 158.02 L606.75 158.02 L607.00 158.02 L607.25 158.02 L607.50 158.02 L607.75 158.01 L608.00 158.01 L608.25 158.01 L608.50 158.01 L608.75 158.00 L609.00 158.00 L609.25 158.00 L609.50 157.99 L609.75 157.99 L610.00 157.98 L610.25 157.97 L610.50 157.96 L610.75 157.94 L611.00 157.91 L611.25 157.88 L611.50 157.85 L611.75 157.80 L612.00 157.74 L612.25 157.68 L612.50 157.60 L612.75 157.52 L613.00 157.45 L613.25 157.38 L613.50 157.34 L613.75 157.32 L614.00 157.33 L614.25 157.38 L614.50 157.44 L614.75 157.51 L615.00 157.58 L615.25 157.66 L615.50 157.72 L615.75 157.77 L616.00 157.81 L616.25 157.84 L616.50 157.87 L616.75 157.88 L617.00 157.88 L617.25 157.88 L617.50 157.86 L617.75 157.84 L618.00 157.81 L618.25 157.77 L618.50 157.71 L618.75 157.65 L619.00 157.58 L619.25 157.51 L619.50 157.43 L619.75 157.37 L620.00 157.33 L620.25 157.31 L620.50 157.33 L620.75 157.37 L621.00 157.44 L621.25 157.51 L621.50 157.59 L621.75 157.66 L622.00 157.73 L622.25 157.79 L622.50 157.83 L622.75 157.87 L623.00 157.90 L623.25 157.92 L623.50 157.94 L623.75 157.95 L624.00 157.96 L624.25 157.97 L624.50 157.97 L624.75 157.98 L625.00 157.98 L625.25 157.98 L625.50 157.99 L625.75 157.99 L626.00 157.99 L626.25 157.99 L626.50 157.99 L626.75 157.99 L627.00 157.99 L627.25 157.99 L627.50 157.99 L627.75 157.99 L628.00 157.99 L628.25 157.99 L628.50 157.99 L628.75 157.99 L629.00 157.99 L629.25 157.99 L629.50 157.99 L629.75 157.99 L630.00 157.99 L630.25 157.99 L630.50 157.98 L630.75 157.98 L631.00 157.98 L631.25 157.98 L631.50 157.97 L631.75 157.97 L632.00 157.96 L632.25 157.96 L632.50 157.95 L632.75 157.94 L633.00 157.92 L633.25 157.90 L633.50 157.88 L633.75 157.84 L634.00 157.80 L634.25 157.75 L634.50 157.68 L634.75 157.61 L635.00 157.52 L635.25 157.44 L635.50 157.35 L635.75 157.28 L636.00 157.22 L636.25 157.21 L636.50 157.22 L636.75 157.27 L637.00 157.35 L637.25 157.43 L637.50 157.52 L637.75 157.60 L638.00 157.68 L638.25 157.74 L638.50 157.79 L638.75 157.84 L639.00 157.87 L639.25 157.89 L639.50 157.91 L639.75 157.93 L640.00 157.94 L640.25 157.94 L640.50 157.95 L640.75 157.95 L641.00 157.95 L641.25 157.96 L641.50 157.96 L641.75 157.96 L642.00 157.96 L642.25 157.96 L642.50 157.96 L642.75 157.96 L643.00 157.96 L643.25 157.95 L643.50 157.95 L643.75 157.95 L644.00 157.94 L644.25 157.94 L644.50 157.93 L644.75 157.92 L645.00 157.91 L645.25 157.89 L645.50 157.86 L645.75 157.83 L646.00 157.78 L646.25 157.73 L646.50 157.67 L646.75 157.59 L647.00 157.51 L647.25 157.42 L647.50 157.34 L647.75 157.26 L648.00 157.21 L648.25 157.19 L648.50 157.21 L648.75 157.26 L649.00 157.33 L649.25 157.42 L649.50 157.51 L649.75 157.59 L650.00 157.66 L650.25 157.73 L650.50 157.78 L650.75 157.82 L651.00 157.86 L651.25 157.88 L651.50 157.90 L651.75 157.91 L652.00 157.92 L652.25 157.93 L652.50 157.93 L652.75 157.94 L653.00 157.94 L653.25 157.94 L653.50 157.94 L653.75 157.95 L654.00 157.95 L654.25 157.95 L654.50 157.95 L654.75 157.95 L655.00 157.94 L655.25 157.94 L655.50 157.94 L655.75 157.94 L656.00 157.93 L656.25 157.93 L656.50 157.92 L656.75 157.91 L657.00 157.90 L657.25 157.88 L657.50 157.86 L657.75 157.83 L658.00 157.79 L658.25 157.74 L658.50 157.69 L658.75 157.62 L659.00 157.55 L659.25 157.47 L659.50 157.39 L659.75 157.33 L660.00 157.28 L660.25 157.26 L660.50 157.28 L660.75 157.32 L661.00 157.38 L661.25 157.45 L661.50 157.53 L661.75 157.60 L662.00 157.66 L662.25 157.71 L662.50 157.75 L662.75 157.77 L663.00 157.79 L663.25 157.79 L663.50 157.79 L663.75 157.77 L664.00 157.74 L664.25 157.70 L664.50 157.65 L664.75 157.59 L665.00 157.52 L665.25 157.44 L665.50 157.37 L665.75 157.31 L666.00 157.26 L666.25 157.25 L666.50 157.26 L666.75 157.31 L667.00 157.37 L667.25 157.44 L667.50 157.52 L667.75 157.59 L668.00 157.65 L668.25 157.70 L668.50 157.74 L668.75 157.77 L669.00 157.79 L669.25 157.80 L669.50 157.80 L669.75 157.79 L670.00 157.76 L670.25 157.73 L670.50 157.69 L670.75 157.64 L671.00 157.58 L671.25 157.52 L671.50 157.45 L671.75 157.40 L672.00 157.36 L672.25 157.35 L672.50 157.37 L672.75 157.41 L673.00 157.46 L673.25 157.53 L673.50 157.59 L673.75 157.66 L674.00 157.71 L674.25 157.76 L674.50 157.80 L674.75 157.84 L675.00 157.86 L675.25 157.88 L675.50 157.89 L675.75 157.91 L676.00 157.91 L676.25 157.92 L676.50 157.92 L676.75 157.93 L677.00 157.93 L677.25 157.93 L677.50 157.93 L677.75 157.93 L678.00 157.93 L678.25 157.93 L678.50 157.93 L678.75 157.93 L679.00 157.93 L679.25 157.93 L679.50 157.93 L679.75 157.93 L680.00 157.92 L680.25 157.92 L680.50 157.91 L680.75 157.91 L681.00 157.90 L681.25 157.88 L681.50 157.86 L681.75 157.84 L682.00 157.81 L682.25 157.77 L682.50 157.72 L682.75 157.66 L683.00 157.60 L683.25 157.53 L683.50 157.47 L683.75 157.42 L684.00 157.38 L684.25 157.36 L684.50 157.38 L684.75 157.42 L685.00 157.47 L685.25 157.54 L685.50 157.60 L685.75 157.66 L686.00 157.72 L686.25 157.77 L686.50 157.81 L686.75 157.84 L687.00 157.87 L687.25 157.88 L687.50 157.90 L687.75 157.91 L688.00 157.92 L688.25 157.92 L688.50 157.93 L688.75 157.93 L689.00 157.93 L689.25 157.94 L689.50 157.94 L689.75 157.94 L690.00 157.94 L690.25 157.94 L690.50 157.95 L690.75 157.95 L691.00 157.95 L691.25 157.95 L691.50 157.95 L691.75 157.95 L692.00 157.95 L692.25 157.95 L692.50 157.95 L692.75 157.95 L693.00 157.95 L693.25 157.95 L693.50 157.95 L693.75 157.95 L694.00 157.95 L694.25 157.95 L694.50 157.95 L694.75 157.95 L695.00 157.95 L695.25 157.95 L695.50 157.95 L695.75 157.95 L696.00 157.95 L696.25 157.95 L696.50 157.95 L696.75 157.95 L697.00 157.95 L697.25 157.95 L697.50 157.95 L697.75 157.95 L698.00 157.95 L698.25 157.95 L698.50 157.95 L698.75 157.95 L699.00 157.95 L699.25 157.95 L699.50 157.95 L699.75 157.95 L700.00 157.95 L700.25 157.95 L700.50 157.95 L700.75 157.95 L701.00 157.95 L701.25 157.95 L701.50 157.95 L701.75 157.95 L702.00 157.95 L702.25 157.95 L702.50 157.95 L702.75 157.95 L703.00 157.95 L703.25 157.95 L703.50 157.95 L703.75 157.95 L704.00 157.95 L704.25 157.95 L704.50 157.95 L704.75 157.95 L705.00 157.95 L705.25 157.95 L705.50 157.95 L705.75 157.95 L706.00 157.95 L706.25 157.95 L706.50 157.95 L706.75 157.95 L707.00 157.95 L707.25 157.95 L707.50 157.95 L707.75 157.95 L708.00 157.95 L708.25 157.95 L708.50 157.95 L708.75 157.95 L709.00 157.95 L709.25 157.95 L709.50 157.95 L709.75 157.95 L710.00 157.94 L710.25 157.94 L710.50 157.94 L710.75 157.94 L711.00 157.94 L711.25 157.94 L711.50 157.94 L711.75 157.94 L712.00 157.94 L712.25 157.94 L712.50 157.94 L712.75 157.94 L713.00 157.94 L713.25 157.94 L713.50 157.94 L713.75 157.94 L714.00 157.94 L714.25 157.94 L714.50 157.94 L714.75 157.94 L715.00 157.94 L715.25 157.94 L715.50 157.94 L715.75 157.94 L716.00 157.94 L716.25 157.94 L716.50 157.94 L716.75 157.94 L717.00 157.94 L717.25 157.94 L717.50 157.94 L717.75 157.94 L718.00 157.94 L718.25 157.94 L718.50 157.94 L718.75 157.94 L719.00 157.94 L719.25 157.94 L719.50 157.94 L719.75 157.94 L720.00 157.94 L720.25 157.94 L720.50 157.94 L720.75 157.94 L721.00 157.94 L721.25 157.93 L721.50 157.93 L721.75 157.93 L722.00 157.93 L722.25 157.93 L722.50 157.93 L722.75 157.93 L723.00 157.93 L723.25 157.93 L723.50 157.93 L723.75 157.93 L724.00 157.93 L724.25 157.93 L724.50 157.93 L724.75 157.93 L725.00 157.93 L725.25 157.93 L725.50 157.93 L725.75 157.93 L726.00 157.93 L726.25 157.93 L726.50 157.93 L726.75 157.93 L727.00 157.93 L727.25 157.93 L727.50 157.93 L727.75 157.93 L728.00 157.93 L728.25 157.93 L728.50 157.93 L728.75 157.93 L729.00 157.93 L729.25 157.93 L729.50 157.93 L729.75 157.93 L730.00 157.93 L730.25 157.93 L730.50 157.93 L730.75 157.93 L731.00 157.93 L731.25 157.93 L731.50 157.93 L731.75 157.92 L732.00 157.92 L732.25 157.92 L732.50 157.92 L732.75 157.92 L733.00 157.92 L733.25 157.92 L733.50 157.92 L733.75 157.92 L734.00 157.92 L734.25 157.92 L734.50 157.92 L734.75 157.92 L735.00 157.92 L735.25 157.92 L735.50 157.92 L735.75 157.92 L736.00 157.92 L736.25 157.92 L736.50 157.92 L736.75 157.92 L737.00 157.92 L737.25 157.92 L737.50 157.92 L737.75 157.92 L738.00 157.92 L738.25 157.92 L738.50 157.92 L738.75 157.92 L739.00 157.92 L739.25 157.92 L739.50 157.92 L739.75 157.92 L740.00 157.92 L740.25 157.92 L740.50 157.92 L740.75 157.92 L741.00 157.92 L741.25 157.92 L741.50 157.92 L741.75 157.92 L742.00 157.91 L742.25 157.91 L742.50 157.91 L742.75 157.91 L743.00 157.91 L743.25 157.91 L743.50 157.91 L743.75 157.91 L744.00 157.91 L744.25 157.91 L744.50 157.91 L744.75 157.91 L745.00 157.91 L745.25 157.91 L745.50 157.91 L745.75 157.91 L746.00 157.91 L746.25 157.91 L746.50 157.91 L746.75 157.91 L747.00 157.91 L747.25 157.91 L747.50 157.91 L747.75 157.91 L748.00 157.91 L748.25 157.91 L748.50 157.91 L748.75 157.91 L749.00 157.91 L749.25 157.91 L749.50 157.91 L749.75 157.91 L750.00 157.91 L750.25 157.91 L750.50 157.91 L750.75 157.91 L751.00 157.91 L751.25 157.91 L751.50 157.91 L751.75 157.91 L752.00 157.91 L752.25 157.90 L752.50 157.90 L752.75 157.90 L753.00 157.90 L753.25 157.90 L753.50 157.90 L753.75 157.90 L754.00 157.90 L754.25 157.90 L754.50 157.90 L754.75 157.90 L755.00 157.90 L755.25 157.90 L755.50 157.90 L755.75 157.90 L756.00 157.90 L756.25 157.90 L756.50 157.90 L756.75 157.90 L757.00 157.90 L757.25 157.90 L757.50 157.90 L757.75 157.90 L758.00 157.90 L758.25 157.90" stroke="#ff5818" stroke-width="1.50" fill="none" stroke-linejoin="round"/>
<path d="M460.00 205.77 L460.25 205.76 L460.50 205.76 L460.75 205.76 L461.00 205.76 L461.25 205.76 L461.50 205.76 L461.75 205.76 L462.00 205.76 L462.25 205.76 L462.50 205.76 L462.75 205.76 L463.00 205.76 L463.25 205.75 L463.50 205.75 L463.75 205.75 L464.00 205.75 L464.25 205.75 L464.50 205.75 L464.75 205.75 L465.00 205.74 L465.25 205.74 L465.50 205.74 L465.75 205.74 L466.00 205.73 L466.25 205.73 L466.50 205.73 L466.75 205.72 L467.00 205.72 L467.25 205.72 L467.50 205.71 L467.75 205.71 L468.00 205.70 L468.25 205.69 L468.50 205.69 L468.75 205.68 L469.00 205.67 L469.25 205.67 L469.50 205.66 L469.75 205.65 L470.00 205.63 L470.25 205.62 L470.50 205.61 L470.75 205.59 L471.00 205.57 L471.25 205.55 L471.50 205.53 L471.75 205.50 L472.00 205.47 L472.25 205.44 L472.50 205.40 L472.75 205.35 L473.00 205.29 L473.25 205.23 L473.50 205.14 L473.75 205.04 L474.00 204.92 L474.25 204.76 L474.50 204.56 L474.75 204.30 L475.00 203.94 L475.25 203.40 L475.50 202.48 L475.75 200.74 L476.00 197.38 L476.25 191.45 L476.50 182.52 L476.75 171.88 L477.00 164.06 L477.25 165.38 L477.50 175.42 L477.75 186.58 L478.00 194.79 L478.25 199.59 L478.50 202.03 L478.75 203.22 L479.00 203.87 L479.25 204.28 L479.50 204.57 L479.75 204.78 L480.00 204.95 L480.25 205.07 L480.50 205.18 L480.75 205.26 L481.00 205.33 L481.25 205.38 L481.50 205.43 L481.75 205.47 L482.00 205.50 L482.25 205.53 L482.50 205.56 L482.75 205.58 L483.00 205.60 L483.25 205.61 L483.50 205.63 L483.75 205.64 L484.00 205.65 L484.25 205.66 L484.50 205.67 L484.75 205.68 L485.00 205.68 L485.25 205.69 L485.50 205.69 L485.75 205.70 L486.00 205.70 L486.25 205.70 L486.50 205.70 L486.75 205.70 L487.00 205.70 L487.25 205.69 L487.50 205.69 L487.75 205.68 L488.00 205.67 L488.25 205.65 L488.50 205.63 L488.75 205.60 L489.00 205.56 L489.25 205.50 L489.50 205.39 L489.75 205.18 L490.00 204.77 L490.25 204.06 L490.50 203.04 L490.75 201.90 L491.00 201.21 L491.25 201.58 L491.50 202.75 L491.75 203.91 L492.00 204.72 L492.25 205.18 L492.50 205.41 L492.75 205.52 L493.00 205.58 L493.25 205.62 L493.50 205.65 L493.75 205.67 L494.00 205.68 L494.25 205.69 L494.50 205.70 L494.75 205.70 L495.00 205.71 L495.25 205.71 L495.50 205.71 L495.75 205.71 L496.00 205.70 L496.25 205.70 L496.50 205.69 L496.75 205.68 L497.00 205.67 L497.25 205.65 L497.50 205.64 L497.75 205.62 L498.00 205.59 L498.25 205.56 L498.50 205.52 L498.75 205.47 L499.00 205.41 L499.25 205.33 L499.50 205.22 L499.75 205.07 L500.00 204.86 L500.25 204.48 L500.50 203.77 L500.75 202.40 L501.00 199.98 L501.25 196.33 L501.50 191.99 L501.75 188.79 L502.00 189.33 L502.25 193.43 L502.50 197.99 L502.75 201.35 L503.00 203.31 L503.25 204.30 L503.50 204.79 L503.75 205.06 L504.00 205.22 L504.25 205.34 L504.50 205.43 L504.75 205.50 L505.00 205.55 L505.25 205.59 L505.50 205.62 L505.75 205.65 L506.00 205.67 L506.25 205.69 L506.50 205.71 L506.75 205.72 L507.00 205.73 L507.25 205.74 L507.50 205.74 L507.75 205.75 L508.00 205.75 L508.25 205.75 L508.50 205.75 L508.75 205.74 L509.00 205.72 L509.25 205.68 L509.50 205.62 L509.75 205.53 L510.00 205.41 L510.25 205.25 L510.50 205.09 L510.75 204.97 L511.00 204.94 L511.25 205.02 L511.50 205.17 L511.75 205.33 L512.00 205.48 L512.25 205.59 L512.50 205.68 L512.75 205.73 L513.00 205.76 L513.25 205.79 L513.50 205.80 L513.75 205.81 L514.00 205.81 L514.25 205.82 L514.50 205.82 L514.75 205.82 L515.00 205.83 L515.25 205.83 L515.50 205.83 L515.75 205.82 L516.00 205.82 L516.25 205.81 L516.50 205.80 L516.75 205.79 L517.00 205.76 L517.25 205.71 L517.50 205.64 L517.75 205.53 L518.00 205.39 L518.25 205.23 L518.50 205.08 L518.75 204.98 L519.00 205.00 L519.25 205.11 L519.50 205.27 L519.75 205.43 L520.00 205.56 L520.25 205.66 L520.50 205.73 L520.75 205.77 L521.00 205.80 L521.25 205.82 L521.50 205.83 L521.75 205.83 L522.00 205.84 L522.25 205.84 L522.50 205.84 L522.75 205.84 L523.00 205.84 L523.25 205.83 L523.50 205.82 L523.75 205.81 L524.00 205.79 L524.25 205.75 L524.50 205.69 L524.75 205.59 L525.00 205.47 L525.25 205.31 L525.50 205.15 L525.75 205.03 L526.00 204.99 L526.25 205.07 L526.50 205.22 L526.75 205.38 L527.00 205.53 L527.25 205.64 L527.50 205.72 L527.75 205.77 L528.00 205.81 L528.25 205.83 L528.50 205.84 L528.75 205.85 L529.00 205.85 L529.25 205.85 L529.50 205.85 L529.75 205.85 L530.00 205.85 L530.25 205.85 L530.50 205.84 L530.75 205.83 L531.00 205.81 L531.25 205.78 L531.50 205.73 L531.75 205.65 L532.00 205.54 L532.25 205.39 L532.50 205.23 L532.75 205.08 L533.00 205.01 L533.25 205.04 L533.50 205.17 L533.75 205.33 L534.00 205.48 L534.25 205.61 L534.50 205.70 L534.75 205.76 L535.00 205.80 L535.25 205.83 L535.50 205.84 L535.75 205.85 L536.00 205.85 L536.25 205.85 L536.50 205.85 L536.75 205.84 L537.00 205.83 L537.25 205.81 L537.50 205.78 L537.75 205.72 L538.00 205.63 L538.25 205.51 L538.50 205.36 L538.75 205.20 L539.00 205.06 L539.25 205.01 L539.50 205.06 L539.75 205.20 L540.00 205.36 L540.25 205.51 L540.50 205.63 L540.75 205.71 L541.00 205.77 L541.25 205.80 L541.50 205.82 L541.75 205.82 L542.00 205.82 L542.25 205.81 L542.50 205.78 L542.75 205.74 L543.00 205.66 L543.25 205.55 L543.50 205.40 L543.75 205.21 L544.00 205.01 L544.25 204.86 L544.50 204.82 L544.75 204.92 L545.00 205.10 L545.25 205.30 L545.50 205.47 L545.75 205.61 L546.00 205.71 L546.25 205.77 L546.50 205.81 L546.75 205.83 L547.00 205.85 L547.25 205.85 L547.50 205.85 L547.75 205.85 L548.00 205.84 L548.25 205.81 L548.50 205.77 L548.75 205.71 L549.00 205.61 L549.25 205.48 L549.50 205.32 L549.75 205.16 L550.00 205.06 L550.25 205.05 L550.50 205.14 L550.75 205.30 L551.00 205.46 L551.25 205.60 L551.50 205.71 L551.75 205.78 L552.00 205.83 L552.25 205.86 L552.50 205.88 L552.75 205.89 L553.00 205.90 L553.25 205.90 L553.50 205.91 L553.75 205.91 L554.00 205.91 L554.25 205.91 L554.50 205.91 L554.75 205.91 L555.00 205.91 L555.25 205.90 L555.50 205.90 L555.75 205.88 L556.00 205.87 L556.25 205.83 L556.50 205.78 L556.75 205.70 L557.00 205.59 L557.25 205.44 L557.50 205.28 L557.75 205.13 L558.00 205.06 L558.25 205.09 L558.50 205.22 L558.75 205.38 L559.00 205.54 L559.25 205.66 L559.50 205.76 L559.75 205.82 L560.00 205.86 L560.25 205.88 L560.50 205.90 L560.75 205.91 L561.00 205.91 L561.25 205.91 L561.50 205.92 L561.75 205.91 L562.00 205.91 L562.25 205.91 L562.50 205.90 L562.75 205.89 L563.00 205.87 L563.25 205.84 L563.50 205.79 L563.75 205.71 L564.00 205.58 L564.25 205.42 L564.50 205.23 L564.75 205.03 L565.00 204.90 L565.25 204.89 L565.50 205.00 L565.75 205.19 L566.00 205.39 L566.25 205.56 L566.50 205.69 L566.75 205.78 L567.00 205.84 L567.25 205.88 L567.50 205.90 L567.75 205.92 L568.00 205.93 L568.25 205.94 L568.50 205.94 L568.75 205.95 L569.00 205.95 L569.25 205.95 L569.50 205.95 L569.75 205.95 L570.00 205.95 L570.25 205.95 L570.50 205.95 L570.75 205.95 L571.00 205.95 L571.25 205.95 L571.50 205.94 L571.75 205.93 L572.00 205.92 L572.25 205.90 L572.50 205.87 L572.75 205.83 L573.00 205.75 L573.25 205.64 L573.50 205.48 L573.75 205.29 L574.00 205.09 L574.25 204.94 L574.50 204.90 L574.75 204.99 L575.00 205.17 L575.25 205.38 L575.50 205.55 L575.75 205.69 L576.00 205.79 L576.25 205.86 L576.50 205.90 L576.75 205.92 L577.00 205.94 L577.25 205.95 L577.50 205.96 L577.75 205.97 L578.00 205.97 L578.25 205.98 L578.50 205.98 L578.75 205.98 L579.00 205.99 L579.25 205.99 L579.50 205.99 L579.75 205.99 L580.00 205.99 L580.25 205.99 L580.50 205.99 L580.75 206.00 L581.00 206.00 L581.25 206.00 L581.50 206.00 L581.75 206.00 L582.00 206.00 L582.25 205.99 L582.50 205.99 L582.75 205.99 L583.00 205.99 L583.25 205.99 L583.50 205.98 L583.75 205.98 L584.00 205.97 L584.25 205.96 L584.50 205.94 L584.75 205.90 L585.00 205.85 L585.25 205.77 L585.50 205.66 L585.75 205.51 L586.00 205.35 L586.25 205.20 L586.50 205.13 L586.75 205.16 L587.00 205.29 L587.25 205.45 L587.50 205.61 L587.75 205.74 L588.00 205.83 L588.25 205.89 L588.50 205.93 L588.75 205.96 L589.00 205.98 L589.25 205.99 L589.50 205.99 L589.75 206.00 L590.00 206.01 L590.25 206.01 L590.50 206.01 L590.75 206.02 L591.00 206.02 L591.25 206.02 L591.50 206.02 L591.75 206.02 L592.00 206.03 L592.25 206.03 L592.50 206.03 L592.75 206.03 L593.00 206.03 L593.25 206.03 L593.50 206.03 L593.75 206.04 L594.00 206.04 L594.25 206.04 L594.50 206.04 L594.75 206.04 L595.00 206.04 L595.25 206.04 L595.50 206.04 L595.75 206.04 L596.00 206.04 L596.25 206.04 L596.50 206.04 L596.75 206.04 L597.00 206.05 L597.25 206.05 L597.50 206.05 L597.75 206.05 L598.00 206.05 L598.25 206.05 L598.50 206.05 L598.75 206.05 L599.00 206.05 L599.25 206.05 L599.50 206.05 L599.75 206.05 L600.00 206.05 L600.25 206.05 L600.50 206.05 L600.75 206.05 L601.00 206.05 L601.25 206.05 L601.50 206.05 L601.75 206.06 L602.00 206.06 L602.25 206.06 L602.50 206.06 L602.75 206.06 L603.00 206.06 L603.25 206.06 L603.50 206.06 L603.75 206.06 L604.00 206.06 L604.25 206.06 L604.50 206.06 L604.75 206.06 L605.00 206.06 L605.25 206.06 L605.50 206.06 L605.75 206.06 L606.00 206.06 L606.25 206.06 L606.50 206.06 L606.75 206.06 L607.00 206.06 L607.25 206.06 L607.50 206.06 L607.75 206.06 L608.00 206.06 L608.25 206.06 L608.50 206.06 L608.75 206.06 L609.00 206.06 L609.25 206.06 L609.50 206.05 L609.75 206.05 L610.00 206.05 L610.25 206.04 L610.50 206.04 L610.75 206.03 L611.00 206.01 L611.25 205.99 L611.50 205.94 L611.75 205.88 L612.00 205.80 L612.25 205.69 L612.50 205.59 L612.75 205.50 L613.00 205.48 L613.25 205.53 L613.50 205.63 L613.75 205.74 L614.00 205.84 L614.25 205.91 L614.50 205.97 L614.75 206.00 L615.00 206.03 L615.25 206.04 L615.50 206.05 L615.75 206.06 L616.00 206.06 L616.25 206.07 L616.50 206.07 L616.75 206.07 L617.00 206.07 L617.25 206.08 L617.50 206.08 L617.75 206.08 L618.00 206.08 L618.25 206.08 L618.50 206.08 L618.75 206.08 L619.00 206.08 L619.25 206.09 L619.50 206.09 L619.75 206.09 L620.00 206.09 L620.25 206.09 L620.50 206.09 L620.75 206.09 L621.00 206.09 L621.25 206.09 L621.50 206.09 L621.75 206.09 L622.00 206.09 L622.25 206.09 L622.50 206.10 L622.75 206.10 L623.00 206.10 L623.25 206.10 L623.50 206.10 L623.75 206.10 L624.00 206.10 L624.25 206.10 L624.50 206.10 L624.75 206.10 L625.00 206.10 L625.25 206.10 L625.50 206.10 L625.75 206.10 L626.00 206.10 L626.25 206.10 L626.50 206.10 L626.75 206.10 L627.00 206.11 L627.25 206.11 L627.50 206.11 L627.75 206.11 L628.00 206.11 L628.25 206.11 L628.50 206.11 L628.75 206.11 L629.00 206.11 L629.25 206.11 L629.50 206.11 L629.75 206.11 L630.00 206.11 L630.25 206.11 L630.50 206.11 L630.75 206.11 L631.00 206.11 L631.25 206.11 L631.50 206.11 L631.75 206.11 L632.00 206.12 L632.25 206.12 L632.50 206.12 L632.75 206.12 L633.00 206.12 L633.25 206.12 L633.50 206.12 L633.75 206.12 L634.00 206.12 L634.25 206.12 L634.50 206.12 L634.75 206.12 L635.00 206.12 L635.25 206.12 L635.50 206.12 L635.75 206.12 L636.00 206.12 L636.25 206.12 L636.50 206.12 L636.75 206.12 L637.00 206.12 L637.25 206.13 L637.50 206.13 L637.75 206.13 L638.00 206.13 L638.25 206.13 L638.50 206.13 L638.75 206.13 L639.00 206.13 L639.25 206.13 L639.50 206.13 L639.75 206.13 L640.00 206.13 L640.25 206.13 L640.50 206.13 L640.75 206.13 L641.00 206.13 L641.25 206.13 L641.50 206.13 L641.75 206.13 L642.00 206.13 L642.25 206.13 L642.50 206.14 L642.75 206.14 L643.00 206.14 L643.25 206.14 L643.50 206.14 L643.75 206.14 L644.00 206.14 L644.25 206.14 L644.50 206.14 L644.75 206.14 L645.00 206.14 L645.25 206.14 L645.50 206.14 L645.75 206.14 L646.00 206.14 L646.25 206.14 L646.50 206.14 L646.75 206.14 L647.00 206.14 L647.25 206.14 L647.50 206.14 L647.75 206.14 L648.00 206.15 L648.25 206.15 L648.50 206.15 L648.75 206.15 L649.00 206.15 L649.25 206.15 L649.50 206.15 L649.75 206.15 L650.00 206.15 L650.25 206.15 L650.50 206.15 L650.75 206.15 L651.00 206.15 L651.25 206.15 L651.50 206.15 L651.75 206.15 L652.00 206.15 L652.25 206.15 L652.50 206.15 L652.75 206.15 L653.00 206.15 L653.25 206.16 L653.50 206.16 L653.75 206.16 L654.00 206.16 L654.25 206.16 L654.50 206.16 L654.75 206.16 L655.00 206.16 L655.25 206.16 L655.50 206.16 L655.75 206.16 L656.00 206.16 L656.25 206.16 L656.50 206.16 L656.75 206.16 L657.00 206.16 L657.25 206.16 L657.50 206.16 L657.75 206.16 L658.00 206.16 L658.25 206.16 L658.50 206.16 L658.75 206.17 L659.00 206.17 L659.25 206.17 L659.50 206.17 L659.75 206.17 L660.00 206.17 L660.25 206.17 L660.50 206.17 L660.75 206.17 L661.00 206.17 L661.25 206.17 L661.50 206.17 L661.75 206.17 L662.00 206.17 L662.25 206.17 L662.50 206.17 L662.75 206.17 L663.00 206.17 L663.25 206.17 L663.50 206.17 L663.75 206.17 L664.00 206.18 L664.25 206.18 L664.50 206.18 L664.75 206.18 L665.00 206.18 L665.25 206.18 L665.50 206.18 L665.75 206.18 L666.00 206.18 L666.25 206.18 L666.50 206.18 L666.75 206.18 L667.00 206.18 L667.25 206.18 L667.50 206.18 L667.75 206.18 L668.00 206.18 L668.25 206.18 L668.50 206.18 L668.75 206.18 L669.00 206.18 L669.25 206.18 L669.50 206.19 L669.75 206.19 L670.00 206.19 L670.25 206.19 L670.50 206.19 L670.75 206.19 L671.00 206.19 L671.25 206.19 L671.50 206.19 L671.75 206.19 L672.00 206.19 L672.25 206.19 L672.50 206.19 L672.75 206.19 L673.00 206.19 L673.25 206.19 L673.50 206.19 L673.75 206.19 L674.00 206.19 L674.25 206.19 L674.50 206.19 L674.75 206.20 L675.00 206.20 L675.25 206.20 L675.50 206.20 L675.75 206.20 L676.00 206.20 L676.25 206.20 L676.50 206.20 L676.75 206.20 L677.00 206.20 L677.25 206.20 L677.50 206.20 L677.75 206.20 L678.00 206.20 L678.25 206.20 L678.50 206.20 L678.75 206.20 L679.00 206.20 L679.25 206.20 L679.50 206.20 L679.75 206.20 L680.00 206.20 L680.25 206.21 L680.50 206.21 L680.75 206.21 L681.00 206.21 L681.25 206.21 L681.50 206.21 L681.75 206.21 L682.00 206.21 L682.25 206.21 L682.50 206.21 L682.75 206.21 L683.00 206.21 L683.25 206.21 L683.50 206.21 L683.75 206.21 L684.00 206.21 L684.25 206.21 L684.50 206.21 L684.75 206.21 L685.00 206.21 L685.25 206.21 L685.50 206.22 L685.75 206.22 L686.00 206.22 L686.25 206.22 L686.50 206.22 L686.75 206.22 L687.00 206.22 L687.25 206.22 L687.50 206.22 L687.75 206.22 L688.00 206.22 L688.25 206.22 L688.50 206.22 L688.75 206.22 L689.00 206.22 L689.25 206.22 L689.50 206.22 L689.75 206.22 L690.00 206.22 L690.25 206.22 L690.50 206.22 L690.75 206.22 L691.00 206.23 L691.25 206.23 L691.50 206.23 L691.75 206.23 L692.00 206.23 L692.25 206.23 L692.50 206.23 L692.75 206.23 L693.00 206.23 L693.25 206.23 L693.50 206.23 L693.75 206.23 L694.00 206.23 L694.25 206.23 L694.50 206.23 L694.75 206.23 L695.00 206.23 L695.25 206.23 L695.50 206.23 L695.75 206.23 L696.00 206.23 L696.25 206.23 L696.50 206.24 L696.75 206.24 L697.00 206.24 L697.25 206.24 L697.50 206.24 L697.75 206.24 L698.00 206.24 L698.25 206.24 L698.50 206.24 L698.75 206.24 L699.00 206.24 L699.25 206.24 L699.50 206.24 L699.75 206.24 L700.00 206.24 L700.25 206.24 L700.50 206.24 L700.75 206.24 L701.00 206.24 L701.25 206.24 L701.50 206.24 L701.75 206.25 L702.00 206.25 L702.25 206.25 L702.50 206.25 L702.75 206.25 L703.00 206.25 L703.25 206.25 L703.50 206.25 L703.75 206.25 L704.00 206.25 L704.25 206.25 L704.50 206.25 L704.75 206.25 L705.00 206.25 L705.25 206.25 L705.50 206.25 L705.75 206.25 L706.00 206.25 L706.25 206.25 L706.50 206.25 L706.75 206.25 L707.00 206.25 L707.25 206.26 L707.50 206.26 L707.75 206.26 L708.00 206.26 L708.25 206.26 L708.50 206.26 L708.75 206.26 L709.00 206.26 L709.25 206.26 L709.50 206.26 L709.75 206.26 L710.00 206.26 L710.25 206.26 L710.50 206.26 L710.75 206.26 L711.00 206.26 L711.25 206.26 L711.50 206.26 L711.75 206.26 L712.00 206.26 L712.25 206.26 L712.50 206.26 L712.75 206.27 L713.00 206.27 L713.25 206.27 L713.50 206.27 L713.75 206.27 L714.00 206.27 L714.25 206.27 L714.50 206.27 L714.75 206.27 L715.00 206.27 L715.25 206.27 L715.50 206.27 L715.75 206.27 L716.00 206.27 L716.25 206.27 L716.50 206.27 L716.75 206.27 L717.00 206.27 L717.25 206.27 L717.50 206.27 L717.75 206.27 L718.00 206.28 L718.25 206.28 L718.50 206.28 L718.75 206.28 L719.00 206.28 L719.25 206.28 L719.50 206.28 L719.75 206.28 L720.00 206.28 L720.25 206.28 L720.50 206.28 L720.75 206.28 L721.00 206.28 L721.25 206.28 L721.50 206.28 L721.75 206.28 L722.00 206.28 L722.25 206.28 L722.50 206.28 L722.75 206.28 L723.00 206.28 L723.25 206.28 L723.50 206.29 L723.75 206.29 L724.00 206.29 L724.25 206.29 L724.50 206.29 L724.75 206.29 L725.00 206.29 L725.25 206.29 L725.50 206.29 L725.75 206.29 L726.00 206.29 L726.25 206.29 L726.50 206.29 L726.75 206.29 L727.00 206.29 L727.25 206.29 L727.50 206.29 L727.75 206.29 L728.00 206.29 L728.25 206.29 L728.50 206.29 L728.75 206.30 L729.00 206.30 L729.25 206.30 L729.50 206.30 L729.75 206.30 L730.00 206.30 L730.25 206.30 L730.50 206.30 L730.75 206.30 L731.00 206.30 L731.25 206.30 L731.50 206.30 L731.75 206.30 L732.00 206.30 L732.25 206.30 L732.50 206.30 L732.75 206.30 L733.00 206.30 L733.25 206.30 L733.50 206.30 L733.75 206.30 L734.00 206.30 L734.25 206.31 L734.50 206.31 L734.75 206.31 L735.00 206.31 L735.25 206.31 L735.50 206.31 L735.75 206.31 L736.00 206.31 L736.25 206.31 L736.50 206.31 L736.75 206.31 L737.00 206.31 L737.25 206.31 L737.50 206.31 L737.75 206.31 L738.00 206.31 L738.25 206.31 L738.50 206.31 L738.75 206.31 L739.00 206.31 L739.25 206.31 L739.50 206.31 L739.75 206.32 L740.00 206.32 L740.25 206.32 L740.50 206.32 L740.75 206.32 L741.00 206.32 L741.25 206.32 L741.50 206.32 L741.75 206.32 L742.00 206.32 L742.25 206.32 L742.50 206.32 L742.75 206.32 L743.00 206.32 L743.25 206.32 L743.50 206.32 L743.75 206.32 L744.00 206.32 L744.25 206.32 L744.50 206.32 L744.75 206.32 L745.00 206.33 L745.25 206.33 L745.50 206.33 L745.75 206.33 L746.00 206.33 L746.25 206.33 L746.50 206.33 L746.75 206.33 L747.00 206.33 L747.25 206.33 L747.50 206.33 L747.75 206.33 L748.00 206.33 L748.25 206.33 L748.50 206.33 L748.75 206.33 L749.00 206.33 L749.25 206.33 L749.50 206.33 L749.75 206.33 L750.00 206.33 L750.25 206.33 L750.50 206.34 L750.75 206.34 L751.00 206.34 L751.25 206.34 L751.50 206.34 L751.75 206.34 L752.00 206.34 L752.25 206.34 L752.50 206.34 L752.75 206.34 L753.00 206.34 L753.25 206.34 L753.50 206.34 L753.75 206.34 L754.00 206.34 L754.25 206.34 L754.50 206.34 L754.75 206.34 L755.00 206.34 L755.25 206.34 L755.50 206.34 L755.75 206.34 L756.00 206.35 L756.25 206.35 L756.50 206.35 L756.75 206.35 L757.00 206.35 L757.25 206.35 L757.50 206.35 L757.75 206.35 L758.00 206.35 L758.25 206.35" stroke="#111111" stroke-width="1.30" fill="none" stroke-linejoin="round"/></g>
<g><rect x="56.00" y="6.50" width="296.00" height="214.60" fill="none" stroke="#202020" stroke-width="1.4"/>
<line x1="78.50" y1="221.10" x2="78.50" y2="218.40" stroke="#202020" stroke-width="1.3"/>
<line x1="117.50" y1="221.10" x2="117.50" y2="216.50" stroke="#202020" stroke-width="1.3"/>
<line x1="156.50" y1="221.10" x2="156.50" y2="218.40" stroke="#202020" stroke-width="1.3"/>
<line x1="195.50" y1="221.10" x2="195.50" y2="216.50" stroke="#202020" stroke-width="1.3"/>
<line x1="234.50" y1="221.10" x2="234.50" y2="218.40" stroke="#202020" stroke-width="1.3"/>
<line x1="273.50" y1="221.10" x2="273.50" y2="216.50" stroke="#202020" stroke-width="1.3"/>
<line x1="312.50" y1="221.10" x2="312.50" y2="218.40" stroke="#202020" stroke-width="1.3"/>
<line x1="351.50" y1="221.10" x2="351.50" y2="216.50" stroke="#202020" stroke-width="1.3"/>
<rect x="460.00" y="4.40" width="298.40" height="216.40" fill="none" stroke="#202020" stroke-width="1.4"/>
<line x1="482.75" y1="220.80" x2="482.75" y2="218.10" stroke="#202020" stroke-width="1.3"/>
<line x1="522.10" y1="220.80" x2="522.10" y2="216.20" stroke="#202020" stroke-width="1.3"/>
<line x1="561.45" y1="220.80" x2="561.45" y2="218.10" stroke="#202020" stroke-width="1.3"/>
<line x1="600.80" y1="220.80" x2="600.80" y2="216.20" stroke="#202020" stroke-width="1.3"/>
<line x1="640.15" y1="220.80" x2="640.15" y2="218.10" stroke="#202020" stroke-width="1.3"/>
<line x1="679.50" y1="220.80" x2="679.50" y2="216.20" stroke="#202020" stroke-width="1.3"/>
<line x1="718.85" y1="220.80" x2="718.85" y2="218.10" stroke="#202020" stroke-width="1.3"/>
<line x1="758.20" y1="220.80" x2="758.20" y2="216.20" stroke="#202020" stroke-width="1.3"/>
<line x1="273.90" y1="20.50" x2="299.70" y2="20.50" stroke="#1026ea" stroke-width="1.25"/>
<line x1="274.30" y1="69.50" x2="300.60" y2="69.50" stroke="#ac2cf6" stroke-width="1.25"/>
<line x1="273.50" y1="134.60" x2="299.90" y2="134.60" stroke="#1a2260" stroke-width="1.25"/>
<line x1="216.80" y1="181.60" x2="242.90" y2="181.60" stroke="#111111" stroke-width="1.25"/>
<line x1="677.00" y1="24.50" x2="703.10" y2="24.50" stroke="#18be18" stroke-width="1.25"/>
<line x1="678.20" y1="60.00" x2="704.40" y2="60.00" stroke="#ff0c36" stroke-width="1.25"/>
<line x1="679.00" y1="100.90" x2="705.20" y2="100.90" stroke="#4430f2" stroke-width="1.25"/>
<line x1="678.40" y1="140.50" x2="705.20" y2="140.50" stroke="#ff5818" stroke-width="1.25"/>
<line x1="622.90" y1="187.40" x2="649.20" y2="187.40" stroke="#111111" stroke-width="1.25"/></g>
<g class="t" font-family="Liberation Sans, sans-serif" fill="#111111" stroke="#111111" stroke-width="0.25"><text x="117.50" y="239.50" font-size="17.50" text-anchor="middle" >10</text>
<text x="195.40" y="239.50" font-size="17.50" text-anchor="middle" >20</text>
<text x="273.40" y="239.50" font-size="17.50" text-anchor="middle" >30</text>
<text x="351.40" y="239.50" font-size="17.50" text-anchor="middle" >40</text>
<text x="522.30" y="239.50" font-size="17.50" text-anchor="middle" >10</text>
<text x="600.50" y="239.50" font-size="17.50" text-anchor="middle" >20</text>
<text x="679.30" y="239.50" font-size="17.50" text-anchor="middle" >30</text>
<text x="758.00" y="239.50" font-size="17.50" text-anchor="middle" >40</text>
<text x="0.00" y="0.00" font-size="17.50" text-anchor="middle" transform="translate(210.55 257.8) scale(1.052 1)">2Theta (degree)</text>
<text x="0.00" y="0.00" font-size="17.50" text-anchor="middle" transform="translate(613.25 257.8) scale(1.055 1)">2Theta (degree)</text>
<text x="0.00" y="0.00" font-size="17.50" text-anchor="middle" transform="translate(44.0 119.25) rotate(-90) scale(1.05 1)">Intensity (a.u.)</text>
<text x="0.00" y="0.00" font-size="17.50" text-anchor="middle" transform="translate(445.9 121.5) rotate(-90) scale(1.05 1)">Intensity (a.u.)</text>
<text x="0.00" y="0.00" font-size="17.00" text-anchor="start" font-weight="bold" transform="translate(0.9 21.9) scale(1.02 1)">(<tspan font-size="15" dx="0.4">a</tspan><tspan dx="1.2">)</tspan></text>
<text x="0.00" y="0.00" font-size="17.00" text-anchor="start" font-weight="bold" transform="translate(401.6 21.9) scale(1.02 1)">(b)</text>
<text x="302.50" y="24.30" font-size="14.40" text-anchor="start" >SIM-1</text>
<text x="302.70" y="72.90" font-size="14.40" text-anchor="start" >ZIF-90</text>
<text x="301.60" y="138.40" font-size="14.40" text-anchor="start" >ZIF-8</text>
<text x="245.30" y="185.60" font-size="14.40" text-anchor="start" >Simulated SOD</text>
<text x="705.40" y="27.70" font-size="14.40" text-anchor="start" >ZIF-97</text>
<text x="706.80" y="63.90" font-size="14.40" text-anchor="start" >ZIF-93</text>
<text x="707.80" y="104.40" font-size="14.40" text-anchor="start" >ZIF-25</text>
<text x="707.80" y="143.60" font-size="14.40" text-anchor="start" >MAF-6</text>
<text x="652.00" y="190.90" font-size="14.40" text-anchor="start" >Simulated RHO</text></g>
</svg>
</body></html>
